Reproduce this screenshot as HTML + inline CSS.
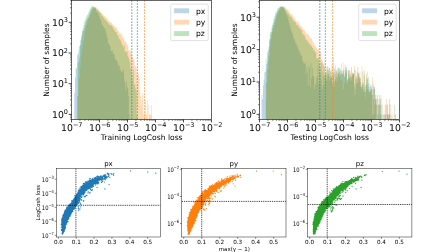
<!DOCTYPE html><html><head><meta charset="utf-8"><title>LogCosh loss</title>
<style>html,body{margin:0;padding:0;background:#fff}svg{display:block}text{font-family:"DejaVu Sans","Liberation Sans",sans-serif;fill:#000;text-rendering:geometricPrecision}</style></head><body>
<svg width="448" height="252" viewBox="0 0 448 252">
<rect width="448" height="252" fill="#fff"/>
<clipPath id="c1"><rect x="71.5" y="0.3" width="140" height="119.2"/></clipPath>
<g clip-path="url(#c1)">
<path d="M74.3 119.5V92.94H75V77.43H75.7V68.19H76.4V67.78H77.1V54.7H77.8V53.68H78.5V50.24H79.2V46.16H79.9V44.94H80.6V40.78H81.3V37.41H82V34.35H82.7V30.89H83.4V30.32H84.1V28.23H84.8V25.6H85.5V23.37H86.2V20.71H86.9V19.34H87.6V17.98H88.3V16.75H89V15.09H89.7V12.95H90.4V11.15H91.1V9.01H91.8V8.68H92.5V7.09H93.2V7.72H93.9V7.74H94.6V8.13H95.3V8.88H96V10.98H96.7V11.89H97.4V13.01H98.1V14.15H98.8V16H99.5V18.31H100.2V19.49H100.9V21.57H101.6V24H102.3V25.19H103V26.17H103.7V27.7H104.4V28.35H105.1V30.82H105.8V33.28H106.5V36.57H107.2V38.71H107.9V42.86H108.6V44.03H109.3V45.62H110V46.82H110.7V51.02H111.4V51.02H112.1V50.46H112.8V54.11H113.5V53.54H114.2V54.7H114.9V59.16H115.6V60.26H116.3V60.03H117V61.22H117.7V64.57H118.4V65.55H119.1V65.55H119.8V69.97H120.5V69.97H121.2V72.03H121.9V72.59H122.6V69.05H123.3V70.96H124V79.21H124.7V82.43H125.4V90.51H126.1V81.27H126.8V86.68H127.5V88.46H128.2V95.92H128.9V114.4H129.6V119.5" fill="#1f77b4" fill-opacity="0.3"/>
<path d="M77.8 119.5V95.92H78.5V78.29H79.2V77.43H79.9V66.62H80.6V56.66H81.3V51.61H82V49H82.7V45.09H83.4V41.05H84.1V35.31H84.8V30.89H85.5V27.64H86.2V25.36H86.9V22.31H87.6V20.59H88.3V19.09H89V16.74H89.7V15.72H90.4V14.08H91.1V12.81H91.8V10.68H92.5V8.76H93.2V8.32H93.9V7.21H94.6V6.85H95.3V6.9H96V7.37H96.7V8.47H97.4V8.87H98.1V9.68H98.8V10.39H99.5V11.41H100.2V11.82H100.9V12.68H101.6V13.89H102.3V13.88H103V14.9H103.7V16.01H104.4V16.08H105.1V17.31H105.8V17.71H106.5V18.12H107.2V19.52H107.9V20.23H108.6V21.1H109.3V21.61H110V22.3H110.7V22.54H111.4V23.08H112.1V24.31H112.8V25.77H113.5V24.82H114.2V25.94H114.9V26.79H115.6V27.36H116.3V27.96H117V30.47H117.7V31.3H118.4V31.49H119.1V33.65H119.8V32.77H120.5V33.8H121.2V35.27H121.9V35.56H122.6V37.96H123.3V38.09H124V40.57H124.7V41.5H125.4V41.67H126.1V43.3H126.8V45.24H127.5V45.31H128.2V49.81H128.9V51.14H129.6V49.92H130.3V51.73H131V55.17H131.7V55.01H132.4V57.95H133.1V58.74H133.8V60.26H134.5V65.22H135.2V66.26H135.9V67.78H136.6V74.46H137.3V83.7H138V73.81H138.7V77.43H139.4V90.51H140.1V95.92H140.8V105.16H141.5V99.75H142.2V92.94H142.9V114.4H143.6V119.5M144.3 119.5V114.4H145V99.75H145.7V114.4H146.4V114.4H147.1V99.75H147.8V119.5M148.5 119.5V105.16H149.2V114.4H149.9V114.4H150.6V114.4H151.3V105.16H152V119.5" fill="#ff7f0e" fill-opacity="0.3"/>
<path d="M77.1 119.5V95.92H77.8V62.79H78.5V60.73H79.2V57.2H79.9V45.31H80.6V39.66H81.3V35.52H82V30.97H82.7V28.19H83.4V25.04H84.1V21.59H84.8V20.06H85.5V18.44H86.2V16.55H86.9V15.36H87.6V14.16H88.3V12.03H89V10.58H89.7V8.81H90.4V7.9H91.1V6.95H91.8V6.28H92.5V5.81H93.2V6.61H93.9V6.85H94.6V7.6H95.3V8.09H96V9.03H96.7V9.53H97.4V9.97H98.1V10.93H98.8V11.6H99.5V12.48H100.2V12.96H100.9V14.24H101.6V15.76H102.3V16.28H103V17.25H103.7V17.94H104.4V19.51H105.1V19.99H105.8V20.4H106.5V21.22H107.2V22.62H107.9V22.78H108.6V24.16H109.3V24.67H110V25.34H110.7V25.09H111.4V25.82H112.1V26.62H112.8V28.02H113.5V29.24H114.2V29.75H114.9V31.76H115.6V32H116.3V32.65H117V35.03H117.7V35.31H118.4V37.58H119.1V38.99H119.8V39.61H120.5V40.68H121.2V43.11H121.9V44.8H122.6V44.65H123.3V47.24H124V45.62H124.7V51.85H125.4V51.14H126.1V52.22H126.8V51.25H127.5V56.31H128.2V57.57H128.9V59.59H129.6V62.24H130.3V68.62H131V67.38H131.7V80.2H132.4V74.46H133.1V69.5H133.8V85.1H134.5V83.7H135.2V88.46H135.9V90.51H136.6V114.4H137.3V119.5" fill="#2ca02c" fill-opacity="0.3"/>
<line x1="131.8" x2="131.8" y1="0.3" y2="119.5" stroke="#1f77b4" stroke-width="0.75" stroke-dasharray="1.6 1.4"/>
<line x1="137.35" x2="137.35" y1="0.3" y2="119.5" stroke="#2ca02c" stroke-width="0.75" stroke-dasharray="1.6 1.4"/>
<line x1="144.6" x2="144.6" y1="0.3" y2="119.5" stroke="#ff7f0e" stroke-width="0.75" stroke-dasharray="1.6 1.4"/>
</g>
<rect x="71.5" y="0.3" width="140" height="119.2" fill="none" stroke="#000" stroke-width="0.6"/>
<path d="M71.5 119.5v2.9M99.5 119.5v2.9M127.5 119.5v2.9M155.5 119.5v2.9M183.5 119.5v2.9M211.5 119.5v2.9" stroke="#000" stroke-width="0.7" fill="none"/>
<path d="M79.93 119.5v1.5M84.86 119.5v1.5M88.36 119.5v1.5M91.07 119.5v1.5M93.29 119.5v1.5M95.16 119.5v1.5M96.79 119.5v1.5M98.22 119.5v1.5M107.93 119.5v1.5M112.86 119.5v1.5M116.36 119.5v1.5M119.07 119.5v1.5M121.29 119.5v1.5M123.16 119.5v1.5M124.79 119.5v1.5M126.22 119.5v1.5M135.93 119.5v1.5M140.86 119.5v1.5M144.36 119.5v1.5M147.07 119.5v1.5M149.29 119.5v1.5M151.16 119.5v1.5M152.79 119.5v1.5M154.22 119.5v1.5M163.93 119.5v1.5M168.86 119.5v1.5M172.36 119.5v1.5M175.07 119.5v1.5M177.29 119.5v1.5M179.16 119.5v1.5M180.79 119.5v1.5M182.22 119.5v1.5M191.93 119.5v1.5M196.86 119.5v1.5M200.36 119.5v1.5M203.07 119.5v1.5M205.29 119.5v1.5M207.16 119.5v1.5M208.79 119.5v1.5M210.22 119.5v1.5" stroke="#000" stroke-width="0.45" fill="none"/>
<text x="71.8" y="130.6" font-size="9.3" text-anchor="middle">10<tspan dy="-3.7" font-size="6.5">−7</tspan></text>
<text x="99.8" y="130.6" font-size="9.3" text-anchor="middle">10<tspan dy="-3.7" font-size="6.5">−6</tspan></text>
<text x="127.8" y="130.6" font-size="9.3" text-anchor="middle">10<tspan dy="-3.7" font-size="6.5">−5</tspan></text>
<text x="155.8" y="130.6" font-size="9.3" text-anchor="middle">10<tspan dy="-3.7" font-size="6.5">−4</tspan></text>
<text x="183.8" y="130.6" font-size="9.3" text-anchor="middle">10<tspan dy="-3.7" font-size="6.5">−3</tspan></text>
<text x="211.8" y="130.6" font-size="9.3" text-anchor="middle">10<tspan dy="-3.7" font-size="6.5">−2</tspan></text>
<text x="68" y="117.8" font-size="9.3" text-anchor="end">10<tspan dy="-3.7" font-size="6.5">0</tspan></text>
<text x="68" y="87.1" font-size="9.3" text-anchor="end">10<tspan dy="-3.7" font-size="6.5">1</tspan></text>
<text x="68" y="56.4" font-size="9.3" text-anchor="end">10<tspan dy="-3.7" font-size="6.5">2</tspan></text>
<text x="68" y="25.7" font-size="9.3" text-anchor="end">10<tspan dy="-3.7" font-size="6.5">3</tspan></text>
<path d="M71.5 114.4h-2.9M71.5 83.7h-2.9M71.5 53h-2.9M71.5 22.3h-2.9" stroke="#000" stroke-width="0.7" fill="none"/>
<path d="M71.5 119.16h-1.5M71.5 117.38h-1.5M71.5 115.8h-1.5M71.5 105.16h-1.5M71.5 99.75h-1.5M71.5 95.92h-1.5M71.5 92.94h-1.5M71.5 90.51h-1.5M71.5 88.46h-1.5M71.5 86.68h-1.5M71.5 85.1h-1.5M71.5 74.46h-1.5M71.5 69.05h-1.5M71.5 65.22h-1.5M71.5 62.24h-1.5M71.5 59.81h-1.5M71.5 57.76h-1.5M71.5 55.98h-1.5M71.5 54.4h-1.5M71.5 43.76h-1.5M71.5 38.35h-1.5M71.5 34.52h-1.5M71.5 31.54h-1.5M71.5 29.11h-1.5M71.5 27.06h-1.5M71.5 25.28h-1.5M71.5 23.7h-1.5M71.5 13.06h-1.5M71.5 7.65h-1.5M71.5 3.82h-1.5M71.5 0.84h-1.5" stroke="#000" stroke-width="0.45" fill="none"/>
<text x="141.7" y="140.2" font-size="7.6" text-anchor="middle">Training LogCosh loss</text>
<text transform="translate(48.5 60.1) rotate(-90)" font-size="7.5" text-anchor="middle">Number of samples</text>
<rect x="170.7" y="4.1" width="37.5" height="36.5" rx="1.5" fill="#fff" fill-opacity="0.8" stroke="#ccc" stroke-width="0.6"/>
<rect x="174.1" y="8.3" width="15" height="4.9" fill="#1f77b4" fill-opacity="0.3"/>
<text x="195.9" y="13.5" font-size="7.6">px</text>
<rect x="174.1" y="19.7" width="15" height="4.9" fill="#ff7f0e" fill-opacity="0.3"/>
<text x="195.9" y="24.9" font-size="7.6">py</text>
<rect x="174.1" y="31.1" width="15" height="4.9" fill="#2ca02c" fill-opacity="0.3"/>
<text x="195.9" y="36.3" font-size="7.6">pz</text>
<clipPath id="c2"><rect x="259.5" y="0.3" width="140" height="119.2"/></clipPath>
<g clip-path="url(#c2)">
<path d="M261.6 119.5V94.89H262.3V98.94H263V85.14H263.7V79.43H264.4V72.25H265.1V71.56H265.8V58.8H266.5V63.98H267.2V52.22H267.9V50.47H268.6V46.24H269.3V41.02H270V39.16H270.7V34.62H271.4V31.93H272.1V27.88H272.8V24.89H273.5V23.61H274.2V20.36H274.9V18.16H275.6V16.01H276.3V14.02H277V12.47H277.7V10.67H278.4V9.88H279.1V8.63H279.8V7.54H280.5V6.59H281.2V6.62H281.9V7.33H282.6V6.84H283.3V8.45H284V8.35H284.7V10.48H285.4V12.77H286.1V14.21H286.8V15.03H287.5V17.67H288.2V20.29H288.9V22.94H289.6V25.36H290.3V28.95H291V30.96H291.7V32.5H292.4V34.57H293.1V37.82H293.8V38.89H294.5V40.57H295.2V43.43H295.9V43.16H296.6V45.38H297.3V47.03H298V49.46H298.7V52.22H299.4V50.77H300.1V54.62H300.8V54.42H301.5V55.88H302.2V61.48H302.9V61.15H303.6V64.37H304.3V63.59H305V62.15H305.7V73.73H306.4V66.54H307.1V71.56H307.8V85.14H308.5V65.63H309.2V68.02H309.9V87.02H310.6V63.59H311.3V78.31H312V68.02H312.7V76.29H313.4V76.29H314.1V89.19H314.8V83.48H315.5V85.14H316.2V78.31H316.9V76.29H317.6V65.63H318.3V83.48H319V72.97H319.7V83.48H320.4V73.73H321.1V79.43H321.8V89.19H322.5V85.14H323.2V76.29H323.9V85.14H324.6V78.31H325.3V72.97H326V79.43H326.7V80.66H327.4V65.63H328.1V70.28H328.8V80.66H329.5V76.29H330.2V78.31H330.9V77.27H331.6V72.97H332.3V83.48H333V72.97H333.7V87.02H334.4V68.55H335.1V79.43H335.8V70.28H336.5V82H337.2V72.97H337.9V74.53H338.6V72.25H339.3V76.29H340V69.11H340.7V70.91H341.4V79.43H342.1V74.53H342.8V89.19H343.5V70.28H344.2V77.27H344.9V73.73H345.6V71.56H346.3V70.28H347V83.48H347.7V80.66H348.4V70.28H349.1V70.28H349.8V77.27H350.5V80.66H351.2V67.02H351.9V76.29H352.6V73.73H353.3V73.73H354V83.48H354.7V94.89H355.4V89.19H356.1V83.48H356.8V72.25H357.5V83.48H358.2V73.73H358.9V77.27H359.6V78.31H360.3V82H361V89.19H361.7V87.02H362.4V85.14H363.1V91.75H363.8V75.39H364.5V89.19H365.2V91.75H365.9V85.14H366.6V85.14H367.3V89.19H368V83.48H368.7V89.19H369.4V91.75H370.1V85.14H370.8V87.02H371.5V89.19H372.2V94.89H372.9V83.48H373.6V114.4H374.3V87.02H375V94.89H375.7V104.65H376.4V104.65H377.1V94.89H377.8V114.4H378.5V104.65H379.2V94.89H379.9V98.94H380.6V104.65H381.3V114.4H382V119.5M383.4 119.5V114.4H384.1V114.4H384.8V119.5M386.9 119.5V114.4H387.6V114.4H388.3V119.5M389 119.5V98.94H389.7V114.4H390.4V119.5" fill="#1f77b4" fill-opacity="0.3"/>
<path d="M265.8 119.5V98.94H266.5V83.48H267.2V75.39H267.9V69.11H268.6V59.64H269.3V56.1H270V45.27H270.7V39.85H271.4V35.01H272.1V32.34H272.8V29.88H273.5V27.44H274.2V25.71H274.9V22.36H275.6V20.59H276.3V18.36H277V14.58H277.7V13.73H278.4V11.29H279.1V10.54H279.8V8.87H280.5V7.29H281.2V7.43H281.9V6.98H282.6V6.42H283.3V6.67H284V6.91H284.7V6.82H285.4V7.77H286.1V8.65H286.8V9.33H287.5V10.03H288.2V10.61H288.9V11.96H289.6V12.57H290.3V13.87H291V14.21H291.7V14.45H292.4V15.85H293.1V16.92H293.8V17.7H294.5V18.89H295.2V19.75H295.9V21.61H296.6V21.59H297.3V21.27H298V22.14H298.7V24.79H299.4V23.41H300.1V25.84H300.8V26.05H301.5V26.95H302.2V28.37H302.9V29.99H303.6V29.34H304.3V30.23H305V31.81H305.7V33.73H306.4V33.91H307.1V32.72H307.8V35.42H308.5V34.81H309.2V36.26H309.9V38.96H310.6V38.25H311.3V38.57H312V40.87H312.7V43.52H313.4V42.38H314.1V44.47H314.8V46.35H315.5V46.35H316.2V47.88H316.9V49.05H317.6V50.03H318.3V48.91H319V54.62H319.7V52.92H320.4V51.4H321.1V59.35H321.8V59.07H322.5V61.15H323.2V65.2H323.9V67.02H324.6V66.54H325.3V74.53H326V67.02H326.7V75.39H327.4V67.51H328.1V73.73H328.8V68.02H329.5V76.29H330.2V72.25H330.9V69.68H331.6V76.29H332.3V67.51H333V57.26H333.7V67.02H334.4V79.43H335.1V64.78H335.8V72.25H336.5V71.56H337.2V67.51H337.9V73.73H338.6V70.28H339.3V72.97H340V80.66H340.7V70.91H341.4V63.22H342.1V70.91H342.8V68.55H343.5V62.49H344.2V83.48H344.9V64.78H345.6V82H346.3V80.66H347V79.43H347.7V69.68H348.4V70.28H349.1V76.29H349.8V72.97H350.5V70.91H351.2V79.43H351.9V73.73H352.6V72.97H353.3V72.97H354V66.08H354.7V70.28H355.4V75.39H356.1V76.29H356.8V82H357.5V71.56H358.2V76.29H358.9V73.73H359.6V71.56H360.3V78.31H361V85.14H361.7V66.08H362.4V71.56H363.1V89.19H363.8V74.53H364.5V87.02H365.2V98.94H365.9V77.27H366.6V83.48H367.3V71.56H368V91.75H368.7V94.89H369.4V83.48H370.1V89.19H370.8V89.19H371.5V94.89H372.2V77.27H372.9V89.19H373.6V89.19H374.3V104.65H375V98.94H375.7V94.89H376.4V98.94H377.1V114.4H377.8V104.65H378.5V119.5M380.6 119.5V94.89H381.3V119.5M382 119.5V104.65H382.7V119.5M384.8 119.5V104.65H385.5V114.4H386.2V98.94H386.9V104.65H387.6V119.5M388.3 119.5V114.4H389V104.65H389.7V119.5M390.4 119.5V104.65H391.1V114.4H391.8V119.5M392.5 119.5V114.4H393.2V119.5M395.3 119.5V114.4H396V119.5" fill="#ff7f0e" fill-opacity="0.3"/>
<path d="M265.8 119.5V82H266.5V69.11H267.2V61.81H267.9V55.45H268.6V48.39H269.3V38.38H270V32.59H270.7V31.46H271.4V27.68H272.1V25.28H272.8V22.56H273.5V19.26H274.2V16.26H274.9V13.76H275.6V12.13H276.3V11.3H277V9.19H277.7V7.8H278.4V7.94H279.1V6.9H279.8V7.15H280.5V5.79H281.2V6.94H281.9V6.38H282.6V6.17H283.3V7.42H284V8.56H284.7V9.84H285.4V9.82H286.1V10.77H286.8V11.71H287.5V13.81H288.2V13.58H288.9V14.81H289.6V16.21H290.3V16.77H291V17.07H291.7V18.39H292.4V19.4H293.1V20.99H293.8V20.97H294.5V21.71H295.2V22.38H295.9V25.43H296.6V24.36H297.3V24.94H298V26.27H298.7V27.73H299.4V28.04H300.1V28.95H300.8V30.56H301.5V29.78H302.2V34.24H302.9V34H303.6V35.52H304.3V35.42H305V38.25H305.7V39.64H306.4V39.92H307.1V41.1H307.8V42.13H308.5V43.71H309.2V43.8H309.9V44.67H310.6V46.35H311.3V45.69H312V47.63H312.7V48.01H313.4V50.93H314.1V49.88H314.8V52.39H315.5V52.05H316.2V58.27H316.9V58.53H317.6V58.27H318.3V57.51H319V63.59H319.7V61.48H320.4V67.51H321.1V62.85H321.8V63.22H322.5V71.56H323.2V64.37H323.9V74.53H324.6V63.22H325.3V75.39H326V71.56H326.7V73.73H327.4V70.28H328.1V73.73H328.8V68.55H329.5V67.51H330.2V70.91H330.9V77.27H331.6V64.78H332.3V83.48H333V75.39H333.7V72.25H334.4V82H335.1V74.53H335.8V69.68H336.5V76.29H337.2V78.31H337.9V68.02H338.6V67.51H339.3V68.55H340V74.53H340.7V74.53H341.4V72.97H342.1V73.73H342.8V71.56H343.5V73.73H344.2V76.29H344.9V67.51H345.6V69.68H346.3V66.54H347V79.43H347.7V78.31H348.4V73.73H349.1V78.31H349.8V74.53H350.5V77.27H351.2V76.29H351.9V72.25H352.6V74.53H353.3V73.73H354V87.02H354.7V69.68H355.4V79.43H356.1V77.27H356.8V78.31H357.5V67.02H358.2V72.97H358.9V80.66H359.6V77.27H360.3V87.02H361V87.02H361.7V82H362.4V83.48H363.1V83.48H363.8V70.28H364.5V91.75H365.2V85.14H365.9V73.73H366.6V79.43H367.3V78.31H368V77.27H368.7V87.02H369.4V91.75H370.1V91.75H370.8V89.19H371.5V85.14H372.2V114.4H372.9V98.94H373.6V87.02H374.3V89.19H375V98.94H375.7V98.94H376.4V119.5M377.8 119.5V98.94H378.5V104.65H379.2V104.65H379.9V114.4H380.6V98.94H381.3V119.5M382.7 119.5V114.4H383.4V119.5M384.8 119.5V114.4H385.5V104.65H386.2V119.5M386.9 119.5V104.65H387.6V119.5M388.3 119.5V114.4H389V114.4H389.7V119.5M393.9 119.5V104.65H394.6V119.5M395.3 119.5V114.4H396V119.5" fill="#2ca02c" fill-opacity="0.3"/>
<line x1="319.8" x2="319.8" y1="0.3" y2="119.5" stroke="#1f77b4" stroke-width="0.75" stroke-dasharray="1.6 1.4"/>
<line x1="325.35" x2="325.35" y1="0.3" y2="119.5" stroke="#2ca02c" stroke-width="0.75" stroke-dasharray="1.6 1.4"/>
<line x1="332.65" x2="332.65" y1="0.3" y2="119.5" stroke="#ff7f0e" stroke-width="0.75" stroke-dasharray="1.6 1.4"/>
</g>
<rect x="259.5" y="0.3" width="140" height="119.2" fill="none" stroke="#000" stroke-width="0.6"/>
<path d="M259.5 119.5v2.9M287.5 119.5v2.9M315.5 119.5v2.9M343.5 119.5v2.9M371.5 119.5v2.9M399.5 119.5v2.9" stroke="#000" stroke-width="0.7" fill="none"/>
<path d="M267.93 119.5v1.5M272.86 119.5v1.5M276.36 119.5v1.5M279.07 119.5v1.5M281.29 119.5v1.5M283.16 119.5v1.5M284.79 119.5v1.5M286.22 119.5v1.5M295.93 119.5v1.5M300.86 119.5v1.5M304.36 119.5v1.5M307.07 119.5v1.5M309.29 119.5v1.5M311.16 119.5v1.5M312.79 119.5v1.5M314.22 119.5v1.5M323.93 119.5v1.5M328.86 119.5v1.5M332.36 119.5v1.5M335.07 119.5v1.5M337.29 119.5v1.5M339.16 119.5v1.5M340.79 119.5v1.5M342.22 119.5v1.5M351.93 119.5v1.5M356.86 119.5v1.5M360.36 119.5v1.5M363.07 119.5v1.5M365.29 119.5v1.5M367.16 119.5v1.5M368.79 119.5v1.5M370.22 119.5v1.5M379.93 119.5v1.5M384.86 119.5v1.5M388.36 119.5v1.5M391.07 119.5v1.5M393.29 119.5v1.5M395.16 119.5v1.5M396.79 119.5v1.5M398.22 119.5v1.5" stroke="#000" stroke-width="0.45" fill="none"/>
<text x="259.8" y="130.6" font-size="9.3" text-anchor="middle">10<tspan dy="-3.7" font-size="6.5">−7</tspan></text>
<text x="287.8" y="130.6" font-size="9.3" text-anchor="middle">10<tspan dy="-3.7" font-size="6.5">−6</tspan></text>
<text x="315.8" y="130.6" font-size="9.3" text-anchor="middle">10<tspan dy="-3.7" font-size="6.5">−5</tspan></text>
<text x="343.8" y="130.6" font-size="9.3" text-anchor="middle">10<tspan dy="-3.7" font-size="6.5">−4</tspan></text>
<text x="371.8" y="130.6" font-size="9.3" text-anchor="middle">10<tspan dy="-3.7" font-size="6.5">−3</tspan></text>
<text x="399.8" y="130.6" font-size="9.3" text-anchor="middle">10<tspan dy="-3.7" font-size="6.5">−2</tspan></text>
<text x="256" y="117.8" font-size="9.3" text-anchor="end">10<tspan dy="-3.7" font-size="6.5">0</tspan></text>
<text x="256" y="85.4" font-size="9.3" text-anchor="end">10<tspan dy="-3.7" font-size="6.5">1</tspan></text>
<text x="256" y="53" font-size="9.3" text-anchor="end">10<tspan dy="-3.7" font-size="6.5">2</tspan></text>
<text x="256" y="20.6" font-size="9.3" text-anchor="end">10<tspan dy="-3.7" font-size="6.5">3</tspan></text>
<path d="M259.5 114.4h-2.9M259.5 82h-2.9M259.5 49.6h-2.9M259.5 17.2h-2.9" stroke="#000" stroke-width="0.7" fill="none"/>
<path d="M259.5 119.42h-1.5M259.5 117.54h-1.5M259.5 115.88h-1.5M259.5 104.65h-1.5M259.5 98.94h-1.5M259.5 94.89h-1.5M259.5 91.75h-1.5M259.5 89.19h-1.5M259.5 87.02h-1.5M259.5 85.14h-1.5M259.5 83.48h-1.5M259.5 72.25h-1.5M259.5 66.54h-1.5M259.5 62.49h-1.5M259.5 59.35h-1.5M259.5 56.79h-1.5M259.5 54.62h-1.5M259.5 52.74h-1.5M259.5 51.08h-1.5M259.5 39.85h-1.5M259.5 34.14h-1.5M259.5 30.09h-1.5M259.5 26.95h-1.5M259.5 24.39h-1.5M259.5 22.22h-1.5M259.5 20.34h-1.5M259.5 18.68h-1.5M259.5 7.45h-1.5M259.5 1.74h-1.5" stroke="#000" stroke-width="0.45" fill="none"/>
<text x="329.7" y="140.2" font-size="7.6" text-anchor="middle">Testing LogCosh loss</text>
<text transform="translate(236.5 60.1) rotate(-90)" font-size="7.5" text-anchor="middle">Number of samples</text>
<rect x="358.7" y="4.1" width="37.5" height="36.5" rx="1.5" fill="#fff" fill-opacity="0.8" stroke="#ccc" stroke-width="0.6"/>
<rect x="362.1" y="8.3" width="15" height="4.9" fill="#1f77b4" fill-opacity="0.3"/>
<text x="383.9" y="13.5" font-size="7.6">px</text>
<rect x="362.1" y="19.7" width="15" height="4.9" fill="#ff7f0e" fill-opacity="0.3"/>
<text x="383.9" y="24.9" font-size="7.6">py</text>
<rect x="362.1" y="31.1" width="15" height="4.9" fill="#2ca02c" fill-opacity="0.3"/>
<text x="383.9" y="36.3" font-size="7.6">pz</text>
<clipPath id="s1"><rect x="56.4" y="168.4" width="104.1" height="68.6"/></clipPath>
<g clip-path="url(#s1)">
<path d="M63.7 220.3h0M76.0 202.4h0M79.1 196.4h0M62.8 228.8h0M64.9 219.3h0M94.8 180.5h0M63.6 224.8h0M63.0 220.0h0M98.1 182.5h0M79.4 195.0h0M70.1 207.5h0M75.0 200.9h0M79.7 191.8h0M67.3 212.1h0M62.3 219.3h0M86.7 187.2h0M80.3 191.6h0M76.3 201.6h0M88.0 185.9h0M78.8 200.2h0M102.5 177.3h0M66.1 216.0h0M76.4 198.6h0M75.2 203.0h0M69.7 208.2h0M78.0 196.6h0M67.3 214.6h0M86.2 185.1h0M90.8 184.0h0M64.9 220.6h0M75.8 204.6h0M67.5 212.0h0M62.4 223.6h0M91.1 180.1h0M71.7 204.2h0M64.9 219.3h0M80.2 191.3h0M68.7 217.3h0M92.5 181.5h0M66.2 215.2h0M64.0 228.5h0M65.5 216.0h0M67.4 207.1h0M73.4 202.9h0M92.3 180.3h0M81.0 189.5h0M68.6 208.5h0M63.4 230.4h0M65.4 218.6h0M108.9 173.9h0M74.8 204.4h0M82.0 191.1h0M64.0 226.3h0M62.6 228.2h0M91.6 187.3h0M78.0 196.9h0M68.6 210.6h0M67.1 208.9h0M65.2 223.5h0M63.8 217.3h0M63.0 229.3h0M89.4 185.3h0M75.1 204.2h0M63.8 220.4h0M85.0 189.7h0M66.3 216.7h0M64.8 225.7h0M78.5 196.3h0M91.8 181.3h0M62.7 229.0h0M87.7 186.7h0M67.6 217.6h0M66.0 223.5h0M63.3 230.2h0M66.3 210.0h0M82.7 188.5h0M74.2 201.7h0M90.0 184.5h0M64.8 214.7h0M67.9 209.6h0M68.8 213.8h0M101.6 177.1h0M96.4 180.5h0M68.5 208.2h0M72.6 204.5h0M69.1 210.6h0M84.0 188.0h0M64.2 227.7h0M63.7 225.1h0M71.8 206.2h0M65.4 213.1h0M88.0 182.7h0M83.0 187.5h0M78.0 200.0h0M79.4 191.7h0M81.2 190.3h0M85.9 186.9h0M94.8 180.6h0M62.7 218.6h0M77.8 193.6h0M64.3 219.4h0M72.1 203.5h0M84.2 184.2h0M91.6 181.1h0M84.5 187.3h0M64.9 228.3h0M72.3 209.8h0M62.9 217.8h0M112.1 174.2h0M62.9 219.0h0M67.4 214.1h0M70.0 208.2h0M63.8 225.7h0M90.1 182.3h0M81.1 194.8h0M63.0 218.0h0M76.1 202.5h0M65.0 224.3h0M76.7 194.3h0M70.0 215.9h0M62.7 227.7h0M66.7 222.0h0M77.7 199.2h0M80.0 194.1h0M70.6 211.0h0M80.0 193.6h0M69.2 208.0h0M65.7 220.7h0M68.1 209.8h0M70.5 205.8h0M95.7 185.1h0M62.1 220.8h0M65.4 223.8h0M76.4 198.0h0M99.3 179.6h0M93.5 182.3h0M81.5 189.8h0M63.4 225.1h0M87.5 186.3h0M82.3 191.9h0M63.4 219.2h0M73.0 202.9h0M62.3 226.6h0M88.3 187.9h0M83.3 189.9h0M87.6 186.6h0M85.6 188.5h0M66.6 212.3h0M85.7 185.7h0M66.3 213.3h0M64.9 220.0h0M72.8 208.1h0M75.7 202.3h0M69.1 212.5h0M76.9 194.9h0M78.8 196.1h0M66.5 213.9h0M79.7 195.1h0M70.8 208.8h0M88.0 192.9h0M68.6 211.9h0M86.4 185.7h0M73.0 206.4h0M77.9 199.4h0M80.4 191.4h0M78.2 202.3h0M65.9 212.6h0M102.0 177.3h0M63.1 222.6h0M71.3 211.4h0M78.1 199.8h0M63.1 228.9h0M67.0 219.3h0M86.2 185.4h0M85.1 185.6h0M78.1 192.9h0M93.3 183.0h0M84.8 188.1h0M67.3 210.3h0M79.9 193.3h0M68.3 208.2h0M88.2 191.8h0M70.1 206.3h0M64.2 218.8h0M89.6 180.5h0M81.9 191.1h0M84.2 188.4h0M76.6 198.3h0M85.7 186.5h0M72.7 203.8h0M76.1 197.6h0M63.3 225.5h0M77.3 199.0h0M89.5 188.0h0M84.2 191.8h0M86.6 185.6h0M73.8 201.3h0M92.3 184.6h0M64.4 221.9h0M90.0 181.4h0M68.8 206.2h0M65.1 223.4h0M80.6 195.9h0M73.5 203.9h0M74.1 206.3h0M89.6 184.1h0M66.3 220.3h0M79.9 195.7h0M73.6 207.0h0M74.6 199.5h0M73.7 201.0h0M65.3 220.3h0M74.7 200.7h0M90.4 184.0h0M67.4 218.5h0M64.2 231.2h0M65.3 225.3h0M74.9 204.5h0M100.4 176.4h0M63.0 227.2h0M106.4 177.0h0M76.7 200.1h0M65.4 221.3h0M73.8 206.8h0M67.8 216.6h0M83.7 190.6h0M79.2 200.9h0M67.8 211.4h0M65.8 212.7h0M91.4 185.1h0M85.5 187.9h0M74.3 205.9h0M72.8 207.0h0M81.5 186.5h0M100.4 178.7h0M65.3 224.2h0M65.8 218.8h0M69.0 207.1h0M76.0 201.8h0M64.6 224.8h0M64.5 226.4h0M64.5 214.4h0M72.1 207.9h0M82.9 187.6h0M77.8 195.0h0M63.5 228.9h0M62.0 226.9h0M74.1 204.6h0M91.0 183.2h0M92.6 179.3h0M69.0 206.9h0M91.6 182.5h0M96.4 183.1h0M72.1 206.3h0M84.5 188.6h0M70.6 208.1h0M65.4 219.0h0M77.7 197.7h0M63.3 223.4h0M79.3 191.5h0M88.6 187.4h0M94.0 181.6h0M72.6 203.7h0M65.1 221.4h0M92.3 181.0h0M90.3 182.7h0M100.0 179.4h0M77.9 196.4h0M82.2 192.5h0M69.0 206.3h0M65.5 217.2h0M69.6 212.5h0M82.4 188.8h0M68.0 209.0h0M81.7 190.8h0M74.7 201.4h0M74.9 205.4h0M100.2 179.7h0M67.3 218.7h0M76.5 203.5h0M63.7 218.2h0M96.9 182.4h0M75.8 203.0h0M69.8 209.8h0M67.9 218.8h0M77.7 196.2h0M71.6 206.5h0M67.1 221.2h0M63.8 228.5h0M71.7 207.1h0M74.8 195.7h0M75.7 200.8h0M92.0 181.0h0M95.0 184.1h0M96.2 181.2h0M88.6 188.4h0M75.8 203.8h0M77.6 201.5h0M71.5 206.5h0M73.2 207.7h0M61.3 227.2h0M84.6 183.4h0M67.4 213.9h0M62.3 228.7h0M74.3 203.6h0M82.2 188.9h0M72.2 204.2h0M72.0 209.2h0M81.6 193.3h0M66.3 218.6h0M62.6 231.1h0M77.9 196.5h0M75.7 200.0h0M88.8 180.8h0M70.5 204.3h0M85.6 186.0h0M63.1 230.2h0M62.9 229.0h0M78.4 196.3h0M69.1 215.9h0M64.5 225.2h0M65.7 220.9h0M71.4 208.0h0M70.4 209.9h0M75.9 197.7h0M92.6 184.1h0M71.8 209.0h0M64.9 216.8h0M76.6 196.9h0M62.9 233.3h0M73.1 208.7h0M71.0 211.7h0M72.3 207.9h0M65.2 226.8h0M75.4 198.1h0M79.8 195.0h0M84.7 188.4h0M97.5 177.4h0M69.2 207.8h0M80.2 192.6h0M72.6 204.1h0M66.6 215.6h0M92.2 183.1h0M82.5 186.7h0M95.7 178.4h0M87.8 185.1h0M93.2 179.9h0M63.7 220.4h0M63.2 230.5h0M65.6 216.2h0M70.6 204.6h0M80.9 190.5h0M73.4 205.0h0M80.9 204.4h0M85.0 187.7h0M63.2 224.7h0M81.1 191.4h0M62.3 226.6h0M65.0 212.8h0M82.6 188.9h0M80.9 190.9h0M72.7 206.9h0M66.9 210.3h0M87.3 183.7h0M67.9 212.4h0M64.4 228.7h0M70.3 215.1h0M62.3 229.7h0M87.3 185.6h0M64.1 220.8h0M100.7 177.5h0M68.8 216.6h0M69.2 211.2h0M78.3 197.2h0M70.0 211.6h0M72.0 208.2h0M62.3 221.7h0M72.1 207.6h0M62.3 229.2h0M67.4 215.3h0M93.5 182.0h0M67.8 212.0h0M66.2 211.9h0M83.5 193.0h0M91.8 183.4h0M67.7 210.8h0M72.1 208.5h0M83.2 190.0h0M87.8 188.2h0M79.9 195.9h0M64.6 217.1h0M64.4 216.9h0M86.9 190.1h0M82.1 189.8h0M92.4 182.3h0M85.8 186.9h0M72.5 205.6h0M62.0 219.6h0M93.3 184.8h0M80.9 189.6h0M77.0 197.3h0M81.5 191.4h0M73.2 208.8h0M71.8 210.6h0M80.7 199.2h0M74.5 202.6h0M81.6 189.1h0M95.1 179.3h0M90.1 185.2h0M71.1 206.9h0M71.5 208.3h0M94.7 180.6h0M72.4 207.4h0M87.8 187.4h0M64.1 223.1h0M74.5 204.9h0M76.0 201.2h0M88.3 187.1h0M90.3 181.7h0M63.8 218.7h0M79.6 195.4h0M79.8 194.6h0M67.2 219.6h0M89.1 185.5h0M76.5 198.7h0M98.7 178.7h0M63.8 216.2h0M75.0 199.9h0M71.2 211.5h0M80.6 194.0h0M77.3 194.9h0M74.9 200.8h0M68.4 209.3h0M76.5 202.4h0M69.7 206.9h0M91.7 182.0h0M73.9 203.8h0M75.3 203.7h0M65.7 212.5h0M70.2 214.6h0M98.2 180.7h0M68.3 210.0h0M90.8 183.8h0M80.0 197.3h0M102.4 177.3h0M64.9 218.2h0M95.6 178.5h0M86.5 188.6h0M77.1 197.9h0M82.1 189.5h0M83.9 190.0h0M78.2 208.1h0M80.7 194.7h0M67.9 215.3h0M62.0 229.6h0M80.8 191.4h0M75.8 204.0h0M92.4 180.6h0M70.1 214.0h0M89.4 187.5h0M103.7 175.4h0M93.3 183.5h0M99.1 178.4h0M63.9 218.3h0M63.7 217.9h0M67.5 215.1h0M71.6 209.1h0M65.3 221.6h0M64.1 218.9h0M63.4 230.2h0M95.4 180.4h0M70.4 208.3h0M79.4 194.6h0M74.1 204.4h0M82.9 187.3h0M88.4 187.4h0M70.8 206.9h0M76.9 200.2h0M64.0 222.7h0M67.3 211.3h0M68.7 216.0h0M67.2 209.6h0M67.9 208.9h0M78.4 198.1h0M69.9 209.9h0M70.2 210.5h0M87.3 183.4h0M62.4 231.0h0M62.9 232.3h0M63.6 226.0h0M91.0 184.6h0M82.9 196.1h0M84.6 190.2h0M98.1 178.8h0M66.1 215.2h0M94.9 182.4h0M65.7 213.4h0M76.4 201.2h0M80.5 190.8h0M85.7 185.0h0M68.9 214.5h0M73.8 202.6h0M63.0 227.0h0M70.3 213.2h0M102.7 177.8h0M93.3 182.4h0M78.9 197.8h0M86.1 186.6h0M92.8 182.0h0M71.9 211.4h0M102.9 178.8h0M72.8 203.8h0M66.4 218.9h0M75.9 200.1h0M78.4 196.6h0M81.8 190.7h0M83.3 193.4h0M64.2 227.6h0M77.9 192.6h0M94.9 182.0h0M81.3 192.2h0M102.4 181.4h0M77.5 202.4h0M86.4 184.5h0M64.3 219.6h0M92.4 182.4h0M72.7 204.6h0M91.7 184.3h0M69.0 210.0h0M79.4 194.7h0M88.0 182.6h0M85.0 192.1h0M77.7 194.0h0M100.1 178.1h0M62.3 223.1h0M63.4 222.2h0M75.8 198.5h0M96.7 176.3h0M81.9 191.3h0M70.0 211.6h0M63.7 221.8h0M74.0 204.7h0M73.2 202.0h0M75.4 204.2h0M78.0 194.3h0M69.6 213.3h0M90.9 182.3h0M66.1 210.3h0M64.6 222.1h0M69.3 208.3h0M96.6 182.0h0M62.6 218.0h0M68.0 212.3h0M94.3 180.0h0M70.5 209.3h0M89.3 184.6h0M62.8 227.0h0M91.3 181.8h0M65.1 213.5h0M63.1 216.4h0M84.2 188.6h0M106.1 178.0h0M98.3 178.9h0M85.3 188.8h0M97.1 187.4h0M103.9 175.2h0M77.4 199.2h0M67.2 220.1h0M90.5 185.5h0M72.7 207.6h0M67.7 209.7h0M75.3 201.8h0M62.8 228.1h0M63.3 230.1h0M66.1 212.3h0M79.1 196.8h0M83.1 186.9h0M98.3 179.6h0M87.5 185.0h0M96.1 179.8h0M78.6 193.2h0M84.3 189.4h0M76.4 196.1h0M64.4 224.0h0M62.9 225.5h0M85.1 188.0h0M68.1 217.0h0M85.6 185.6h0M75.3 204.5h0M63.2 232.0h0M78.6 199.2h0M72.9 204.3h0M62.6 224.4h0M69.1 213.7h0M69.5 211.4h0M69.8 208.9h0M81.9 189.6h0M63.1 217.5h0M73.2 204.5h0M78.9 195.8h0M97.0 180.4h0M65.1 221.6h0M62.4 223.9h0M67.5 217.4h0M67.5 215.6h0M67.6 219.0h0M64.9 224.5h0M68.3 216.6h0M68.2 215.7h0M74.7 203.0h0M80.9 193.8h0M69.5 207.4h0M64.2 217.7h0M65.6 223.3h0M69.4 213.7h0M64.1 217.5h0M73.7 202.3h0M92.0 185.6h0M80.9 187.7h0M65.8 216.0h0M63.2 228.1h0M63.2 225.0h0M74.5 206.1h0M71.3 208.7h0M82.4 192.1h0M65.2 223.9h0M66.8 213.2h0M80.6 190.4h0M78.4 198.6h0M73.6 199.7h0M92.4 181.5h0M65.5 221.8h0M67.2 217.1h0M77.4 198.3h0M77.8 198.5h0M102.2 177.4h0M101.4 177.2h0M78.2 197.0h0M84.4 187.4h0M81.3 189.8h0M63.6 220.0h0M79.7 196.6h0M69.7 211.6h0M71.3 209.1h0M63.3 218.3h0M63.2 231.7h0M89.0 183.1h0M82.5 189.2h0M85.4 189.0h0M67.5 211.3h0M71.4 204.9h0M64.7 217.3h0M77.0 195.2h0M87.3 182.5h0M86.4 187.8h0M96.7 182.6h0M66.0 212.4h0M79.9 188.2h0M61.6 219.9h0M76.4 199.9h0M63.5 221.6h0M75.8 199.3h0M76.5 199.5h0M70.1 209.0h0M68.1 207.4h0M81.7 188.9h0M75.0 203.1h0M71.4 205.6h0M63.9 221.5h0M68.2 212.1h0M89.1 183.9h0M100.7 178.8h0M71.9 208.5h0M91.5 184.8h0M90.4 182.5h0M66.9 215.5h0M65.2 211.1h0M82.1 190.8h0M68.1 210.4h0M97.7 178.8h0M70.9 208.4h0M82.8 188.3h0M83.4 190.9h0M68.3 216.4h0M90.3 183.5h0M68.0 208.7h0M62.9 221.4h0M64.1 226.7h0M72.9 203.6h0M79.8 194.3h0M64.6 211.1h0M90.4 186.3h0M65.1 211.6h0M90.1 185.2h0M62.6 228.3h0M66.1 212.4h0M64.9 218.5h0M72.8 203.8h0M71.9 210.1h0M70.2 205.6h0M91.1 186.2h0M76.4 196.7h0M77.9 195.4h0M73.3 208.5h0M86.9 185.3h0M74.2 201.1h0M84.8 188.8h0M93.6 181.1h0M78.9 195.5h0M71.9 204.0h0M67.5 212.9h0M94.1 182.4h0M83.9 186.1h0M86.1 185.3h0M64.9 214.4h0M74.1 205.7h0M90.0 180.2h0M66.3 213.5h0M86.9 184.7h0M76.8 200.0h0M65.7 215.0h0M72.6 209.0h0M65.3 224.5h0M80.3 191.3h0M83.6 189.4h0M62.9 228.8h0M70.1 212.2h0M85.3 187.4h0M68.0 217.1h0M75.4 199.3h0M86.7 185.4h0M77.8 198.1h0M66.1 221.4h0M93.2 181.5h0M84.1 188.1h0M79.3 199.2h0M70.1 210.0h0M76.3 196.5h0M71.0 206.5h0M64.7 221.2h0M62.1 220.4h0M63.2 227.1h0M64.6 217.7h0M69.6 214.9h0M80.7 194.6h0M79.3 198.1h0M77.4 196.4h0M85.3 181.8h0M63.9 222.8h0M71.9 207.4h0M62.5 223.9h0M71.8 205.2h0M61.7 223.9h0M63.2 225.1h0M65.1 222.4h0M71.4 206.9h0M85.5 188.1h0M69.5 212.9h0M82.8 187.4h0M67.6 214.8h0M71.2 213.8h0M76.1 204.4h0M63.3 224.4h0M74.3 204.9h0M76.2 196.3h0M89.7 187.2h0M64.3 226.2h0M86.1 185.2h0M77.1 197.8h0M77.7 197.5h0M63.7 226.6h0M91.9 184.1h0M68.9 212.8h0M77.6 199.8h0M77.2 200.1h0M93.1 181.0h0M78.9 196.3h0M105.9 175.1h0M66.9 214.6h0M80.5 192.3h0M83.7 200.6h0M76.4 201.6h0M80.4 195.1h0M79.8 200.6h0M69.9 209.6h0M78.0 192.5h0M65.6 224.0h0M75.9 203.7h0M74.0 204.4h0M65.3 215.1h0M76.8 197.8h0M80.5 191.7h0M65.9 221.1h0M68.0 211.0h0M64.0 225.6h0M77.8 196.0h0M64.1 223.9h0M65.6 214.2h0M73.1 204.1h0M74.6 204.9h0M62.7 228.3h0M98.4 183.6h0M68.2 215.3h0M79.0 195.6h0M66.1 214.9h0M77.5 196.0h0M69.8 208.4h0M70.1 211.0h0M74.4 203.2h0M78.3 197.1h0M77.3 195.7h0M81.0 190.5h0M69.1 213.3h0M62.8 222.9h0M68.2 213.8h0M70.5 210.8h0M78.3 195.5h0M72.1 205.7h0M69.8 211.3h0M62.9 222.3h0M79.7 197.1h0M62.4 221.3h0M75.2 200.6h0M81.4 190.8h0M80.8 195.7h0M65.5 218.7h0M68.4 207.1h0M95.8 179.3h0M64.7 223.3h0M83.0 192.7h0M74.7 206.3h0M78.4 195.0h0M71.7 206.9h0M64.3 220.8h0M77.3 198.4h0M62.7 232.1h0M90.3 183.7h0M87.2 186.8h0M69.9 207.0h0M77.9 200.6h0M76.6 200.7h0M102.3 177.8h0M63.6 227.3h0M69.9 212.3h0M72.4 206.5h0M85.2 185.4h0M83.7 189.2h0M78.7 210.5h0M63.8 231.2h0M80.1 193.2h0M73.2 207.2h0M63.2 221.0h0M78.4 193.6h0M72.9 204.1h0M66.5 209.2h0M67.4 212.5h0M78.6 202.3h0M66.7 213.5h0M70.5 205.9h0M96.0 179.4h0M73.0 202.1h0M65.5 212.7h0M76.7 201.2h0M94.8 182.8h0M90.6 183.9h0M82.2 192.2h0M93.2 183.2h0M85.4 188.6h0M82.7 192.4h0M74.0 206.3h0M63.9 218.9h0M83.0 188.4h0M81.1 194.9h0M99.9 178.9h0M69.7 210.5h0M91.9 184.5h0M66.1 215.1h0M97.0 180.5h0M108.9 175.3h0M63.6 226.9h0M69.6 210.2h0M111.0 173.5h0M99.5 177.6h0M82.6 192.9h0M66.1 220.5h0M62.8 232.0h0M65.8 213.1h0M95.9 178.4h0M86.7 185.4h0M71.7 204.3h0M84.3 187.0h0M93.1 182.5h0M67.4 210.3h0M91.4 184.1h0M68.6 213.0h0M67.8 208.6h0M63.9 227.2h0M66.9 219.0h0M75.7 198.5h0M62.2 229.3h0M76.5 199.3h0M66.3 218.2h0M82.9 186.8h0M63.1 220.2h0M64.1 215.0h0M66.5 212.1h0M76.9 196.7h0M88.0 186.8h0M83.4 186.8h0M84.5 188.9h0M80.1 190.4h0M74.3 198.4h0M72.8 211.4h0M63.8 216.8h0M89.6 182.5h0M74.4 208.0h0M81.0 193.6h0M63.0 224.9h0M69.1 207.3h0M63.8 222.4h0M70.0 208.4h0M82.1 187.4h0M68.8 208.4h0M80.7 190.8h0M65.9 221.2h0M72.9 208.5h0M73.8 207.4h0M74.8 201.0h0M67.0 214.9h0M81.0 189.5h0M90.5 181.3h0M87.3 185.4h0M62.4 228.5h0M76.0 203.2h0M70.0 209.1h0M78.8 198.4h0M63.6 223.7h0M82.4 188.1h0M74.1 207.2h0M96.1 178.9h0M64.2 230.2h0M71.4 204.9h0M76.6 203.6h0M88.0 184.3h0M84.3 187.4h0M66.9 217.8h0M67.5 209.9h0M85.2 190.1h0M74.5 207.3h0M67.6 213.0h0M95.3 180.8h0M89.4 184.8h0M70.9 209.0h0M77.4 199.4h0M95.8 182.0h0M65.0 214.8h0M93.9 182.6h0M91.1 182.0h0M84.4 190.2h0M82.4 191.8h0M81.8 191.4h0M76.6 199.4h0M78.0 197.3h0M67.6 217.1h0M77.1 198.4h0M82.3 192.6h0M75.2 202.9h0M81.8 191.8h0M72.5 202.9h0M87.1 186.1h0M82.7 189.1h0M65.8 223.7h0M85.0 187.0h0M68.7 212.3h0M66.3 224.3h0M62.2 220.5h0M67.9 209.0h0M75.5 200.3h0M68.5 209.0h0M63.4 215.0h0M86.2 188.5h0M70.9 207.7h0M90.2 182.0h0M65.9 213.4h0M81.8 191.0h0M68.7 207.2h0M89.1 183.6h0M79.6 193.0h0M81.7 191.8h0M64.2 223.1h0M85.9 189.4h0M68.9 207.6h0M84.4 189.0h0M89.4 184.6h0M62.2 220.4h0M62.6 230.5h0M85.0 188.0h0M99.3 176.9h0M93.0 182.7h0M72.2 204.3h0M88.2 184.3h0M61.3 229.3h0M62.2 225.7h0M78.4 197.6h0M77.8 201.3h0M87.7 184.6h0M67.0 214.6h0M75.9 205.0h0M106.0 177.7h0M71.0 212.8h0M70.7 205.3h0M79.4 196.1h0M107.8 174.0h0M63.3 216.3h0M81.0 190.3h0M74.5 207.8h0M71.9 206.6h0M65.9 212.6h0M75.5 204.5h0M76.8 197.3h0M69.7 205.4h0M73.1 200.2h0M79.6 193.9h0M89.4 183.8h0M78.9 199.3h0M72.9 208.7h0M99.0 179.7h0M65.0 217.7h0M63.6 227.1h0M93.1 181.5h0M69.3 213.5h0M62.3 218.4h0M69.3 205.5h0M69.4 208.8h0M68.4 207.2h0M89.0 183.3h0M69.7 212.6h0M64.8 220.3h0M64.6 214.7h0M97.7 181.1h0M72.8 205.2h0M69.9 207.9h0M85.6 187.0h0M94.9 179.0h0M77.9 202.8h0M88.5 186.7h0M66.3 212.3h0M71.3 209.6h0M78.6 198.1h0M65.0 213.5h0M66.8 211.8h0M65.7 217.0h0M67.9 213.1h0M88.6 184.2h0M86.0 185.7h0M64.1 221.5h0M70.8 209.4h0M82.8 189.0h0M89.7 183.3h0M75.8 197.9h0M84.2 190.0h0M69.5 215.4h0M86.2 187.2h0M87.2 184.4h0M73.4 207.3h0M67.9 214.8h0M64.4 228.5h0M78.6 193.9h0M80.2 194.6h0M62.7 233.7h0M74.8 200.2h0M97.5 183.2h0M63.7 228.9h0M62.3 219.3h0M62.5 225.8h0M73.3 205.0h0M70.8 206.9h0M90.8 183.6h0M64.6 225.3h0M64.9 215.8h0M95.8 180.0h0M64.3 230.2h0M69.5 214.0h0M73.6 208.5h0M62.5 233.9h0M70.3 213.2h0M79.0 196.2h0M78.6 195.0h0M78.9 195.7h0M80.4 193.2h0M79.4 195.6h0M64.1 228.3h0M81.6 193.6h0M77.3 196.9h0M67.9 215.9h0M72.5 205.7h0M65.6 213.7h0M92.3 186.5h0M67.0 211.7h0M67.4 218.9h0M87.3 187.1h0M85.2 188.0h0M89.6 184.0h0M79.7 190.6h0M72.6 205.9h0M74.6 203.2h0M78.2 199.4h0M78.1 196.3h0M97.1 180.9h0M66.7 212.4h0M84.6 186.6h0M63.1 230.3h0M64.3 216.2h0M95.5 177.3h0M70.2 214.8h0M76.8 202.0h0M94.2 181.8h0M83.2 194.6h0M76.0 203.2h0M82.5 190.5h0M102.1 178.2h0M97.1 181.9h0M65.3 217.2h0M66.5 220.2h0M67.0 210.9h0M62.4 218.9h0M84.8 187.3h0M89.8 186.3h0M66.0 220.0h0M61.2 224.3h0M68.5 209.4h0M82.3 191.7h0M85.2 187.1h0M71.9 202.4h0M84.5 196.7h0M93.2 179.8h0M92.5 185.0h0M67.1 221.9h0M83.7 190.7h0M86.0 187.5h0M92.7 180.9h0M71.8 205.2h0M66.6 219.2h0M75.0 203.6h0M70.8 207.9h0M70.5 205.9h0M87.1 186.3h0M79.6 192.6h0M81.6 191.6h0M79.6 192.6h0M65.8 219.9h0M64.0 225.9h0M70.5 205.8h0M88.8 183.3h0M80.8 193.6h0M86.5 186.6h0M80.1 195.3h0M83.4 183.4h0M108.8 174.5h0M82.2 189.3h0M91.3 185.5h0M101.1 179.4h0M84.0 188.6h0M87.6 185.7h0M65.7 224.4h0M62.9 228.0h0M95.1 182.0h0M66.4 214.0h0M69.5 211.5h0M63.1 219.7h0M80.2 194.4h0M62.4 228.7h0M86.1 185.3h0M67.2 210.3h0M84.4 188.7h0M93.3 181.3h0M80.5 189.8h0M71.2 204.2h0M81.0 195.7h0M89.0 182.8h0M83.5 190.7h0M66.9 213.4h0M63.5 231.9h0M91.5 183.4h0M78.7 194.4h0M61.9 225.2h0M78.9 200.1h0M77.7 196.6h0M69.8 212.6h0M92.7 184.5h0M67.4 214.3h0M66.8 220.0h0M69.5 211.2h0M70.3 209.7h0M92.3 184.2h0M79.1 191.9h0M64.1 220.9h0M70.4 205.8h0M61.8 221.7h0M82.6 190.3h0M90.0 184.4h0M62.9 222.7h0M73.6 200.9h0M66.8 213.8h0M69.9 213.0h0M83.0 187.1h0M101.5 177.6h0M70.0 213.3h0M76.4 199.5h0M69.4 211.1h0M62.3 225.4h0M78.1 195.8h0M66.2 219.1h0M83.0 192.2h0M84.3 188.3h0M65.1 219.7h0M76.5 195.5h0M67.8 216.5h0M82.9 185.2h0M68.2 211.9h0M82.6 191.7h0M79.0 192.6h0M77.4 197.6h0M66.2 215.2h0M88.6 184.7h0M72.6 210.3h0M86.8 189.1h0M74.1 203.0h0M75.1 205.7h0M83.1 190.2h0M68.9 208.6h0M87.0 189.9h0M78.8 209.0h0M84.2 188.8h0M81.5 190.0h0M96.4 179.3h0M72.8 206.7h0M69.5 208.5h0M107.2 173.2h0M76.7 201.6h0M74.8 207.7h0M81.3 189.6h0M66.3 213.2h0M97.9 178.3h0M82.9 186.3h0M79.8 192.9h0M66.8 210.4h0M88.5 187.3h0M93.8 180.6h0M87.0 187.2h0M93.8 181.8h0M66.2 223.5h0M86.2 190.6h0M91.1 184.8h0M74.9 203.3h0M62.4 223.8h0M76.7 199.6h0M68.6 214.7h0M64.2 228.6h0M95.4 179.8h0M86.8 182.7h0M78.5 193.4h0M84.7 188.5h0M80.4 191.6h0M73.5 203.3h0M62.5 220.5h0M66.7 210.7h0M77.4 202.7h0M79.3 198.0h0M69.0 211.4h0M62.8 220.2h0M70.2 209.4h0M65.1 216.8h0M97.1 184.0h0M67.7 215.7h0M71.0 206.3h0M76.6 199.6h0M64.6 212.4h0M74.4 201.7h0M77.2 199.1h0M64.0 226.8h0M97.4 181.1h0M76.8 200.0h0M64.8 219.4h0M102.8 176.8h0M66.4 218.4h0M84.2 189.9h0M74.7 202.8h0M66.8 213.0h0M70.3 206.8h0M75.7 203.5h0M69.4 206.8h0M66.0 213.3h0M71.2 204.8h0M72.6 204.5h0M79.9 189.6h0M64.8 215.9h0M64.4 227.2h0M88.8 185.1h0M64.7 225.0h0M81.2 195.3h0M77.6 199.6h0M101.7 179.7h0M63.9 216.1h0M91.2 181.6h0M62.1 219.8h0M65.3 217.9h0M80.3 192.9h0M65.4 218.3h0M76.6 196.3h0M81.5 191.9h0M66.2 221.1h0M86.1 186.2h0M70.8 203.9h0M98.7 176.3h0M63.1 231.1h0M65.1 224.3h0M78.5 194.6h0M68.3 213.6h0M74.4 208.5h0M92.7 180.7h0M71.7 210.4h0M62.4 226.4h0M66.6 220.0h0M76.7 198.7h0M84.8 186.2h0M85.7 188.8h0M73.5 202.8h0M68.1 214.6h0M61.9 219.9h0M65.9 214.8h0M66.6 216.5h0M93.9 182.9h0M73.8 207.7h0M64.2 221.3h0M80.3 194.2h0M72.6 203.1h0M62.6 228.8h0M102.4 178.1h0M96.1 178.0h0M69.5 213.8h0M89.7 186.3h0M75.4 205.2h0M79.6 190.9h0M81.7 193.8h0M82.6 188.0h0M71.9 203.6h0M64.7 219.3h0M86.6 185.3h0M71.7 203.4h0M74.9 206.0h0M86.1 189.2h0M83.1 192.4h0M105.3 176.6h0M73.2 208.6h0M79.6 194.0h0M61.9 223.4h0M63.9 221.5h0M66.8 213.2h0M67.6 211.9h0M72.9 204.1h0M66.0 214.4h0M96.4 181.6h0M74.0 206.3h0M68.8 205.4h0M93.5 183.2h0M86.8 186.6h0M85.1 187.0h0M94.5 182.8h0M83.6 188.6h0M69.0 211.1h0M97.6 176.1h0M62.5 229.0h0M93.4 183.9h0M74.1 207.0h0M70.5 210.0h0M75.4 203.8h0M72.7 207.3h0M89.9 183.4h0M86.6 185.2h0M84.1 188.1h0M66.5 214.4h0M72.4 204.0h0M62.7 224.3h0M82.7 187.2h0M63.9 227.5h0M71.2 206.3h0M65.8 219.3h0M89.0 183.3h0M94.3 181.5h0M70.5 213.3h0M91.6 184.6h0M64.2 217.0h0M83.0 190.2h0M64.9 212.6h0M72.2 203.5h0M79.6 195.9h0M68.5 207.5h0M68.0 217.2h0M76.6 196.2h0M87.0 187.0h0M108.1 173.5h0M68.1 209.3h0M68.1 213.5h0M61.9 224.1h0M66.4 216.1h0M63.4 229.2h0M67.9 213.9h0M84.1 189.9h0M64.7 221.5h0M85.3 196.5h0M66.8 210.2h0M68.0 215.3h0M73.7 202.1h0M74.7 206.2h0M75.5 206.1h0M65.5 221.5h0M77.9 198.6h0M92.4 181.3h0M63.0 231.5h0M65.1 224.1h0M78.7 197.4h0M69.0 210.2h0M65.3 212.7h0M105.4 177.9h0M70.6 212.1h0M93.9 180.4h0M78.4 194.8h0M62.2 228.6h0M68.4 213.1h0M63.5 224.3h0M78.6 200.9h0M93.7 182.5h0M63.7 226.4h0M63.7 229.0h0M63.4 228.8h0M66.7 211.9h0M63.2 217.6h0M99.4 177.4h0M83.7 184.7h0M95.4 179.0h0M77.2 197.1h0M88.2 185.6h0M81.7 189.2h0M66.6 210.3h0M79.9 192.7h0M66.7 210.6h0M73.7 203.4h0M85.8 182.4h0M64.0 214.1h0M66.8 218.1h0M89.6 184.1h0M75.0 204.3h0M67.7 218.5h0M71.1 211.8h0M67.3 211.7h0M92.4 182.3h0M74.2 203.2h0M94.7 182.0h0M74.6 203.5h0M95.9 180.0h0M92.8 179.4h0M76.8 197.8h0M86.7 187.3h0M66.8 210.8h0M64.6 221.5h0M77.7 195.4h0M62.2 226.0h0M73.7 203.2h0M78.6 194.6h0M86.1 188.5h0M92.5 182.4h0M66.0 216.0h0M90.1 183.0h0M76.6 203.0h0M78.5 194.3h0M72.1 202.5h0M89.7 184.7h0M68.1 210.8h0M63.5 231.8h0M90.2 187.4h0M81.5 193.0h0M82.5 189.2h0M65.5 221.1h0M64.7 215.3h0M79.0 194.4h0M86.1 189.9h0M81.5 193.1h0M77.8 196.2h0M81.6 193.6h0M63.3 218.9h0M73.6 204.3h0M67.7 208.5h0M83.8 188.7h0M74.6 200.2h0M84.9 191.2h0M82.4 191.2h0M93.0 181.8h0M89.3 183.1h0M63.6 226.5h0M79.5 191.3h0M70.7 207.6h0M64.7 222.6h0M73.4 202.3h0M88.7 183.8h0M87.3 187.1h0M62.7 221.7h0M68.3 217.1h0M82.3 191.0h0M99.7 178.2h0M65.6 224.5h0M64.5 223.4h0M82.4 191.0h0M78.2 194.7h0M86.9 185.0h0M64.1 215.6h0M75.9 202.7h0M87.0 186.2h0M73.7 209.4h0M71.7 206.5h0M64.9 228.6h0M87.0 186.5h0M73.2 204.3h0M73.2 209.2h0M81.2 193.3h0M88.1 181.8h0M90.6 183.9h0M69.5 208.9h0M77.4 194.9h0M69.8 205.8h0M88.5 184.2h0M86.4 186.3h0M79.6 191.9h0M87.7 184.7h0M76.6 202.0h0M78.3 198.3h0M62.9 217.8h0M83.0 190.5h0M69.1 212.3h0M78.3 199.0h0M62.1 233.2h0M71.0 206.1h0M78.8 195.1h0M79.7 194.4h0M78.5 198.9h0M68.3 214.0h0M82.6 194.3h0M80.7 192.5h0M76.7 196.1h0M70.8 207.4h0M62.1 218.3h0M76.6 198.6h0M62.8 226.4h0M93.4 180.4h0M68.6 207.5h0M67.0 211.3h0M74.7 205.1h0M61.7 221.6h0M91.4 182.6h0M102.2 177.6h0M85.9 182.5h0M75.5 196.7h0M96.3 180.5h0M68.7 209.1h0M74.2 203.7h0M67.8 218.6h0M71.3 204.3h0M95.7 182.1h0M79.1 191.4h0M76.4 199.2h0M76.9 200.2h0M79.1 193.7h0M77.4 194.8h0M78.6 207.9h0M76.4 201.8h0M61.9 221.9h0M73.0 204.3h0M81.1 191.7h0M68.4 215.8h0M66.3 211.4h0M88.1 187.2h0M64.9 220.1h0M64.6 216.0h0M89.9 188.1h0M62.9 220.7h0M67.8 210.6h0M94.3 183.1h0M72.2 205.9h0M86.4 183.7h0M86.3 189.0h0M64.2 230.1h0M66.5 215.2h0M92.6 179.8h0M71.6 211.9h0M70.3 205.0h0M96.5 182.0h0M66.4 222.3h0M101.1 180.1h0M80.4 193.5h0M79.5 194.5h0M62.4 233.8h0M78.4 193.6h0M88.0 185.2h0M69.5 205.1h0M63.4 224.5h0M61.6 219.6h0M63.2 224.1h0M72.2 205.7h0M86.4 183.7h0M65.4 226.1h0M70.8 205.3h0M72.0 206.6h0M71.2 206.1h0M74.0 199.3h0M78.0 200.8h0M67.6 216.7h0M85.9 185.6h0M75.7 200.9h0M70.1 208.7h0M98.7 177.5h0M81.5 189.3h0M67.5 218.9h0M100.2 178.9h0M77.5 197.4h0M71.5 210.5h0M65.7 213.8h0M64.5 225.1h0M69.0 214.7h0M67.5 211.2h0M70.8 209.7h0M104.8 176.4h0M77.9 196.5h0M62.8 215.5h0M69.5 206.9h0M71.4 203.8h0M65.2 224.0h0M73.9 203.3h0M74.7 201.0h0M93.4 181.7h0M75.3 206.9h0M81.2 190.6h0M83.7 193.1h0M63.2 216.9h0M76.7 197.8h0M71.6 202.8h0M66.1 218.6h0M62.9 229.4h0M109.8 177.5h0M61.9 222.8h0M91.2 181.9h0M69.2 206.9h0M65.8 224.2h0M99.2 178.6h0M81.4 193.1h0M73.0 207.2h0M87.9 183.4h0M81.6 189.2h0M74.9 207.9h0M83.0 189.7h0M85.2 189.9h0M65.5 217.9h0M81.5 188.4h0M92.4 178.7h0M81.3 190.7h0M86.4 185.6h0M105.2 175.2h0M86.2 185.7h0M74.9 203.8h0M76.6 198.1h0M86.7 189.3h0M81.0 195.1h0M61.9 224.5h0M63.2 225.7h0M68.8 212.9h0M86.4 183.6h0M64.4 214.2h0M70.9 211.5h0M88.0 185.2h0M63.0 220.1h0M68.9 212.7h0M68.0 213.5h0M62.9 226.8h0M82.1 186.6h0M69.0 210.0h0M72.7 206.7h0M68.0 208.4h0M64.9 225.4h0M90.6 186.1h0M64.3 220.0h0M69.8 212.9h0M83.9 190.2h0M69.3 208.4h0M78.3 203.3h0M68.9 209.3h0M75.8 197.9h0M67.8 209.4h0M74.8 204.8h0M63.9 231.6h0M62.8 230.5h0M74.4 200.9h0M90.5 189.0h0M111.7 174.1h0M86.7 185.7h0M77.6 201.5h0M80.6 193.9h0M80.2 191.4h0M81.0 186.7h0M106.9 177.0h0M70.3 209.4h0M72.7 203.9h0M86.0 187.3h0M64.0 214.4h0M62.2 222.4h0M91.6 180.5h0M62.7 230.4h0M92.4 182.7h0M94.1 182.0h0M64.9 218.1h0M84.7 188.0h0M66.3 210.4h0M66.0 211.7h0M103.1 176.6h0M92.8 184.6h0M86.8 189.5h0M74.6 206.2h0M105.3 179.7h0M79.1 198.8h0M103.0 179.3h0M83.7 190.0h0M62.9 226.9h0M87.2 186.8h0M88.8 184.6h0M92.9 185.6h0M78.1 194.1h0M64.7 228.1h0M89.9 182.5h0M71.3 204.5h0M64.4 215.8h0M65.6 215.6h0M64.4 215.5h0M88.1 186.1h0M62.1 224.4h0M95.0 182.8h0M61.5 230.2h0M83.2 189.4h0M67.3 214.9h0M76.3 201.5h0M68.9 218.8h0M92.5 181.9h0M63.8 218.5h0M73.6 203.2h0M78.0 195.2h0M72.6 203.3h0M66.1 215.3h0M66.8 210.6h0M94.5 178.6h0M64.3 220.7h0M62.7 230.2h0M93.5 182.0h0M91.8 182.8h0M81.4 191.1h0M73.0 202.5h0M98.1 181.1h0M73.8 207.2h0M63.4 230.9h0M73.7 205.5h0M75.2 199.8h0M76.8 199.2h0M92.7 184.2h0M65.4 225.2h0M89.3 183.4h0M77.3 201.5h0M81.6 187.0h0M70.8 204.7h0M68.5 211.4h0M67.7 208.0h0M67.9 212.4h0M73.0 203.6h0M77.6 195.9h0M88.3 184.7h0M65.6 217.8h0M72.5 203.4h0M75.7 199.8h0M88.7 186.5h0M83.6 190.9h0M81.1 195.9h0M81.4 191.9h0M74.9 205.5h0M86.7 185.3h0M88.1 183.7h0M76.9 198.0h0M65.6 221.6h0M71.0 204.0h0M69.9 213.9h0M64.4 216.1h0M70.3 212.7h0M87.8 185.4h0M69.8 208.8h0M70.8 203.5h0M70.4 206.7h0M64.9 216.8h0M78.5 198.4h0M72.6 205.9h0M96.7 182.0h0M79.3 195.2h0M101.0 175.8h0M89.4 182.9h0M75.5 202.7h0M61.9 230.3h0M63.9 214.6h0M64.4 221.1h0M83.0 187.8h0M63.5 219.6h0M79.6 193.2h0M68.9 209.8h0M75.2 203.2h0M85.1 188.3h0M68.3 211.1h0M63.9 217.4h0M69.5 212.6h0M97.1 181.3h0M75.5 198.3h0M69.4 212.6h0M66.1 219.7h0M62.3 224.8h0M68.7 208.9h0M78.0 194.8h0M74.6 204.6h0M87.2 185.3h0M108.5 176.6h0M78.7 198.6h0M71.2 210.0h0M85.3 184.7h0M64.5 223.4h0M86.2 189.2h0M90.8 182.0h0M84.8 186.0h0M66.4 223.2h0M77.6 197.2h0M88.1 187.5h0M71.0 205.0h0M90.9 186.6h0M66.2 218.4h0M74.3 199.3h0M78.2 199.2h0M86.3 186.7h0M74.5 207.9h0M69.2 214.0h0M82.6 189.7h0M63.4 221.3h0M70.1 207.5h0M74.8 203.8h0M85.8 186.1h0M72.6 205.3h0M76.3 198.0h0M80.7 191.2h0M79.3 190.5h0M99.3 179.5h0M74.1 203.8h0M77.7 198.0h0M62.4 229.9h0M64.2 216.1h0M68.0 214.0h0M64.8 215.1h0M77.0 201.6h0M64.3 215.6h0M81.8 200.1h0M87.5 184.3h0M61.9 224.4h0M69.0 214.8h0M77.1 203.2h0M62.1 226.9h0M65.7 219.8h0M77.5 197.6h0M71.7 206.5h0M93.4 182.7h0M76.7 197.5h0M85.0 188.1h0M68.9 208.2h0M72.3 208.6h0M89.1 183.2h0M79.8 195.7h0M94.7 183.1h0M66.7 213.2h0M63.9 221.4h0M81.5 191.8h0M65.1 220.9h0M64.8 224.5h0M71.8 207.2h0M81.6 191.1h0M71.4 209.1h0M82.7 186.1h0M73.9 204.1h0M67.6 211.6h0M75.9 199.8h0M77.6 195.3h0M66.4 219.5h0M77.8 196.5h0M67.5 218.7h0M100.2 179.5h0M74.4 199.2h0M64.9 215.5h0M63.6 227.4h0M68.3 216.3h0M67.9 209.4h0M76.7 197.3h0M81.1 192.6h0M82.8 190.0h0M72.1 203.7h0M79.2 194.1h0M76.5 198.7h0M69.5 212.1h0M67.1 215.5h0M72.3 207.0h0M81.6 190.9h0M65.7 220.4h0M80.8 194.7h0M63.0 229.8h0M66.8 217.7h0M80.9 192.0h0M87.8 186.5h0M84.8 186.9h0M82.5 192.0h0M67.2 213.4h0M105.0 177.0h0M77.9 195.8h0M93.1 181.2h0M96.5 181.7h0M66.0 213.8h0M101.6 182.4h0M65.2 224.1h0M79.1 193.5h0M66.3 212.8h0M62.4 222.6h0M76.8 197.7h0M67.2 216.0h0M85.6 186.0h0M75.2 204.6h0M67.7 212.6h0M63.1 231.1h0M82.4 191.4h0M78.5 193.2h0M86.4 185.0h0M69.5 205.9h0M94.5 182.7h0M63.4 229.5h0M94.8 182.5h0M85.5 188.1h0M62.6 221.9h0M104.1 175.7h0M61.7 222.8h0M85.8 189.4h0M69.8 215.1h0M81.5 190.6h0M89.0 185.0h0M65.5 221.5h0M69.0 209.8h0M90.2 178.6h0M75.1 203.3h0M66.7 219.4h0M64.1 223.5h0M64.3 220.8h0M66.1 222.5h0M68.8 207.4h0M84.9 186.1h0M75.4 205.5h0M66.0 223.1h0M70.6 209.0h0M76.4 203.7h0M74.1 204.8h0M79.7 193.5h0M81.1 191.3h0M82.3 186.3h0M74.6 199.0h0M64.0 228.8h0M85.9 188.0h0M86.6 187.6h0M84.2 189.7h0M72.8 204.6h0M89.5 178.8h0M64.0 222.8h0M83.0 187.6h0M78.6 196.5h0M83.9 192.0h0M65.4 225.3h0M100.3 179.7h0M63.2 228.7h0M64.6 217.3h0M75.7 200.9h0M78.8 198.4h0M63.8 216.9h0M66.7 210.8h0M94.5 182.5h0M68.6 209.7h0M75.4 206.1h0M62.2 221.2h0M76.8 197.7h0M81.6 189.9h0M85.1 189.6h0M67.4 214.8h0M69.3 206.8h0M79.9 192.6h0M101.0 178.9h0M87.1 189.5h0M66.1 215.1h0M63.4 225.2h0M70.0 210.3h0M76.1 200.3h0M68.7 212.9h0M85.6 185.6h0M66.3 212.8h0M64.2 220.8h0M78.3 195.9h0M83.3 186.0h0M63.4 214.9h0M69.6 209.6h0M68.9 213.7h0M62.8 228.8h0M82.1 191.7h0M63.2 226.5h0M79.8 196.0h0M80.4 195.1h0M79.8 202.2h0M62.6 227.3h0M63.1 227.9h0M77.2 202.0h0M77.7 204.1h0M62.5 230.5h0M62.7 231.2h0M85.6 187.3h0M67.7 208.8h0M82.9 189.6h0M65.1 216.0h0M69.4 213.6h0M91.3 180.0h0M68.8 217.6h0M72.3 206.4h0M74.0 201.2h0M81.5 188.8h0M66.5 208.1h0M80.9 193.6h0M67.5 215.5h0M82.2 192.0h0M64.4 229.9h0M64.8 216.7h0M61.9 225.4h0M65.8 222.8h0M85.1 188.9h0M73.6 203.3h0M85.1 185.6h0M101.9 180.1h0M67.9 218.0h0M85.3 187.4h0M100.5 178.2h0M66.6 209.1h0M64.8 224.4h0M73.3 203.3h0M75.8 199.2h0M80.7 190.2h0M77.6 198.0h0M70.3 212.4h0M62.4 217.7h0M68.6 208.3h0M73.4 202.9h0M64.8 216.7h0M70.1 212.4h0M91.6 182.9h0M74.8 207.3h0M62.6 220.3h0M86.0 195.5h0M70.1 208.5h0M76.0 201.2h0M73.0 208.1h0M64.5 221.5h0M81.5 186.5h0M78.2 198.4h0M104.8 175.3h0M63.3 232.5h0M78.3 197.9h0M72.1 204.9h0M72.5 204.5h0M83.3 189.4h0M66.8 213.9h0M70.9 205.7h0M63.3 219.9h0M83.5 201.2h0M73.0 204.8h0M65.5 227.6h0M67.8 215.1h0M70.0 205.4h0M75.6 199.8h0M62.8 222.8h0M78.8 194.8h0M86.8 184.2h0M68.6 208.9h0M65.4 225.3h0M62.8 218.8h0M84.2 186.7h0M76.6 200.3h0M66.2 220.4h0M64.1 217.7h0M87.0 182.8h0M80.9 191.2h0M82.6 191.2h0M64.0 219.6h0M105.3 174.8h0M67.0 213.3h0M72.1 210.0h0M67.4 214.7h0M95.4 177.9h0M77.8 193.2h0M75.1 198.0h0M73.8 207.2h0M83.9 190.6h0M73.2 202.8h0M73.7 203.6h0M65.7 219.2h0M88.8 186.1h0M61.9 225.0h0M93.9 182.9h0M93.6 180.8h0M77.2 201.3h0M63.3 217.9h0M63.5 214.1h0M64.8 219.8h0M82.2 190.4h0M72.6 209.7h0M103.3 178.3h0M68.9 208.6h0M71.2 211.0h0M81.1 191.6h0M90.8 182.4h0M76.2 200.5h0M63.0 220.6h0M68.7 218.9h0M83.2 190.0h0M85.0 187.3h0M105.9 177.0h0M76.7 197.3h0M86.2 187.2h0M81.1 191.7h0M76.2 198.8h0M87.7 186.4h0M66.5 216.3h0M64.8 218.9h0M68.7 210.6h0M69.4 205.6h0M97.1 179.5h0M87.8 184.7h0M84.1 188.3h0M93.1 184.3h0M73.1 208.8h0M104.6 179.1h0M92.8 181.0h0M63.4 216.2h0M71.9 208.2h0M69.7 211.4h0M67.6 217.4h0M95.2 179.2h0M69.9 205.7h0M91.5 185.0h0M78.5 196.5h0M65.2 225.9h0M72.2 204.4h0M84.1 184.7h0M66.9 208.6h0M69.5 212.4h0M63.4 222.8h0M71.9 201.7h0M95.4 177.9h0M64.1 230.2h0M91.9 183.0h0M79.4 196.6h0M68.6 212.5h0M92.2 181.6h0M94.4 179.9h0M102.0 181.6h0M74.7 204.2h0M71.0 204.8h0M78.8 191.1h0M90.6 180.4h0M68.3 207.5h0M69.0 209.3h0M72.3 206.3h0M63.7 229.9h0M88.4 183.9h0M73.8 204.0h0M73.8 203.3h0M79.2 193.9h0M87.1 185.6h0M82.3 190.1h0M67.8 208.3h0M69.3 212.1h0M68.7 208.9h0M75.4 199.7h0M87.4 185.8h0M62.8 231.7h0M77.2 195.1h0M88.7 183.9h0M76.4 198.1h0M69.9 206.4h0M74.3 203.1h0M75.3 200.8h0M77.6 193.4h0M62.4 224.2h0M85.6 185.3h0M77.6 199.4h0M65.2 210.8h0M94.4 182.3h0M71.1 206.0h0M85.7 187.3h0M70.3 212.6h0M76.8 199.3h0M64.3 216.2h0M70.6 213.8h0M71.2 211.1h0M67.1 220.1h0M83.5 186.1h0M74.0 204.5h0M70.1 209.0h0M77.7 197.0h0M65.0 213.9h0M73.1 204.8h0M75.4 197.1h0M78.7 195.0h0M75.0 207.5h0M83.1 187.5h0M90.4 183.3h0M99.3 179.6h0M77.9 198.9h0M99.0 177.8h0M95.5 179.5h0M80.8 193.1h0M63.6 219.9h0M80.2 193.9h0M77.4 200.8h0M83.7 191.7h0M67.4 212.4h0M107.5 176.9h0M70.4 209.2h0M113.7 173.7h0M68.6 212.7h0M75.2 203.4h0M81.9 191.7h0M66.9 212.9h0M73.0 207.0h0M79.3 191.7h0M83.7 187.1h0M94.0 181.3h0M78.2 199.7h0M98.7 178.3h0M65.6 210.6h0M76.9 194.6h0M83.9 186.9h0M65.5 224.0h0M85.8 186.2h0M87.3 184.6h0M78.4 199.0h0M95.9 183.3h0M83.3 191.5h0M70.2 207.7h0M87.5 186.3h0M76.6 201.3h0M80.8 190.8h0M104.3 175.0h0M80.9 189.6h0M84.7 185.8h0M87.9 185.7h0M67.9 217.1h0M63.4 227.9h0M65.5 224.6h0M75.2 204.4h0M99.6 179.2h0M74.6 205.4h0M94.1 180.2h0M69.0 212.0h0M62.3 219.0h0M71.2 205.6h0M89.2 184.4h0M99.4 177.9h0M78.0 200.6h0M72.7 208.7h0M85.9 186.3h0M73.0 205.6h0M69.4 211.7h0M84.4 187.6h0M65.9 224.1h0M85.3 186.6h0M98.8 182.2h0M61.7 221.7h0M86.1 187.0h0M63.8 229.6h0M68.1 221.6h0M68.2 211.4h0M113.6 175.2h0M62.7 226.3h0M75.1 204.9h0M71.9 203.4h0M66.0 217.8h0M101.6 177.2h0M65.6 213.8h0M93.1 182.7h0M75.8 199.2h0M84.4 191.4h0M83.3 187.6h0M81.8 192.2h0M87.8 186.4h0M91.8 183.6h0M64.8 219.7h0M66.0 223.7h0M74.8 205.0h0M64.2 222.0h0M77.3 196.3h0M96.2 179.9h0M77.4 202.1h0M68.2 218.9h0M62.4 220.8h0M75.7 199.9h0M84.5 188.8h0M87.0 185.7h0M84.6 187.9h0M78.2 206.3h0M90.9 183.1h0M77.7 200.2h0M81.9 191.6h0M62.4 233.1h0M76.1 203.1h0M65.4 223.8h0M65.3 215.2h0M68.4 211.0h0M77.0 197.5h0M65.7 224.5h0M82.8 190.0h0M73.1 208.0h0M64.1 214.3h0M97.3 177.5h0M80.7 192.6h0M68.9 208.9h0M64.1 220.8h0M74.9 202.4h0M85.4 187.2h0M75.6 201.2h0M67.0 209.3h0M64.7 221.7h0M67.1 215.2h0M86.0 186.1h0M64.2 218.4h0M104.3 182.1h0M84.2 189.7h0M72.6 207.0h0M64.8 216.5h0M72.5 202.6h0M97.6 179.6h0M62.9 220.8h0M66.1 213.6h0M62.5 224.1h0M82.8 188.9h0M97.9 181.1h0M77.6 199.0h0M69.2 211.8h0M99.4 179.6h0M77.6 196.7h0M98.7 179.4h0M70.7 207.6h0M64.5 219.3h0M64.1 224.9h0M66.7 212.3h0M72.9 205.0h0M85.9 188.6h0M76.6 204.9h0M68.7 213.1h0M93.0 182.6h0M75.9 196.7h0M77.6 195.5h0M88.9 186.6h0M81.7 192.4h0M64.7 213.1h0M97.0 177.9h0M63.6 218.1h0M67.3 219.1h0M79.8 193.0h0M79.7 198.1h0M68.7 215.5h0M82.1 190.2h0M62.6 222.2h0M72.7 202.1h0M96.8 179.7h0M92.6 182.7h0M78.1 195.7h0M87.1 187.1h0M81.6 192.9h0M67.2 214.7h0M89.4 183.0h0M81.0 196.7h0M78.2 196.4h0M97.3 178.6h0M76.4 198.2h0M71.9 211.9h0M72.7 205.6h0M76.3 198.4h0M89.4 180.9h0M88.4 183.6h0M70.6 205.7h0M74.2 202.0h0M64.3 226.7h0M80.5 194.2h0M86.6 185.6h0M67.1 216.9h0M79.8 194.1h0M64.7 219.7h0M89.2 185.0h0M84.7 190.1h0M95.5 180.4h0M68.6 212.2h0M67.1 218.5h0M78.3 198.3h0M64.1 226.0h0M91.9 190.4h0M66.7 216.3h0M62.1 219.6h0M65.7 219.5h0M82.9 190.8h0M63.6 226.7h0M71.9 205.0h0M66.2 217.6h0M85.5 186.5h0M62.3 226.1h0M67.9 217.3h0M85.9 187.8h0M76.4 201.4h0M63.4 221.2h0M106.4 178.1h0M70.6 207.7h0M71.8 205.1h0M84.1 188.6h0M75.6 202.6h0M87.7 184.1h0M75.2 199.4h0M64.6 212.8h0M74.7 199.1h0M88.2 183.8h0M69.1 212.7h0M79.2 193.7h0M76.7 196.9h0M82.2 191.1h0M70.1 208.1h0M67.1 215.0h0M80.2 192.0h0M87.1 181.2h0M76.0 204.3h0M67.3 220.6h0M89.0 188.5h0M75.7 200.1h0M80.3 190.5h0M63.8 222.3h0M85.5 186.1h0M69.7 206.9h0M92.7 183.9h0M67.6 213.9h0M62.4 232.1h0M67.6 209.1h0M82.1 188.2h0M83.3 189.7h0M90.5 185.8h0M64.3 214.9h0M79.1 196.9h0M61.7 224.3h0M65.1 214.3h0M61.7 226.8h0M78.1 193.6h0M92.8 183.1h0M77.9 195.8h0M79.1 196.3h0M91.9 180.1h0M68.9 209.4h0M76.9 198.7h0M86.4 184.6h0M66.4 216.8h0M84.5 192.4h0M63.5 224.2h0M70.4 207.6h0M67.3 217.8h0M73.0 205.1h0M67.0 216.4h0M63.1 225.5h0M72.0 203.4h0M72.0 207.4h0M83.9 189.0h0M62.7 230.7h0M79.7 194.0h0M64.4 227.3h0M74.2 202.2h0M63.1 229.9h0M93.4 181.4h0M75.4 202.9h0M80.7 206.8h0M65.1 224.9h0M85.5 185.8h0M66.8 212.4h0M73.5 202.9h0M82.6 188.8h0M85.5 185.3h0M70.0 206.1h0M63.8 225.7h0M104.3 177.3h0M66.9 213.2h0M63.6 227.5h0M80.7 195.9h0M91.0 183.5h0M63.3 223.3h0M62.5 226.9h0M82.6 192.5h0M78.8 198.4h0M68.3 213.5h0M69.4 213.6h0M85.8 188.2h0M64.4 230.0h0M68.3 214.7h0M71.9 209.3h0M85.8 187.5h0M68.8 210.3h0M62.6 226.1h0M85.4 189.6h0M81.5 190.9h0M63.8 220.4h0M83.3 189.0h0M78.2 194.1h0M68.2 206.1h0M77.6 197.4h0M75.8 202.0h0M86.7 186.7h0M98.0 181.1h0M70.8 210.0h0M65.8 223.6h0M70.9 208.4h0M78.6 196.3h0M67.8 213.5h0M63.9 218.6h0M66.4 215.7h0M88.2 182.6h0M82.8 189.8h0M64.9 220.8h0M67.3 210.3h0M65.1 211.3h0M66.3 222.1h0M88.9 184.6h0M68.4 211.8h0M76.6 197.9h0M70.4 206.7h0M63.6 224.8h0M63.0 228.0h0M83.0 191.7h0M79.6 194.5h0M75.0 202.3h0M64.9 217.3h0M68.6 208.3h0M77.3 202.6h0M69.2 216.6h0M80.8 199.2h0M88.3 183.7h0M68.1 218.4h0M93.8 178.0h0M76.4 202.0h0M101.0 176.0h0M99.9 178.8h0M63.3 225.3h0M80.1 190.4h0M67.6 214.2h0M79.8 195.2h0M92.2 183.0h0M73.8 203.9h0M81.5 193.7h0M81.0 192.2h0M65.2 216.7h0M72.9 205.5h0M69.9 212.7h0M74.1 202.4h0M89.6 192.9h0M66.7 219.9h0M77.8 199.4h0M74.6 201.2h0M71.9 207.7h0M90.4 186.2h0M72.2 210.3h0M87.5 187.0h0M62.6 224.6h0M75.0 206.3h0M63.5 221.7h0M88.5 183.2h0M80.7 192.3h0M66.8 215.8h0M72.6 209.1h0M65.0 220.7h0M90.9 181.5h0M91.6 181.5h0M92.3 182.8h0M76.3 194.6h0M68.3 213.2h0M72.2 202.9h0M80.8 192.3h0M71.8 204.6h0M62.4 225.8h0M75.8 200.4h0M63.5 223.4h0M66.9 214.4h0M87.7 185.4h0M78.5 195.0h0M87.0 186.7h0M81.1 191.4h0M83.8 194.7h0M70.3 215.1h0M83.1 190.6h0M65.6 220.9h0M62.0 230.0h0M70.1 209.6h0M63.0 218.2h0M80.2 189.0h0M69.1 212.5h0M63.0 228.2h0M84.3 185.5h0M96.4 181.9h0M81.8 189.1h0M97.2 177.4h0M85.7 186.5h0M95.5 181.5h0M82.6 192.8h0M85.7 186.3h0M86.2 185.9h0M65.7 221.6h0M70.7 211.4h0M78.9 195.1h0M67.6 208.9h0M90.8 183.3h0M63.6 226.2h0M64.4 220.5h0M70.0 210.3h0M71.1 210.0h0M87.1 183.0h0M63.6 230.7h0M88.5 185.4h0M101.1 179.5h0M64.6 226.8h0M97.2 178.7h0M80.5 192.5h0M64.3 220.2h0M92.2 189.7h0M65.4 221.4h0M72.4 208.2h0M65.2 213.5h0M70.0 206.2h0M67.1 220.0h0M71.5 207.9h0M77.0 197.8h0M74.8 204.1h0M80.3 203.3h0M93.0 183.8h0M89.8 184.3h0M66.8 222.2h0M83.3 188.4h0M87.0 186.7h0M94.2 183.2h0M71.2 206.6h0M94.5 181.1h0M78.3 199.4h0M72.5 202.4h0M75.6 201.5h0M71.5 205.4h0M81.6 190.8h0M75.0 199.5h0M90.9 182.6h0M73.3 202.8h0M65.0 226.6h0M65.9 219.0h0M71.2 205.1h0M72.8 202.4h0M90.9 189.9h0M78.3 196.8h0M63.8 217.5h0M69.0 211.4h0M75.9 199.7h0M87.6 187.9h0M85.0 192.3h0M80.2 193.9h0M67.3 213.3h0M77.0 197.7h0M68.9 214.6h0M63.8 225.3h0M85.0 188.0h0M81.0 193.6h0M105.1 176.7h0M84.2 188.2h0M66.3 213.1h0M63.4 229.0h0M71.7 204.2h0M68.7 208.5h0M73.8 199.9h0M68.8 206.1h0M63.2 226.8h0M62.4 224.8h0M71.0 208.9h0M77.1 196.4h0M62.9 216.8h0M65.8 217.5h0M68.8 215.4h0M83.2 187.7h0M85.4 188.0h0M74.6 202.4h0M63.5 226.2h0M96.0 179.8h0M90.8 183.8h0M69.0 211.4h0M63.8 231.7h0M75.3 202.5h0M66.2 218.3h0M72.2 208.3h0M70.9 205.8h0M71.6 212.6h0M93.6 181.4h0M71.4 207.0h0M64.4 221.7h0M78.1 197.9h0M91.8 182.6h0M65.3 214.0h0M77.6 202.8h0M70.9 207.4h0M78.6 190.1h0M69.7 211.1h0M65.5 212.6h0M98.9 179.7h0M88.5 185.8h0M82.4 190.4h0M80.0 192.5h0M96.2 181.7h0M62.2 225.8h0M73.7 205.1h0M79.1 194.7h0M66.4 221.0h0M108.8 175.9h0M81.6 191.1h0M84.8 187.7h0M99.2 178.1h0M79.8 198.5h0M92.8 180.1h0M72.4 208.9h0M95.5 183.1h0M75.3 201.4h0M85.4 186.9h0M65.9 211.7h0M75.2 203.5h0M79.7 200.1h0M76.5 201.5h0M94.2 180.4h0M75.4 205.1h0M92.1 185.0h0M62.8 221.3h0M67.9 216.4h0M66.3 217.9h0M63.1 216.2h0M78.5 197.3h0M65.2 222.6h0M81.1 191.8h0M90.7 183.2h0M95.0 181.9h0M63.8 226.2h0M65.1 213.0h0M72.4 203.9h0M63.3 230.7h0M79.6 190.9h0M74.8 204.9h0M71.9 204.6h0M65.2 218.9h0M63.5 224.9h0M91.1 182.1h0M77.1 195.6h0M67.8 207.3h0M90.9 182.2h0M63.4 221.1h0M71.2 206.2h0M64.3 224.6h0M85.3 184.9h0M92.4 184.6h0M69.5 212.8h0M87.2 184.6h0M97.4 179.5h0M70.3 216.1h0M98.7 176.8h0M70.4 210.0h0M83.4 190.9h0M75.8 199.6h0M71.6 210.0h0M77.9 195.8h0M62.3 234.1h0M75.1 201.6h0M76.2 202.5h0M78.9 193.6h0M85.8 188.4h0M91.6 183.5h0M87.4 186.7h0M91.0 183.8h0M70.6 207.4h0M66.8 222.7h0M78.9 192.3h0M63.8 227.2h0M98.1 180.2h0M76.2 203.7h0M67.6 213.4h0M64.0 228.7h0M89.7 185.2h0M87.8 183.8h0M67.2 220.8h0M84.9 186.6h0M65.9 223.8h0M82.9 191.5h0M77.6 200.8h0M79.1 193.2h0M63.8 219.7h0M86.8 186.8h0M84.7 184.8h0M88.2 183.4h0M73.8 208.0h0M67.8 213.3h0M77.2 199.3h0M81.9 190.3h0M83.8 186.5h0M72.0 203.1h0M80.0 196.3h0M79.6 193.1h0M80.0 197.6h0M82.7 189.3h0M68.8 210.7h0M66.3 214.2h0M68.0 211.5h0M85.5 185.3h0M99.9 178.4h0M71.1 211.8h0M80.7 193.1h0M78.7 197.8h0M90.5 181.6h0M62.7 230.6h0M78.1 194.1h0M90.6 183.3h0M99.7 179.8h0M73.7 206.9h0M74.3 202.6h0M87.7 183.0h0M94.3 178.1h0M65.6 213.8h0M91.8 182.7h0M63.4 220.8h0M64.0 226.6h0M63.0 228.4h0M63.6 224.4h0M64.1 222.8h0M66.3 214.2h0M67.7 211.4h0M99.9 178.2h0M88.7 188.4h0M64.3 222.3h0M64.2 216.0h0M81.5 190.4h0M79.1 196.4h0M72.0 203.3h0M73.2 205.8h0M84.0 188.1h0M76.3 203.2h0M81.6 188.1h0M62.7 231.1h0M66.4 223.0h0M65.1 216.8h0M79.8 197.4h0M77.9 197.3h0M89.9 182.2h0M91.0 181.4h0M87.6 186.3h0M69.9 209.9h0M64.4 225.9h0M91.3 182.2h0M96.1 182.3h0M62.9 229.3h0M63.1 232.7h0M65.0 217.4h0M70.6 208.4h0M81.9 189.6h0M74.7 204.7h0M81.5 193.0h0M88.8 187.2h0M67.4 218.3h0M68.9 210.8h0M100.6 179.2h0M77.6 200.2h0M75.5 202.6h0M77.7 199.5h0M78.1 200.0h0M85.0 190.9h0M91.0 184.0h0M79.5 194.8h0M79.3 194.1h0M77.7 197.5h0M64.5 213.2h0M84.0 186.4h0M67.1 216.9h0M64.8 212.1h0M70.8 210.1h0M76.4 200.7h0M86.8 184.2h0M71.9 209.7h0M77.4 195.4h0M73.9 205.7h0M74.0 204.9h0M99.3 178.1h0M80.4 193.5h0M63.4 230.3h0M90.1 183.3h0M76.4 202.5h0M99.1 178.9h0M63.0 220.4h0M98.4 178.8h0M81.1 193.3h0M79.9 195.3h0M75.9 202.4h0M99.8 179.0h0M87.9 183.6h0M77.0 201.2h0M70.8 207.5h0M73.6 208.9h0M72.6 201.8h0M63.3 216.6h0M66.9 214.5h0M79.6 191.9h0M86.3 188.5h0M93.5 182.4h0M65.6 218.8h0M68.3 210.4h0M64.5 216.6h0M79.6 194.7h0M70.3 212.3h0M68.1 209.4h0M62.8 225.0h0M85.3 187.0h0M96.2 182.1h0M65.6 220.2h0M72.9 201.1h0M87.1 188.0h0M90.7 183.7h0M70.1 208.7h0M63.7 225.7h0M85.1 187.4h0M83.5 190.8h0M70.7 205.9h0M102.6 176.0h0M82.6 189.4h0M81.6 200.0h0M79.3 197.4h0M64.4 224.1h0M98.3 178.7h0M105.0 174.9h0M64.3 218.0h0M86.0 188.2h0M77.7 197.4h0M70.1 205.5h0M76.7 196.0h0M65.6 221.3h0M69.6 208.4h0M69.7 209.7h0M81.6 191.6h0M73.8 199.1h0M62.8 229.1h0M67.6 211.3h0M70.8 206.9h0M71.7 209.1h0M86.5 187.2h0M87.3 183.7h0M96.9 178.2h0M95.7 179.1h0M76.6 203.5h0M78.5 199.3h0M79.2 196.3h0M76.6 202.2h0M64.3 228.0h0M64.5 221.8h0M86.9 186.6h0M84.2 187.6h0M68.8 210.6h0M64.6 215.9h0M78.3 198.5h0M89.2 184.0h0M63.5 226.2h0M80.2 193.0h0M69.0 215.9h0M66.8 213.1h0M74.1 205.4h0M68.4 219.1h0M84.3 188.5h0M64.7 222.9h0M76.9 203.2h0M79.6 191.3h0M87.4 183.6h0M75.8 198.4h0M62.7 220.0h0M86.7 185.1h0M95.8 179.8h0M64.9 228.9h0M94.3 182.3h0M79.3 194.9h0M76.3 195.3h0M71.4 207.1h0M65.2 218.4h0M79.5 196.6h0M91.8 183.2h0M63.3 229.4h0M76.9 198.8h0M79.9 194.0h0M94.7 182.1h0M62.9 230.6h0M69.0 206.6h0M63.8 220.5h0M68.6 210.4h0M94.3 183.7h0M67.1 218.0h0M71.7 209.3h0M88.3 185.7h0M82.2 186.0h0M94.2 181.7h0M63.5 220.6h0M62.3 224.5h0M66.3 215.0h0M75.0 202.1h0M84.1 193.4h0M65.8 221.6h0M79.7 194.7h0M67.8 215.6h0M99.4 180.3h0M75.7 198.1h0M66.8 220.3h0M86.3 182.0h0M73.8 201.4h0M86.3 188.6h0M76.0 199.3h0M90.8 181.3h0M66.4 211.1h0M99.9 178.0h0M63.7 230.3h0M69.9 206.7h0M65.2 218.7h0M105.3 178.2h0M62.4 229.9h0M68.0 211.6h0M72.5 208.0h0M63.0 224.3h0M94.4 181.8h0M84.5 186.1h0M76.8 200.0h0M73.3 207.3h0M65.3 216.4h0M66.8 218.7h0M72.5 206.7h0M78.6 195.2h0M92.1 187.4h0M64.5 212.9h0M91.3 185.5h0M79.0 191.5h0M67.9 219.3h0M62.7 228.5h0M62.4 229.3h0M99.1 178.6h0M66.7 213.7h0M62.9 225.1h0M78.2 191.2h0M69.5 213.2h0M96.6 180.3h0M81.3 192.7h0M91.8 182.8h0M81.2 193.7h0M83.7 189.0h0M75.4 204.8h0M72.4 205.2h0M86.6 187.8h0M64.4 216.8h0M62.3 225.0h0M93.3 181.3h0M72.9 208.7h0M76.1 198.1h0M72.9 207.9h0M84.2 188.4h0M90.2 192.8h0M64.4 216.7h0M86.1 188.1h0M68.5 209.9h0M75.3 196.9h0M73.5 202.0h0M88.7 183.5h0M72.9 206.1h0M87.6 184.4h0M95.3 178.2h0M77.6 197.7h0M85.8 183.2h0M91.5 182.2h0M65.0 214.0h0M73.0 203.7h0M91.5 179.9h0M84.8 187.5h0M89.1 184.0h0M79.3 196.4h0M71.9 208.1h0M85.7 186.1h0M69.2 208.5h0M77.0 196.8h0M68.0 216.5h0M72.5 207.1h0M72.7 203.7h0M64.6 221.6h0M66.1 222.9h0M91.4 182.3h0M104.7 178.4h0M65.1 218.4h0M71.7 208.9h0M79.5 190.8h0M64.2 219.4h0M62.5 225.0h0M94.1 183.5h0M67.1 211.5h0M97.9 179.0h0M78.0 202.0h0M76.5 196.2h0M77.2 200.0h0M77.0 202.4h0M69.8 213.6h0M77.9 193.6h0M73.4 204.9h0M90.1 185.1h0M65.7 209.9h0M64.0 215.9h0M90.2 183.9h0M77.4 200.4h0M68.0 215.3h0M84.2 185.1h0M67.3 211.2h0M83.7 190.2h0M81.0 193.1h0M67.9 211.2h0M78.8 192.9h0M73.1 201.4h0M62.6 228.7h0M101.7 177.5h0M68.0 213.3h0M70.4 206.6h0M91.8 183.9h0M82.3 191.4h0M65.3 217.9h0M80.6 194.1h0M64.2 229.9h0M84.0 187.8h0M81.6 197.4h0M81.4 192.9h0M77.1 197.9h0M69.7 208.2h0M79.8 192.5h0M73.1 203.3h0M84.9 188.7h0M65.2 228.4h0M68.3 213.1h0M66.1 219.0h0M74.6 200.7h0M78.2 194.3h0M66.3 215.1h0M97.9 182.6h0M70.3 207.5h0M62.6 230.7h0M82.4 188.3h0M64.8 221.8h0M61.9 230.5h0M70.1 213.0h0M74.9 203.9h0M67.0 214.1h0M70.7 210.6h0M62.8 219.9h0M71.1 209.0h0M85.8 185.2h0M70.7 212.0h0M76.6 196.6h0M63.7 214.7h0M64.9 220.9h0M70.2 211.1h0M63.0 228.3h0M75.5 203.9h0M83.2 190.9h0M72.7 205.7h0M68.5 215.7h0M71.7 211.8h0M90.2 188.4h0M67.9 214.5h0M68.6 209.0h0M81.0 190.6h0M64.9 212.7h0M96.5 183.2h0M63.5 217.2h0M62.8 229.3h0M71.8 204.5h0M77.7 200.3h0M77.5 198.0h0M69.9 210.5h0M86.0 187.2h0M89.0 184.1h0M71.9 200.7h0M87.5 184.9h0M86.0 184.6h0M63.4 216.7h0M63.7 219.5h0M64.2 220.2h0M62.6 223.3h0M85.2 186.5h0M70.9 207.2h0M66.8 220.2h0M76.4 199.0h0M70.1 212.6h0M64.0 226.9h0M71.4 205.1h0M88.4 185.4h0M81.4 189.2h0M105.0 179.3h0M73.1 202.3h0M99.0 178.9h0M72.0 208.0h0M76.9 203.6h0M83.8 187.9h0M75.9 205.3h0M62.9 217.5h0M83.1 190.3h0M93.7 180.9h0M71.4 209.3h0M72.7 206.1h0M69.7 211.4h0M81.9 191.2h0M75.2 202.4h0M66.5 214.6h0M93.3 183.5h0M62.4 230.6h0M89.2 185.4h0M88.7 181.0h0M63.4 222.8h0M63.2 230.3h0M80.5 193.6h0M77.5 197.0h0M66.9 218.3h0M75.2 206.9h0M65.6 223.1h0M73.4 206.8h0M75.9 200.5h0M91.6 181.1h0M69.9 206.8h0M64.8 218.5h0M97.4 179.6h0M80.1 194.1h0M62.9 219.7h0M64.0 225.8h0M70.8 207.1h0M65.2 213.3h0M68.6 206.4h0M69.4 213.3h0M93.5 181.4h0M86.2 184.1h0M81.0 192.0h0M61.6 222.8h0M85.6 185.4h0M73.6 208.2h0M90.5 183.3h0M63.9 226.6h0M64.9 219.4h0M66.5 220.9h0M87.0 184.7h0M98.2 180.8h0M82.9 187.0h0M69.2 211.0h0M62.4 226.3h0M99.2 179.1h0M65.6 218.0h0M86.7 184.8h0M74.1 203.2h0M66.9 207.2h0M72.7 206.5h0M62.9 224.1h0M63.5 221.1h0M89.4 181.7h0M80.0 209.0h0M81.2 192.0h0M71.8 211.3h0M73.3 201.9h0M87.6 187.6h0M81.4 194.2h0M70.1 205.2h0M75.6 204.9h0M104.2 176.5h0M64.1 228.6h0M70.0 204.9h0M62.4 219.9h0M65.6 222.5h0M64.2 226.4h0M85.3 187.7h0M72.8 203.3h0M77.1 199.3h0M69.1 211.5h0M73.3 208.2h0M72.2 203.1h0M87.6 184.1h0M62.5 222.9h0M63.2 216.6h0M65.5 218.0h0M75.6 204.5h0M75.8 203.8h0M80.7 191.0h0M104.7 175.9h0M94.2 181.8h0M66.1 213.8h0M72.9 206.9h0M74.2 199.1h0M85.8 185.7h0M76.2 201.6h0M65.1 218.6h0M63.2 226.6h0M68.9 208.6h0M79.0 195.9h0M66.1 217.6h0M73.3 203.7h0M70.7 206.8h0M98.7 179.4h0M83.1 191.3h0M100.5 176.0h0M75.3 200.6h0M74.9 202.3h0M101.4 177.2h0M69.7 204.2h0M78.1 199.5h0M62.7 229.4h0M63.7 217.6h0M66.7 210.8h0M64.5 212.8h0M72.4 204.6h0M91.5 181.9h0M67.8 216.4h0M63.7 226.9h0M78.9 199.3h0M70.7 208.3h0M63.1 226.9h0M84.2 187.0h0M96.0 180.5h0M84.1 188.2h0M86.4 185.6h0M85.6 188.6h0M101.7 177.0h0M63.5 219.5h0M91.9 184.6h0M83.0 191.1h0M97.2 179.8h0M89.4 184.3h0M74.7 197.9h0M82.0 193.6h0M68.6 214.5h0M70.8 210.4h0M63.2 218.8h0M71.4 206.0h0M87.5 184.2h0M71.0 210.0h0M91.2 182.6h0M64.6 216.0h0M79.3 192.8h0M68.3 215.1h0M80.1 194.1h0M85.4 185.7h0M91.7 184.0h0M84.3 186.9h0M64.8 219.6h0M81.6 191.2h0M68.8 211.8h0M74.5 201.0h0M65.1 219.8h0M73.4 204.7h0M80.9 192.9h0M62.7 221.1h0M78.3 196.9h0M93.6 186.3h0M76.7 200.8h0M67.7 208.7h0M66.0 215.9h0M74.1 203.7h0M72.3 207.4h0M81.2 190.1h0M83.9 188.4h0M82.5 191.0h0M85.1 188.2h0M88.1 188.8h0M82.9 188.8h0M65.6 212.9h0M77.7 197.5h0M71.5 207.0h0M63.9 224.3h0M79.1 194.2h0M66.1 220.0h0M82.6 192.0h0M76.1 199.7h0M63.2 224.7h0M71.9 205.0h0M76.7 199.3h0M64.3 212.5h0M94.9 180.1h0M97.3 179.4h0M63.4 222.0h0M82.4 189.1h0M71.3 204.0h0M87.9 183.9h0M95.7 180.2h0M75.8 202.2h0M79.1 193.8h0M72.1 209.1h0M81.1 192.4h0M106.1 176.4h0M70.0 209.9h0M62.8 228.7h0M100.3 178.2h0M62.2 228.9h0M81.9 191.3h0M79.1 198.1h0M72.1 206.5h0M94.8 180.1h0M63.2 220.8h0M67.8 214.6h0M86.9 183.1h0M63.6 232.0h0M66.2 212.4h0M65.1 217.9h0M70.9 204.2h0M83.2 188.1h0M97.2 178.5h0M64.6 212.9h0M62.6 230.8h0M83.7 188.2h0M92.5 180.1h0M63.1 230.7h0M79.0 195.3h0M78.2 196.5h0M76.3 198.5h0M79.1 194.3h0M65.3 210.7h0M92.6 183.0h0M65.1 214.6h0M97.2 181.1h0M97.2 178.8h0M87.7 183.9h0M68.8 205.0h0M96.9 179.8h0M68.4 216.4h0M76.7 203.4h0M74.0 200.8h0M65.3 219.9h0M103.8 175.7h0M68.5 218.5h0M76.6 204.1h0M63.6 223.5h0M67.8 211.9h0M87.4 183.7h0M82.7 192.4h0M71.2 208.6h0M80.2 193.2h0M63.2 217.3h0M83.8 194.6h0M92.1 182.9h0M64.1 230.8h0M68.7 211.3h0M65.8 212.6h0M65.3 223.6h0M93.8 181.4h0M79.8 189.4h0M80.3 196.0h0M81.1 196.7h0M80.8 191.7h0M67.1 211.2h0M64.3 215.5h0M65.4 224.5h0M66.4 219.2h0M65.1 216.0h0M86.0 185.4h0M68.0 209.2h0M72.8 208.4h0M85.7 190.3h0M100.1 179.2h0M66.7 222.8h0M76.9 196.4h0M72.1 205.5h0M67.0 217.9h0M72.0 210.9h0M85.9 186.7h0M66.5 212.2h0M76.1 198.0h0M73.1 203.6h0M62.4 230.1h0M90.0 183.8h0M90.6 184.5h0M87.8 183.5h0M72.6 204.6h0M71.7 204.3h0M81.2 191.9h0M104.4 177.1h0M73.7 201.0h0M67.6 210.6h0M72.9 202.2h0M76.7 197.4h0M78.6 193.8h0M96.3 180.5h0M77.8 197.5h0M87.1 184.2h0M75.5 204.0h0M75.1 205.2h0M93.8 183.1h0M66.1 210.7h0M69.5 211.7h0M76.4 199.2h0M62.7 221.3h0M67.1 218.7h0M74.4 200.2h0M80.6 194.1h0M103.1 179.8h0M65.8 222.0h0M62.2 227.3h0M80.8 190.3h0M93.1 183.7h0M63.8 223.1h0M67.9 210.8h0M81.8 191.7h0M78.8 193.0h0M90.0 182.4h0M79.6 191.7h0M96.8 179.2h0M68.8 211.8h0M84.0 188.2h0M79.1 197.3h0M72.0 207.2h0M83.2 189.6h0M89.8 185.0h0M79.2 198.1h0M83.7 190.4h0M71.3 205.3h0M89.4 182.6h0M70.4 206.5h0M81.0 195.8h0M78.3 196.4h0M76.3 201.6h0M94.1 181.3h0M82.6 190.6h0M77.9 196.7h0M81.5 188.6h0M82.1 189.6h0M68.2 208.7h0M70.8 211.7h0M79.6 196.0h0M66.7 220.3h0M86.9 185.1h0M85.3 187.4h0M79.3 193.3h0M71.1 210.8h0M102.4 178.9h0M83.6 188.0h0M89.6 182.9h0M82.4 188.9h0M77.1 198.6h0M65.7 210.5h0M68.0 218.3h0M86.1 183.4h0M78.2 194.3h0M67.0 214.4h0M68.7 216.8h0M72.3 201.0h0M79.1 193.7h0M85.9 188.7h0M72.9 201.8h0M68.7 214.2h0M82.0 192.1h0M66.8 221.0h0M67.5 218.5h0M69.7 207.0h0M77.2 198.4h0M62.7 230.0h0M66.1 220.4h0M82.3 189.9h0M73.2 206.9h0M72.3 203.5h0M73.7 202.9h0M62.9 216.8h0M98.7 177.2h0M93.8 179.7h0M79.2 193.8h0M63.5 223.0h0M86.9 195.3h0M86.9 185.3h0M70.4 210.1h0M66.6 219.5h0M82.5 188.3h0M79.6 194.0h0M72.2 207.4h0M70.3 212.8h0M94.8 180.4h0M64.1 223.5h0M130.5 170.8h0M147.8 172.0h0M155.8 173.2h0M104.9 188.9h0M109.1 184.6h0" stroke="#1f77b4" stroke-width="1.25" stroke-linecap="round" fill="none"/>
<line x1="75.9" x2="75.9" y1="168.4" y2="237" stroke="#000" stroke-width="0.7" stroke-dasharray="1.3 0.9"/>
<line x1="56.4" x2="160.5" y1="205.3" y2="205.3" stroke="#000" stroke-width="0.7" stroke-dasharray="1.3 0.9"/>
</g>
<rect x="56.4" y="168.4" width="104.1" height="68.6" fill="none" stroke="#000" stroke-width="0.45"/>
<text x="58.4" y="243.8" font-size="5.7" text-anchor="middle">0.0</text>
<text x="76.25" y="243.8" font-size="5.7" text-anchor="middle">0.1</text>
<text x="94.1" y="243.8" font-size="5.7" text-anchor="middle">0.2</text>
<text x="111.95" y="243.8" font-size="5.7" text-anchor="middle">0.3</text>
<text x="129.8" y="243.8" font-size="5.7" text-anchor="middle">0.4</text>
<text x="147.65" y="243.8" font-size="5.7" text-anchor="middle">0.5</text>
<text transform="translate(53.8 237.5) scale(0.84 1)" font-size="6.2" text-anchor="end">10<tspan dy="-2.4" font-size="4.3">−7</tspan></text>
<text transform="translate(53.8 223.5) scale(0.84 1)" font-size="6.2" text-anchor="end">10<tspan dy="-2.4" font-size="4.3">−6</tspan></text>
<text transform="translate(53.8 209.5) scale(0.84 1)" font-size="6.2" text-anchor="end">10<tspan dy="-2.4" font-size="4.3">−5</tspan></text>
<text transform="translate(53.8 195.5) scale(0.84 1)" font-size="6.2" text-anchor="end">10<tspan dy="-2.4" font-size="4.3">−4</tspan></text>
<text transform="translate(53.8 181.5) scale(0.84 1)" font-size="6.2" text-anchor="end">10<tspan dy="-2.4" font-size="4.3">−3</tspan></text>
<path d="M58.4 237v1.8M76.25 237v1.8M94.1 237v1.8M111.95 237v1.8M129.8 237v1.8M147.65 237v1.8M56.4 235.3h-1.8M56.4 221.3h-1.8M56.4 207.3h-1.8M56.4 193.3h-1.8M56.4 179.3h-1.8" stroke="#000" stroke-width="0.45" fill="none"/>
<text x="108.45" y="166" font-size="7" text-anchor="middle">px</text>
<text transform="translate(40.2 202.7) rotate(-90)" font-size="5.5" text-anchor="middle">LogCosh loss</text>
<clipPath id="s2"><rect x="181.7" y="168.4" width="104.3" height="68.6"/></clipPath>
<g clip-path="url(#s2)">
<path d="M195.3 215.7h0M220.8 183.4h0M190.0 217.3h0M190.6 218.0h0M197.2 211.1h0M192.8 215.8h0M202.8 195.0h0M191.1 222.2h0M215.1 186.0h0M213.0 188.9h0M188.6 233.0h0M203.5 204.3h0M190.2 222.5h0M194.0 214.8h0M198.3 208.0h0M196.5 204.8h0M199.1 205.7h0M218.7 185.2h0M189.7 212.9h0M195.0 218.9h0M204.4 196.9h0M221.4 184.6h0M218.2 185.7h0M215.7 189.8h0M188.9 225.3h0M220.0 185.1h0M203.9 197.7h0M213.3 187.4h0M195.4 206.9h0M191.4 216.0h0M209.1 191.3h0M205.2 198.4h0M209.0 192.5h0M195.7 218.4h0M193.8 221.8h0M208.2 193.0h0M189.5 229.7h0M220.5 183.2h0M193.8 221.8h0M200.2 198.6h0M194.5 205.8h0M192.6 210.5h0M194.5 219.8h0M208.2 191.6h0M217.0 185.5h0M206.7 194.5h0M204.8 201.1h0M204.6 193.5h0M200.4 202.4h0M202.1 202.2h0M215.0 184.1h0M193.5 213.1h0M190.7 215.5h0M221.1 183.9h0M221.4 185.9h0M198.2 204.6h0M208.8 190.2h0M206.7 193.1h0M221.5 183.8h0M190.7 224.4h0M215.6 186.5h0M199.8 204.3h0M197.2 205.6h0M204.7 195.8h0M203.0 199.1h0M194.7 204.9h0M193.0 212.5h0M216.6 183.7h0M212.2 192.1h0M194.0 223.6h0M195.4 207.1h0M207.1 191.9h0M214.8 188.6h0M223.9 183.3h0M192.2 215.0h0M214.8 186.4h0M205.9 196.5h0M190.4 225.3h0M192.5 216.8h0M190.0 217.3h0M192.8 225.2h0M205.3 196.4h0M194.3 212.0h0M205.0 195.7h0M191.9 224.6h0M213.8 188.3h0M205.3 195.7h0M210.1 193.3h0M202.8 199.7h0M196.4 204.5h0M192.2 217.7h0M218.8 181.0h0M192.5 220.7h0M196.5 200.6h0M191.4 221.8h0M190.8 222.5h0M206.5 196.9h0M215.5 188.1h0M199.4 206.3h0M211.0 193.1h0M212.4 187.8h0M199.3 201.7h0M208.2 192.0h0M192.6 212.2h0M189.4 219.4h0M193.2 218.3h0M189.5 231.9h0M189.1 224.8h0M207.1 192.9h0M215.7 185.8h0M188.3 225.8h0M205.1 193.3h0M208.0 191.5h0M205.4 197.1h0M200.8 205.0h0M199.5 204.9h0M207.6 198.4h0M193.9 215.5h0M207.0 192.6h0M191.0 217.4h0M187.8 227.7h0M218.5 183.0h0M190.8 223.7h0M190.2 216.9h0M188.1 225.8h0M188.6 231.1h0M190.8 221.5h0M217.6 184.9h0M207.7 198.4h0M194.7 206.7h0M189.2 232.0h0M212.2 191.1h0M196.9 203.1h0M213.3 189.9h0M200.2 204.3h0M192.6 225.0h0M188.0 224.3h0M209.1 191.6h0M192.0 216.0h0M189.5 219.4h0M198.7 208.6h0M192.3 213.8h0M194.2 213.8h0M210.8 193.0h0M199.4 205.8h0M235.0 177.6h0M192.6 223.6h0M195.8 213.4h0M215.5 189.4h0M198.7 207.2h0M207.4 191.7h0M196.0 205.8h0M195.0 206.8h0M215.4 188.4h0M194.6 211.9h0M199.6 201.3h0M200.8 201.0h0M188.3 227.0h0M192.7 223.6h0M194.7 216.3h0M188.6 233.0h0M204.8 196.2h0M201.2 200.4h0M194.5 210.2h0M194.9 206.0h0M189.2 227.4h0M197.3 208.3h0M211.9 189.5h0M191.1 228.2h0M203.5 197.2h0M205.2 195.9h0M190.7 215.7h0M193.1 212.3h0M193.8 219.0h0M201.9 201.6h0M197.8 210.4h0M190.0 220.9h0M195.7 213.7h0M193.4 215.3h0M229.8 179.3h0M204.0 200.1h0M199.7 205.5h0M199.8 204.9h0M201.4 200.7h0M228.6 182.0h0M193.9 207.4h0M189.5 226.0h0M193.8 218.7h0M188.4 231.7h0M193.5 217.6h0M205.8 201.6h0M195.7 215.5h0M212.1 190.2h0M221.4 182.7h0M193.9 222.5h0M210.9 192.0h0M204.5 197.6h0M232.6 177.6h0M190.6 217.5h0M209.2 193.9h0M195.5 211.3h0M191.8 217.3h0M191.8 213.7h0M219.5 183.6h0M199.4 205.3h0M195.2 205.3h0M213.1 187.1h0M211.1 186.2h0M215.2 186.1h0M189.5 229.4h0M234.7 177.4h0M209.5 201.2h0M216.5 187.1h0M209.1 190.4h0M215.8 186.8h0M214.4 186.9h0M200.5 195.4h0M192.0 221.7h0M204.6 196.3h0M188.2 227.7h0M195.5 210.2h0M193.1 213.0h0M194.7 212.9h0M209.4 190.4h0M213.5 186.0h0M215.0 185.1h0M204.4 199.7h0M209.7 193.8h0M190.4 221.3h0M198.4 211.9h0M210.3 193.1h0M195.8 204.4h0M200.6 205.1h0M209.5 192.4h0M193.8 216.6h0M212.4 186.8h0M206.6 193.3h0M191.3 224.9h0M194.5 205.5h0M217.2 185.3h0M191.5 213.0h0M188.3 230.6h0M189.2 218.1h0M199.2 201.2h0M188.1 222.4h0M190.4 226.5h0M193.9 221.6h0M210.1 189.3h0M224.9 182.6h0M193.9 221.8h0M202.7 202.6h0M205.4 197.1h0M188.8 224.8h0M213.4 186.3h0M208.4 194.6h0M204.6 196.1h0M199.5 205.3h0M208.2 190.7h0M211.8 191.0h0M193.4 212.9h0M193.3 215.7h0M227.9 178.5h0M200.7 205.8h0M200.2 209.2h0M220.0 185.8h0M206.9 195.3h0M206.6 192.8h0M209.8 190.9h0M211.3 189.6h0M204.8 196.3h0M233.6 176.0h0M208.6 191.0h0M212.7 191.7h0M210.0 188.6h0M190.5 227.2h0M231.0 178.7h0M208.0 192.7h0M189.4 223.8h0M207.6 196.0h0M205.5 194.8h0M198.1 203.1h0M195.1 212.7h0M198.7 201.1h0M188.5 218.4h0M197.7 208.9h0M202.6 198.5h0M206.3 195.2h0M200.8 202.3h0M214.3 186.1h0M214.8 186.3h0M216.3 185.4h0M203.4 200.8h0M192.2 214.5h0M188.6 226.8h0M201.6 200.5h0M199.4 202.9h0M189.3 233.5h0M191.8 220.7h0M224.5 182.0h0M207.0 192.7h0M217.1 187.7h0M194.4 211.2h0M199.5 207.8h0M200.0 199.4h0M197.2 208.2h0M189.7 228.5h0M194.1 202.1h0M203.8 196.5h0M193.4 208.7h0M218.4 185.7h0M218.6 183.7h0M189.9 228.8h0M195.7 206.6h0M201.6 199.1h0M198.3 208.5h0M225.9 178.4h0M192.1 211.5h0M215.9 187.0h0M195.6 210.6h0M214.4 186.7h0M188.9 222.6h0M212.9 189.6h0M211.4 188.9h0M199.9 200.4h0M194.4 212.3h0M195.6 208.0h0M189.6 220.9h0M193.0 213.1h0M198.0 202.0h0M201.1 203.8h0M196.5 203.7h0M212.8 186.6h0M190.9 216.1h0M208.0 191.0h0M212.4 187.5h0M194.1 209.2h0M189.1 225.9h0M209.5 189.1h0M207.0 194.6h0M197.6 203.7h0M217.7 183.7h0M194.8 215.0h0M206.5 194.4h0M201.1 195.7h0M192.7 206.6h0M209.4 192.9h0M190.2 222.5h0M193.3 211.6h0M199.3 204.3h0M223.7 181.8h0M208.9 193.8h0M189.5 226.1h0M203.2 198.7h0M188.7 220.0h0M196.9 208.7h0M223.9 182.5h0M192.0 213.0h0M190.9 222.9h0M218.2 184.3h0M191.3 216.3h0M200.7 199.5h0M192.3 213.8h0M221.1 184.6h0M212.6 198.9h0M210.8 192.4h0M193.0 223.5h0M193.8 208.7h0M212.9 189.1h0M192.9 212.3h0M193.8 223.3h0M212.0 187.8h0M192.7 213.6h0M197.7 197.7h0M190.7 217.4h0M192.1 222.1h0M196.7 202.5h0M202.5 197.4h0M207.4 191.7h0M218.7 184.1h0M201.0 203.9h0M204.5 195.6h0M195.4 212.3h0M214.9 186.5h0M194.3 210.0h0M190.4 228.1h0M195.4 217.8h0M192.7 220.8h0M202.3 197.3h0M188.4 218.6h0M197.2 205.1h0M193.2 210.4h0M210.4 192.5h0M193.9 212.9h0M189.9 214.2h0M196.7 214.2h0M189.1 216.9h0M201.7 195.4h0M198.2 201.8h0M206.0 196.5h0M190.9 222.0h0M211.7 193.1h0M200.5 202.1h0M226.5 182.3h0M230.8 179.9h0M190.1 230.6h0M199.3 198.0h0M190.6 213.5h0M203.7 194.1h0M193.7 221.6h0M200.2 200.5h0M207.9 192.9h0M199.2 199.7h0M195.4 212.8h0M207.6 194.0h0M220.3 186.4h0M193.3 213.4h0M192.0 222.7h0M193.8 206.8h0M195.3 206.8h0M197.7 209.0h0M221.5 184.1h0M191.3 214.6h0M190.7 226.4h0M189.5 230.5h0M198.4 204.3h0M195.3 214.7h0M198.7 204.2h0M204.5 195.0h0M194.2 211.2h0M192.3 221.6h0M218.0 187.5h0M191.1 217.9h0M194.3 211.9h0M189.7 229.5h0M202.3 199.0h0M191.7 214.9h0M207.2 193.4h0M197.1 206.6h0M211.6 190.6h0M196.6 211.6h0M209.9 193.2h0M192.3 225.5h0M198.6 211.7h0M196.0 212.0h0M196.2 207.3h0M194.0 217.0h0M196.3 213.7h0M225.2 180.5h0M189.5 224.1h0M195.9 201.8h0M215.4 184.9h0M198.1 205.3h0M195.4 204.7h0M199.8 202.9h0M193.7 221.8h0M195.3 218.3h0M205.4 195.4h0M202.1 199.7h0M195.0 216.8h0M198.6 204.6h0M229.0 178.3h0M195.2 218.1h0M210.3 191.9h0M219.4 183.6h0M200.5 202.2h0M189.2 218.7h0M201.1 206.8h0M208.8 191.8h0M204.8 198.0h0M210.7 188.1h0M199.4 203.8h0M188.8 231.9h0M189.0 228.3h0M209.0 190.8h0M200.4 202.4h0M216.7 186.0h0M214.2 191.6h0M203.0 197.5h0M202.8 200.4h0M208.9 192.7h0M187.9 217.7h0M193.5 208.0h0M203.7 198.0h0M197.7 201.4h0M195.9 220.5h0M191.7 210.0h0M191.3 220.9h0M211.4 189.6h0M189.5 217.5h0M203.7 197.7h0M190.9 218.8h0M190.6 221.3h0M188.6 227.3h0M195.3 209.6h0M211.9 190.0h0M217.3 187.1h0M199.9 202.0h0M214.9 191.2h0M203.3 197.0h0M223.4 184.3h0M190.0 216.1h0M190.3 213.3h0M196.7 215.2h0M210.4 190.2h0M219.4 184.1h0M208.2 192.0h0M222.9 181.9h0M188.3 231.8h0M195.0 220.5h0M190.3 219.6h0M197.2 212.1h0M193.1 208.0h0M196.8 208.0h0M193.3 220.2h0M197.8 201.3h0M202.5 195.9h0M211.4 191.7h0M194.1 220.8h0M229.4 180.1h0M193.0 214.3h0M194.3 205.7h0M216.5 187.3h0M191.1 220.0h0M196.9 206.9h0M194.1 209.4h0M191.8 224.1h0M189.2 227.1h0M194.0 217.5h0M198.8 202.7h0M189.3 226.9h0M193.6 217.8h0M220.5 184.0h0M198.2 204.0h0M194.5 214.0h0M227.2 179.7h0M206.8 195.7h0M195.0 210.2h0M212.7 190.0h0M189.4 227.8h0M193.9 211.4h0M221.1 182.1h0M199.9 202.7h0M190.2 223.2h0M192.2 224.3h0M221.3 186.3h0M198.3 210.0h0M214.0 185.9h0M193.8 214.9h0M201.3 200.1h0M190.5 214.5h0M212.3 189.1h0M210.1 192.3h0M225.8 181.6h0M198.1 203.6h0M207.8 192.6h0M193.2 224.2h0M200.6 198.0h0M205.5 191.8h0M207.6 193.9h0M196.1 214.5h0M188.9 230.1h0M203.3 199.3h0M206.7 191.8h0M198.6 201.1h0M191.5 218.3h0M194.6 206.7h0M189.9 215.0h0M214.1 187.7h0M204.6 196.2h0M199.6 197.6h0M209.8 198.6h0M228.6 180.0h0M224.0 183.9h0M188.1 230.5h0M190.5 227.3h0M233.9 176.5h0M195.7 209.1h0M207.2 194.5h0M195.9 208.8h0M209.5 191.4h0M207.1 192.9h0M192.4 212.0h0M206.0 193.9h0M190.3 229.4h0M189.7 227.1h0M197.4 201.8h0M220.7 191.2h0M235.6 180.2h0M189.5 226.9h0M192.3 210.1h0M188.8 220.3h0M215.1 188.0h0M194.9 207.3h0M194.4 211.6h0M196.8 206.0h0M198.6 209.9h0M199.7 202.6h0M190.1 224.2h0M192.5 223.8h0M195.0 214.7h0M188.6 221.0h0M226.0 185.3h0M190.8 219.6h0M214.9 186.7h0M195.5 212.9h0M232.4 177.5h0M190.3 219.8h0M208.3 204.7h0M203.9 193.5h0M188.6 228.8h0M202.8 203.3h0M196.6 202.1h0M208.5 189.7h0M194.8 208.9h0M195.2 201.5h0M188.4 228.9h0M203.5 193.9h0M223.4 180.5h0M207.9 191.2h0M210.3 192.0h0M208.4 194.0h0M191.0 215.0h0M220.9 185.6h0M191.2 224.4h0M199.0 205.2h0M210.1 189.7h0M207.4 195.0h0M190.9 214.3h0M195.8 213.5h0M201.0 202.6h0M197.5 209.6h0M193.9 221.2h0M191.9 212.9h0M207.3 193.9h0M199.9 206.7h0M199.9 203.7h0M192.5 222.3h0M187.8 228.9h0M216.7 186.2h0M212.8 190.1h0M201.8 206.1h0M201.0 195.1h0M204.2 196.4h0M194.7 204.2h0M191.9 223.3h0M189.3 229.4h0M207.7 194.1h0M210.8 190.5h0M190.3 225.5h0M209.4 189.8h0M190.3 230.0h0M213.3 186.1h0M200.8 204.7h0M197.3 202.7h0M234.7 177.1h0M205.4 191.9h0M201.5 203.6h0M211.4 188.0h0M198.4 206.3h0M192.0 212.4h0M208.4 189.6h0M211.3 191.0h0M202.8 199.1h0M196.1 214.7h0M229.4 181.2h0M210.2 190.7h0M189.7 218.4h0M202.7 196.7h0M201.9 200.7h0M188.7 227.0h0M204.2 195.9h0M192.7 224.6h0M204.6 196.6h0M203.6 198.1h0M213.8 186.3h0M195.8 213.7h0M201.7 200.8h0M205.9 193.4h0M190.9 227.2h0M189.7 216.8h0M198.5 197.6h0M213.5 189.5h0M197.4 207.0h0M222.3 182.7h0M234.5 178.4h0M194.9 207.4h0M195.1 209.2h0M202.9 196.5h0M205.2 198.7h0M217.2 186.1h0M191.2 217.0h0M218.4 186.3h0M198.3 204.8h0M191.7 211.5h0M194.2 207.4h0M192.3 216.5h0M195.8 213.5h0M209.3 193.9h0M197.2 210.6h0M214.5 186.4h0M204.0 196.7h0M196.7 207.9h0M199.7 209.7h0M198.4 198.6h0M204.0 200.4h0M192.0 211.1h0M189.0 229.5h0M202.8 202.1h0M197.8 212.7h0M210.4 194.2h0M214.3 186.5h0M194.5 210.0h0M198.0 211.1h0M229.9 180.0h0M208.3 190.8h0M209.9 193.1h0M191.7 214.7h0M219.4 187.6h0M203.3 200.8h0M197.0 204.2h0M191.5 214.5h0M204.2 194.3h0M209.0 191.4h0M197.4 207.7h0M207.8 192.7h0M204.8 195.2h0M194.7 213.9h0M204.4 195.8h0M189.3 221.8h0M198.3 203.1h0M200.0 203.6h0M207.9 194.3h0M207.4 192.6h0M200.2 199.9h0M189.8 230.2h0M189.7 220.8h0M201.3 198.0h0M212.4 186.4h0M189.0 225.5h0M210.6 192.3h0M206.3 208.6h0M203.6 195.6h0M189.9 229.2h0M196.8 207.9h0M219.0 184.9h0M193.9 221.3h0M191.8 216.7h0M196.2 208.2h0M200.4 205.7h0M190.0 227.3h0M191.3 224.8h0M199.4 198.3h0M189.7 232.8h0M192.0 214.9h0M191.4 213.2h0M192.3 214.8h0M218.1 185.0h0M190.6 216.3h0M204.0 197.7h0M193.7 218.4h0M219.1 187.2h0M208.7 195.5h0M193.8 217.4h0M200.5 200.4h0M201.5 202.0h0M188.2 231.8h0M213.2 188.1h0M195.4 215.6h0M203.9 193.9h0M191.2 223.7h0M196.7 204.2h0M194.5 208.4h0M206.2 195.1h0M195.6 214.4h0M191.8 222.9h0M189.4 212.5h0M191.1 226.6h0M232.2 181.5h0M196.0 210.9h0M216.6 189.5h0M201.8 205.4h0M218.6 183.4h0M196.1 202.5h0M193.4 218.9h0M192.0 214.9h0M198.1 208.0h0M188.7 221.5h0M202.1 196.1h0M190.4 225.6h0M200.8 206.5h0M198.0 200.3h0M223.5 183.6h0M195.6 206.2h0M216.7 190.6h0M197.2 202.4h0M201.6 198.3h0M211.5 189.0h0M199.9 201.9h0M221.8 179.7h0M213.7 185.4h0M196.4 208.4h0M206.1 193.0h0M188.4 218.4h0M192.6 215.4h0M213.1 186.4h0M196.1 213.9h0M218.9 184.6h0M191.1 218.9h0M197.1 203.6h0M192.3 218.2h0M207.3 195.2h0M205.1 197.5h0M192.2 211.1h0M191.9 219.2h0M219.0 181.5h0M203.6 195.9h0M202.2 199.5h0M202.9 191.9h0M189.0 231.5h0M188.7 222.4h0M212.9 189.6h0M196.3 210.9h0M206.6 192.6h0M218.9 192.3h0M220.8 184.0h0M230.4 179.3h0M214.5 187.2h0M192.6 212.4h0M208.7 192.1h0M207.4 195.5h0M195.6 206.8h0M209.3 188.0h0M197.5 206.7h0M193.9 219.8h0M202.0 200.4h0M191.3 221.3h0M220.7 184.2h0M191.0 223.4h0M196.0 213.2h0M194.9 208.3h0M193.7 222.9h0M196.8 207.8h0M198.7 206.1h0M189.3 229.5h0M192.0 224.9h0M202.1 205.8h0M191.5 211.4h0M210.5 187.5h0M188.4 227.6h0M219.3 187.0h0M190.0 221.7h0M189.4 226.8h0M201.9 205.1h0M217.0 185.0h0M200.1 198.0h0M194.6 218.7h0M204.8 202.0h0M198.4 202.7h0M190.8 226.9h0M199.3 200.9h0M211.2 192.6h0M209.3 193.0h0M191.7 209.9h0M195.3 213.4h0M197.3 207.6h0M202.7 203.0h0M191.0 224.8h0M194.8 220.5h0M193.6 222.2h0M203.2 197.6h0M204.7 200.7h0M215.1 186.9h0M193.7 214.3h0M194.1 208.8h0M233.4 179.9h0M197.4 212.7h0M200.5 196.7h0M191.7 218.1h0M209.2 192.8h0M194.3 222.7h0M209.7 189.1h0M193.1 209.8h0M204.8 196.9h0M207.2 194.7h0M190.2 214.8h0M194.0 213.9h0M188.9 228.0h0M196.3 206.5h0M198.7 208.4h0M200.2 200.1h0M193.8 222.0h0M194.5 214.8h0M194.4 210.6h0M204.2 197.9h0M195.5 213.3h0M207.6 194.7h0M199.7 203.0h0M207.4 193.4h0M207.4 193.0h0M192.2 214.8h0M209.2 192.1h0M195.8 207.4h0M210.4 190.1h0M199.7 202.5h0M210.1 191.2h0M198.0 200.9h0M191.2 223.6h0M199.8 205.3h0M188.3 225.3h0M208.2 191.6h0M211.3 188.9h0M189.8 224.2h0M206.6 191.4h0M196.8 204.8h0M204.0 197.5h0M202.4 196.4h0M195.9 214.1h0M209.9 189.1h0M189.4 230.5h0M231.8 178.6h0M198.7 207.4h0M219.4 182.9h0M194.3 218.0h0M213.5 188.3h0M195.6 215.6h0M214.4 190.3h0M206.9 193.2h0M215.0 185.6h0M203.8 195.4h0M189.3 222.1h0M190.8 224.3h0M204.5 196.6h0M207.4 191.5h0M212.4 188.4h0M205.2 196.2h0M226.2 182.5h0M195.8 213.3h0M192.5 209.3h0M190.3 226.2h0M212.2 188.9h0M195.2 216.3h0M204.7 193.0h0M203.1 196.7h0M206.8 193.5h0M198.5 202.6h0M189.8 223.6h0M213.0 187.7h0M224.3 184.6h0M191.5 222.9h0M229.7 181.1h0M202.0 197.9h0M209.6 189.4h0M215.0 186.2h0M211.0 191.9h0M198.3 206.1h0M203.8 195.1h0M188.5 226.0h0M193.0 207.0h0M197.9 206.4h0M189.1 231.5h0M209.1 189.6h0M211.0 193.7h0M196.4 205.0h0M195.7 214.3h0M191.0 224.0h0M225.9 182.4h0M192.7 222.9h0M190.3 227.0h0M198.6 212.0h0M222.6 184.1h0M189.5 227.4h0M189.1 225.1h0M192.1 212.1h0M196.7 205.9h0M207.1 192.8h0M195.8 215.7h0M199.5 209.6h0M211.8 191.6h0M195.7 217.1h0M189.6 214.4h0M210.5 188.9h0M204.6 192.1h0M222.1 181.3h0M210.9 189.7h0M203.3 194.9h0M192.0 225.4h0M193.7 223.7h0M193.0 215.1h0M209.0 192.2h0M196.5 211.4h0M192.2 227.0h0M228.0 178.6h0M197.0 209.5h0M189.3 227.0h0M207.6 191.7h0M205.7 193.9h0M192.5 211.3h0M191.7 222.3h0M207.1 193.1h0M189.3 225.7h0M208.6 195.6h0M198.2 202.3h0M218.1 186.4h0M196.0 210.6h0M214.9 188.4h0M204.1 200.3h0M192.7 210.6h0M203.2 195.0h0M195.0 207.9h0M193.6 207.7h0M192.7 216.2h0M201.9 201.7h0M197.6 207.1h0M193.7 207.9h0M190.4 228.4h0M217.1 186.6h0M193.3 213.8h0M227.6 180.1h0M189.3 215.8h0M189.3 231.8h0M226.4 180.5h0M204.0 196.5h0M207.5 191.2h0M197.7 208.1h0M188.9 234.2h0M209.7 192.4h0M218.2 185.1h0M201.5 208.4h0M189.3 223.6h0M196.3 212.3h0M221.3 184.3h0M189.0 231.0h0M197.3 209.6h0M189.3 218.7h0M207.6 193.0h0M209.8 190.7h0M200.6 204.6h0M205.7 193.5h0M227.2 180.3h0M193.5 212.5h0M196.7 200.0h0M211.6 187.1h0M190.2 223.7h0M208.6 192.3h0M192.2 212.1h0M190.6 214.4h0M189.7 219.8h0M201.0 206.8h0M202.1 198.6h0M195.7 213.4h0M200.1 202.7h0M192.6 221.8h0M202.0 198.2h0M197.3 204.8h0M191.4 225.2h0M197.3 200.4h0M202.9 199.0h0M193.6 208.6h0M199.2 202.8h0M199.4 200.7h0M199.2 205.6h0M189.6 222.7h0M189.5 228.4h0M193.7 208.4h0M204.2 196.5h0M211.9 191.2h0M198.2 202.1h0M199.2 203.8h0M204.8 195.5h0M192.0 210.6h0M218.7 185.9h0M200.3 205.4h0M192.8 210.1h0M220.4 190.9h0M192.1 212.7h0M201.7 199.2h0M192.5 209.3h0M219.6 182.0h0M203.4 196.3h0M188.8 226.8h0M206.7 194.4h0M194.1 218.0h0M201.0 201.5h0M202.2 195.4h0M205.1 195.0h0M209.9 192.7h0M199.2 201.0h0M206.4 196.1h0M188.6 229.6h0M202.4 201.3h0M203.5 198.7h0M216.7 186.7h0M197.5 208.1h0M192.1 224.3h0M200.0 200.4h0M197.0 207.5h0M201.5 201.4h0M190.7 226.5h0M189.1 223.9h0M201.8 201.1h0M205.7 192.3h0M201.0 198.0h0M194.6 211.8h0M202.6 198.2h0M212.9 187.0h0M212.8 190.3h0M212.1 189.3h0M197.0 202.7h0M221.7 183.1h0M193.5 208.9h0M231.4 177.3h0M188.8 220.3h0M188.4 226.0h0M190.4 218.2h0M201.9 199.0h0M213.6 187.4h0M194.0 220.5h0M201.7 203.3h0M189.2 228.5h0M198.2 209.0h0M207.3 192.3h0M210.1 192.9h0M210.1 194.0h0M201.3 202.4h0M190.8 228.1h0M203.1 194.0h0M207.8 192.9h0M193.5 207.4h0M228.6 183.1h0M205.2 192.1h0M204.0 203.7h0M188.4 226.4h0M188.7 229.2h0M198.4 202.5h0M199.6 202.3h0M200.5 197.5h0M202.7 196.8h0M211.1 190.1h0M203.0 195.0h0M193.5 216.2h0M194.2 210.1h0M195.1 207.2h0M196.5 212.5h0M219.4 184.3h0M191.1 219.0h0M193.3 217.7h0M200.6 199.3h0M196.0 215.3h0M193.8 210.8h0M200.0 202.3h0M213.1 193.9h0M211.6 188.6h0M200.0 203.1h0M213.9 186.5h0M198.3 210.3h0M191.3 219.0h0M200.2 201.5h0M209.3 191.6h0M188.7 230.2h0M203.6 203.6h0M191.5 220.9h0M203.3 194.4h0M227.9 180.4h0M210.1 191.4h0M206.2 193.2h0M203.9 198.9h0M211.0 186.1h0M205.2 193.8h0M198.5 203.4h0M195.8 210.2h0M191.2 212.0h0M209.1 192.5h0M189.1 223.9h0M198.1 205.1h0M197.0 211.6h0M198.3 203.9h0M203.6 209.5h0M192.9 213.1h0M190.4 218.2h0M218.8 184.8h0M192.1 220.5h0M196.8 211.8h0M189.9 220.9h0M192.8 217.2h0M201.4 202.6h0M192.6 213.3h0M192.3 219.9h0M207.9 188.8h0M196.0 205.1h0M204.5 197.9h0M201.0 201.5h0M193.3 208.8h0M214.2 190.6h0M189.8 227.4h0M198.0 206.1h0M188.2 226.6h0M207.2 191.0h0M199.9 199.1h0M205.8 194.1h0M218.7 185.4h0M223.5 182.5h0M215.1 185.5h0M206.0 192.5h0M215.3 187.2h0M210.5 189.6h0M204.7 191.8h0M196.3 210.9h0M202.7 202.4h0M196.0 205.8h0M206.5 194.3h0M210.5 192.1h0M195.6 214.0h0M195.5 207.9h0M202.8 203.5h0M190.4 227.9h0M206.1 195.6h0M189.6 217.5h0M194.1 215.6h0M201.7 204.2h0M206.2 196.7h0M196.0 212.4h0M199.0 200.6h0M194.4 216.4h0M192.8 222.9h0M196.5 205.1h0M197.4 209.8h0M206.4 195.8h0M191.7 226.5h0M191.4 221.0h0M192.8 221.3h0M200.9 201.5h0M201.3 201.4h0M229.5 179.5h0M194.5 212.8h0M207.1 191.8h0M208.9 191.6h0M207.6 194.0h0M190.5 211.9h0M211.1 191.7h0M208.0 191.7h0M206.4 194.7h0M196.5 203.5h0M204.2 198.0h0M199.1 202.0h0M213.4 187.9h0M237.5 176.3h0M196.7 213.3h0M214.2 187.0h0M193.2 219.5h0M192.1 224.5h0M207.1 193.9h0M194.7 217.0h0M190.8 225.3h0M191.2 214.8h0M236.1 176.2h0M189.0 219.6h0M196.8 207.4h0M230.9 178.7h0M190.0 227.3h0M215.9 186.5h0M190.1 217.5h0M205.8 196.9h0M189.9 229.4h0M189.3 231.0h0M192.2 211.0h0M192.6 216.8h0M194.7 207.2h0M200.2 204.7h0M192.5 226.4h0M203.2 199.0h0M223.6 182.9h0M206.7 192.4h0M205.8 198.7h0M203.3 201.3h0M192.3 219.8h0M195.5 210.2h0M201.5 197.8h0M196.4 211.8h0M198.5 210.1h0M195.5 209.9h0M208.3 193.6h0M200.9 198.7h0M194.1 220.6h0M208.6 192.4h0M199.4 205.6h0M193.9 218.0h0M197.9 200.8h0M210.4 189.0h0M200.7 200.9h0M194.9 206.8h0M190.9 226.7h0M197.4 205.2h0M218.5 185.9h0M190.4 222.9h0M214.4 187.0h0M191.2 211.6h0M208.0 195.0h0M212.8 189.4h0M212.2 189.0h0M205.4 197.9h0M200.0 198.9h0M198.2 207.7h0M205.7 196.1h0M202.6 198.6h0M202.1 196.2h0M196.2 215.0h0M189.7 227.2h0M190.7 226.9h0M188.5 225.4h0M194.3 209.7h0M200.9 202.1h0M207.7 193.6h0M192.7 210.7h0M215.9 186.9h0M190.5 214.9h0M213.6 187.0h0M205.8 195.5h0M193.2 217.1h0M195.5 215.3h0M195.4 212.4h0M191.3 213.8h0M219.9 185.0h0M190.0 217.9h0M199.7 206.2h0M194.2 215.5h0M202.7 195.3h0M208.9 191.1h0M202.3 196.3h0M197.6 202.1h0M190.0 220.1h0M194.6 204.3h0M191.1 220.5h0M201.7 202.2h0M205.4 200.0h0M202.5 201.1h0M197.7 207.5h0M200.5 198.6h0M189.4 221.6h0M192.2 213.7h0M227.7 181.6h0M194.1 219.7h0M190.2 229.4h0M202.9 198.3h0M202.1 197.3h0M191.1 214.4h0M202.6 202.0h0M229.0 181.3h0M213.5 190.1h0M195.7 214.4h0M209.0 198.5h0M201.8 200.5h0M194.6 208.9h0M205.0 193.9h0M189.3 218.1h0M190.0 214.4h0M195.3 211.0h0M208.6 189.3h0M191.0 210.8h0M192.9 220.2h0M208.7 192.7h0M192.5 220.3h0M190.3 214.2h0M216.6 186.0h0M200.0 200.2h0M189.4 226.2h0M201.7 197.1h0M198.8 206.4h0M196.5 208.7h0M197.5 211.2h0M210.2 192.5h0M189.2 214.6h0M230.5 179.0h0M207.3 195.0h0M192.2 222.9h0M210.5 189.2h0M207.2 193.9h0M193.5 206.6h0M196.6 208.0h0M240.0 175.2h0M201.4 200.9h0M198.8 210.9h0M214.5 185.4h0M203.2 197.1h0M197.7 201.5h0M208.1 192.0h0M192.3 219.9h0M190.4 225.2h0M198.8 201.6h0M213.2 189.8h0M195.8 214.1h0M190.5 217.4h0M191.6 213.1h0M189.7 222.8h0M196.3 213.7h0M214.3 186.1h0M219.9 187.8h0M198.7 201.6h0M192.1 215.9h0M196.8 205.4h0M219.4 185.0h0M214.3 187.7h0M205.6 191.6h0M190.8 209.6h0M204.9 197.1h0M194.5 208.6h0M195.3 204.6h0M197.6 201.3h0M215.9 186.6h0M197.4 209.3h0M201.0 198.7h0M209.5 193.0h0M195.4 218.2h0M198.2 204.9h0M192.6 220.4h0M204.2 194.5h0M189.7 230.9h0M204.1 199.9h0M223.7 188.0h0M187.9 220.8h0M190.0 225.9h0M202.2 199.2h0M195.8 210.5h0M192.3 216.5h0M195.3 210.5h0M208.1 192.2h0M199.7 200.6h0M229.1 178.8h0M200.6 198.5h0M201.3 204.0h0M194.0 215.8h0M203.8 208.8h0M191.8 218.7h0M199.7 199.7h0M194.0 217.2h0M211.9 191.3h0M196.1 217.1h0M189.3 224.8h0M222.5 180.7h0M194.0 207.4h0M198.3 201.5h0M193.6 213.0h0M220.7 182.3h0M205.3 193.8h0M188.3 229.3h0M187.9 224.9h0M199.9 203.9h0M208.0 195.8h0M202.0 203.3h0M205.3 197.1h0M195.7 208.3h0M198.3 205.9h0M192.9 214.5h0M200.7 202.3h0M196.8 206.3h0M188.6 220.2h0M201.4 200.4h0M205.5 194.7h0M191.0 223.2h0M192.7 224.3h0M188.5 228.2h0M206.3 196.4h0M215.2 196.8h0M190.5 222.2h0M221.2 182.8h0M212.1 187.9h0M196.5 211.9h0M204.8 193.8h0M198.1 208.5h0M188.9 230.8h0M197.5 211.5h0M195.0 211.3h0M195.9 214.5h0M200.0 204.1h0M197.8 205.7h0M195.3 204.8h0M198.0 199.5h0M201.7 202.0h0M190.8 225.7h0M212.6 189.0h0M205.5 205.0h0M190.5 223.6h0M189.2 222.7h0M211.5 190.3h0M206.6 191.8h0M195.0 204.2h0M209.7 189.4h0M193.7 220.2h0M235.7 176.8h0M194.4 208.0h0M206.4 196.9h0M201.3 202.2h0M208.5 191.9h0M194.4 208.1h0M193.0 214.2h0M191.6 219.2h0M198.4 204.7h0M196.9 205.1h0M196.8 210.3h0M205.2 193.7h0M220.7 184.2h0M195.0 218.4h0M191.0 222.1h0M204.5 196.0h0M221.3 181.6h0M208.4 192.9h0M190.6 219.8h0M188.7 217.6h0M198.1 202.9h0M190.8 230.2h0M195.3 211.9h0M193.2 208.6h0M206.6 193.0h0M197.5 201.9h0M203.7 197.5h0M195.3 210.3h0M198.2 208.3h0M188.4 222.2h0M212.2 191.1h0M195.3 213.8h0M194.5 214.5h0M217.0 185.1h0M201.4 201.3h0M215.5 186.3h0M189.4 217.6h0M210.2 192.5h0M191.2 226.4h0M210.6 189.3h0M189.6 218.3h0M201.3 202.6h0M206.2 194.8h0M196.9 203.3h0M210.2 190.3h0M201.8 196.6h0M199.8 198.4h0M220.5 183.5h0M200.4 202.1h0M226.6 180.5h0M228.2 180.9h0M200.6 195.7h0M196.2 208.2h0M208.4 189.4h0M206.4 194.2h0M214.1 187.7h0M203.0 198.1h0M217.2 183.8h0M201.2 201.6h0M216.8 185.6h0M198.4 205.0h0M194.3 212.9h0M209.1 190.5h0M190.8 227.2h0M193.9 215.2h0M212.6 193.7h0M219.1 185.1h0M196.5 205.0h0M205.4 194.8h0M198.5 205.7h0M198.5 210.6h0M208.5 189.9h0M191.8 219.6h0M202.8 201.0h0M210.1 192.7h0M195.5 210.6h0M214.1 185.2h0M191.7 211.4h0M199.1 209.8h0M193.6 220.8h0M195.3 211.4h0M212.6 187.3h0M201.0 205.6h0M197.7 204.2h0M203.3 201.0h0M196.6 207.7h0M200.3 198.3h0M205.4 196.1h0M191.7 217.1h0M198.3 204.6h0M195.2 216.8h0M190.0 230.1h0M205.7 196.7h0M223.6 182.5h0M211.2 189.2h0M198.5 204.9h0M191.8 216.3h0M220.6 183.3h0M201.9 202.1h0M214.4 188.0h0M196.5 211.6h0M204.7 197.7h0M210.4 193.6h0M207.0 194.7h0M195.5 210.8h0M223.0 184.2h0M206.5 194.5h0M194.4 216.7h0M192.7 217.8h0M208.1 194.1h0M191.3 216.5h0M197.5 215.8h0M198.1 202.1h0M193.1 215.9h0M192.7 218.7h0M196.9 210.4h0M197.1 212.9h0M194.6 211.3h0M208.2 191.9h0M192.4 225.2h0M203.9 209.5h0M206.9 192.7h0M200.9 202.1h0M188.3 228.7h0M190.0 228.7h0M209.7 191.7h0M209.0 201.6h0M200.7 198.0h0M195.6 211.2h0M196.3 210.9h0M196.3 207.3h0M197.5 211.0h0M207.4 193.9h0M193.2 215.9h0M196.6 206.5h0M204.5 194.5h0M202.9 203.5h0M193.1 213.1h0M191.3 222.4h0M202.1 197.2h0M229.1 180.1h0M205.1 194.5h0M228.3 182.2h0M206.5 196.6h0M209.0 193.7h0M217.0 187.8h0M217.5 186.0h0M206.5 194.1h0M213.8 187.3h0M201.9 202.5h0M190.9 225.5h0M188.5 222.2h0M200.6 205.5h0M189.4 225.8h0M189.3 230.8h0M198.6 207.8h0M194.8 216.2h0M188.5 226.9h0M211.2 187.5h0M198.6 203.4h0M223.8 181.6h0M217.0 185.5h0M199.7 206.4h0M195.0 215.3h0M196.7 211.2h0M221.8 181.3h0M207.8 192.7h0M197.3 204.1h0M208.4 193.2h0M207.9 191.7h0M201.2 205.6h0M188.6 219.5h0M217.1 183.9h0M199.0 202.8h0M207.2 195.8h0M191.2 218.6h0M201.2 205.3h0M196.0 212.5h0M190.6 218.6h0M231.7 178.9h0M193.6 221.7h0M214.9 196.2h0M196.9 209.4h0M224.2 182.7h0M204.8 195.7h0M190.8 218.7h0M194.2 214.0h0M195.5 209.6h0M209.5 188.6h0M196.5 210.0h0M215.4 186.1h0M190.9 216.1h0M209.3 195.2h0M188.9 226.9h0M203.9 196.3h0M198.9 202.5h0M225.6 181.7h0M194.2 218.3h0M196.8 213.2h0M208.1 192.9h0M189.2 227.9h0M191.5 218.6h0M214.1 188.4h0M206.8 192.6h0M199.2 202.8h0M203.7 197.4h0M195.7 211.7h0M192.4 214.7h0M189.9 226.0h0M238.0 176.6h0M197.3 208.3h0M205.1 195.6h0M205.1 192.4h0M208.6 191.4h0M192.1 211.6h0M209.9 191.6h0M196.0 209.1h0M198.1 203.4h0M205.7 196.8h0M227.3 176.7h0M198.1 209.7h0M192.4 211.3h0M208.4 196.4h0M190.0 229.2h0M197.6 205.6h0M229.6 178.8h0M200.7 201.4h0M191.2 218.8h0M195.6 210.6h0M192.1 215.7h0M204.7 193.8h0M213.7 188.1h0M194.1 211.9h0M221.4 182.0h0M199.4 208.1h0M188.9 218.2h0M207.9 196.0h0M190.3 216.6h0M215.7 190.7h0M209.7 193.2h0M204.5 196.5h0M207.8 194.2h0M197.4 205.5h0M214.3 185.9h0M206.8 191.0h0M199.8 205.1h0M192.9 211.9h0M193.7 217.0h0M202.8 196.0h0M213.2 189.6h0M196.6 210.9h0M197.2 208.9h0M195.0 217.8h0M188.9 220.5h0M191.1 211.6h0M205.7 194.1h0M195.6 205.8h0M199.9 209.1h0M208.8 190.8h0M200.9 200.7h0M209.0 192.6h0M219.8 182.9h0M204.1 193.7h0M200.1 203.9h0M191.0 227.2h0M192.3 225.0h0M207.6 190.7h0M191.8 225.0h0M200.4 200.4h0M192.8 219.7h0M211.8 189.0h0M206.9 196.2h0M195.2 214.4h0M209.7 193.7h0M201.4 202.5h0M194.7 210.7h0M199.1 201.2h0M223.6 180.8h0M195.0 219.1h0M211.7 188.0h0M189.3 228.0h0M189.9 221.0h0M189.9 220.5h0M199.8 204.5h0M223.0 183.4h0M188.6 219.7h0M193.1 215.7h0M199.0 201.0h0M194.3 216.8h0M201.7 202.5h0M193.1 213.6h0M189.0 232.3h0M194.5 213.3h0M191.7 224.4h0M211.1 191.0h0M195.2 215.4h0M192.2 213.4h0M189.6 230.5h0M203.1 205.7h0M188.8 228.6h0M200.4 199.7h0M208.8 191.6h0M208.1 198.8h0M212.5 191.3h0M200.7 201.8h0M193.3 216.6h0M211.3 188.0h0M197.4 200.1h0M232.8 175.5h0M212.2 187.6h0M197.1 212.3h0M217.6 185.0h0M211.6 189.6h0M208.8 192.5h0M221.0 183.3h0M213.8 186.6h0M202.7 193.9h0M208.6 196.6h0M196.8 208.9h0M211.2 189.5h0M205.5 194.9h0M195.7 207.9h0M196.2 207.1h0M201.7 196.3h0M199.0 210.4h0M207.4 194.2h0M191.0 214.9h0M191.2 221.5h0M188.5 224.1h0M201.8 203.9h0M196.4 209.4h0M205.3 193.5h0M189.4 219.4h0M213.4 190.5h0M196.2 209.8h0M213.5 189.4h0M218.8 183.6h0M201.8 196.7h0M214.5 188.4h0M201.7 199.2h0M208.3 193.1h0M222.3 183.3h0M187.9 229.5h0M205.6 193.4h0M201.5 196.6h0M204.9 194.1h0M193.8 220.9h0M188.4 227.3h0M191.9 211.6h0M195.5 203.5h0M193.1 207.9h0M194.8 210.5h0M192.1 213.8h0M200.3 200.9h0M190.9 215.8h0M213.6 185.6h0M212.7 188.8h0M214.4 188.3h0M196.5 204.4h0M191.8 212.9h0M205.2 198.9h0M222.0 180.9h0M197.5 205.5h0M206.1 190.9h0M191.1 217.8h0M187.2 221.8h0M197.7 205.6h0M201.3 197.7h0M207.9 195.5h0M193.6 208.3h0M191.5 217.4h0M212.5 188.8h0M206.3 194.8h0M197.8 206.9h0M204.1 196.0h0M198.8 207.5h0M220.3 183.8h0M202.6 199.9h0M206.1 191.9h0M231.8 177.6h0M212.6 187.8h0M203.8 196.1h0M199.2 200.0h0M206.7 196.2h0M192.6 214.5h0M197.4 207.9h0M209.4 200.3h0M193.6 210.8h0M200.2 208.6h0M207.1 193.3h0M204.9 198.5h0M205.2 197.3h0M190.2 222.1h0M201.3 203.0h0M191.1 225.5h0M188.0 223.5h0M207.3 195.8h0M207.3 201.2h0M197.6 208.8h0M195.9 202.6h0M207.1 192.1h0M191.2 225.1h0M198.8 202.4h0M196.6 204.6h0M191.4 216.0h0M205.0 198.8h0M212.2 192.5h0M199.8 206.0h0M208.0 193.9h0M211.3 188.6h0M216.4 187.8h0M221.9 184.1h0M203.2 197.8h0M206.0 195.1h0M203.2 203.9h0M188.9 223.2h0M212.4 190.9h0M229.2 180.4h0M230.5 180.6h0M234.9 175.3h0M229.9 181.8h0M197.3 209.3h0M190.0 227.0h0M189.4 219.5h0M190.3 227.7h0M195.3 214.5h0M193.8 212.8h0M190.5 216.8h0M203.1 197.1h0M205.5 195.0h0M207.2 195.5h0M218.9 182.5h0M207.3 195.1h0M196.6 214.3h0M193.5 208.9h0M197.3 207.5h0M202.5 196.3h0M193.0 215.0h0M216.3 185.7h0M189.8 216.7h0M202.0 195.9h0M202.0 197.3h0M196.9 200.3h0M208.3 194.2h0M201.9 199.6h0M207.3 194.9h0M215.9 186.1h0M195.5 212.4h0M199.0 199.6h0M193.9 208.9h0M192.3 222.7h0M194.7 206.1h0M205.4 195.6h0M197.5 210.1h0M195.8 209.9h0M201.5 200.4h0M189.8 222.2h0M194.0 207.9h0M189.7 219.6h0M189.6 227.8h0M203.7 198.1h0M197.4 203.7h0M190.8 224.7h0M190.7 220.3h0M191.4 211.0h0M200.9 198.0h0M196.1 207.7h0M188.6 229.7h0M212.8 189.2h0M207.7 194.7h0M192.8 214.6h0M237.9 177.3h0M201.2 200.5h0M188.2 223.4h0M199.6 204.8h0M191.7 214.9h0M209.9 188.1h0M208.1 192.3h0M201.2 207.2h0M191.3 215.6h0M222.9 181.7h0M198.5 206.6h0M196.2 217.4h0M215.0 186.9h0M214.8 187.7h0M192.7 216.6h0M197.3 211.0h0M190.4 226.1h0M189.3 227.6h0M207.7 192.1h0M209.6 198.6h0M206.5 194.2h0M191.8 212.9h0M190.2 221.2h0M207.9 191.5h0M189.7 216.8h0M215.2 187.2h0M199.6 197.7h0M198.6 204.4h0M190.5 227.7h0M196.3 205.3h0M194.0 212.4h0M210.5 193.2h0M207.7 192.4h0M205.3 195.3h0M207.2 194.3h0M216.6 191.3h0M221.4 181.7h0M207.8 190.6h0M195.7 217.8h0M195.3 217.9h0M212.0 189.7h0M198.9 206.8h0M195.7 206.6h0M197.4 211.1h0M198.4 205.0h0M196.9 204.9h0M193.7 214.2h0M209.6 190.6h0M195.4 210.1h0M192.6 210.5h0M206.1 196.9h0M189.2 228.3h0M193.4 223.1h0M207.3 192.3h0M201.7 202.3h0M197.7 212.8h0M205.7 195.4h0M194.2 214.7h0M205.6 195.8h0M227.0 181.8h0M197.0 207.1h0M204.7 198.3h0M195.1 211.8h0M189.5 216.6h0M204.3 194.5h0M195.2 205.6h0M202.0 193.8h0M213.7 189.9h0M193.1 209.3h0M195.0 219.3h0M189.0 229.2h0M193.9 219.2h0M189.8 228.1h0M194.2 222.4h0M198.9 200.2h0M197.0 210.3h0M190.1 224.0h0M195.8 215.8h0M188.6 232.2h0M205.2 195.3h0M210.9 188.3h0M198.6 207.2h0M206.0 191.7h0M225.0 181.5h0M189.3 215.5h0M193.6 219.0h0M190.3 215.4h0M197.5 210.7h0M191.7 223.4h0M191.5 226.9h0M222.1 183.8h0M199.9 199.6h0M188.8 221.5h0M209.0 190.4h0M191.0 221.9h0M202.9 199.1h0M215.6 183.7h0M187.8 226.6h0M190.3 227.4h0M192.2 220.5h0M201.3 204.3h0M212.6 190.8h0M197.0 206.7h0M193.8 210.7h0M195.4 211.9h0M190.7 227.5h0M188.6 232.2h0M203.0 202.2h0M199.6 203.9h0M193.1 216.8h0M189.7 217.1h0M194.5 210.2h0M212.3 190.9h0M190.3 217.0h0M205.3 204.5h0M197.7 209.8h0M203.4 196.7h0M191.7 218.0h0M196.8 209.9h0M191.4 225.6h0M208.2 194.0h0M191.6 211.3h0M193.3 214.6h0M206.7 191.7h0M211.2 191.6h0M210.1 192.1h0M198.2 201.5h0M213.6 189.1h0M194.9 220.4h0M190.6 214.0h0M191.7 218.7h0M199.8 207.5h0M198.1 205.5h0M191.9 212.9h0M198.9 206.6h0M192.4 221.1h0M195.1 214.5h0M196.5 208.0h0M195.7 216.8h0M195.6 208.1h0M188.9 231.3h0M198.1 206.7h0M208.6 193.3h0M189.2 224.8h0M213.5 188.8h0M191.8 226.3h0M196.3 206.2h0M195.8 210.0h0M191.2 224.8h0M196.3 210.1h0M189.8 223.0h0M200.6 202.7h0M208.0 195.8h0M193.6 211.5h0M188.8 227.8h0M200.3 205.1h0M198.6 208.6h0M197.9 209.2h0M199.0 210.0h0M211.5 192.3h0M202.8 194.2h0M188.3 230.5h0M194.9 218.2h0M207.5 193.6h0M191.8 222.6h0M200.1 200.1h0M188.8 228.8h0M215.4 187.8h0M211.0 192.5h0M210.5 192.9h0M198.0 208.0h0M217.3 182.7h0M202.2 201.4h0M197.5 207.8h0M227.2 181.5h0M190.4 229.3h0M213.7 185.4h0M195.9 204.9h0M206.2 196.7h0M201.3 198.4h0M190.2 226.7h0M201.9 202.4h0M193.3 217.0h0M194.0 220.0h0M200.6 201.3h0M206.5 195.6h0M191.7 216.3h0M210.6 192.4h0M200.9 202.2h0M214.4 187.8h0M211.9 192.6h0M205.4 196.6h0M223.5 182.4h0M202.9 200.7h0M193.5 221.8h0M205.5 196.5h0M221.8 183.9h0M200.1 201.2h0M190.7 226.3h0M205.4 191.3h0M199.7 202.3h0M204.9 197.1h0M205.7 205.1h0M210.4 188.8h0M193.9 206.7h0M198.6 205.7h0M188.3 219.2h0M211.6 191.1h0M232.2 178.0h0M222.2 184.0h0M215.1 187.6h0M188.7 233.9h0M215.6 186.5h0M190.1 214.5h0M205.4 195.7h0M198.0 212.0h0M216.9 185.9h0M224.7 183.1h0M196.4 208.1h0M210.3 189.6h0M202.5 198.9h0M197.9 207.0h0M192.6 224.3h0M192.1 215.2h0M193.7 210.2h0M190.6 222.1h0M204.1 196.1h0M197.1 210.3h0M211.2 185.7h0M215.4 186.9h0M205.4 193.9h0M196.4 209.8h0M209.9 191.4h0M211.9 193.0h0M205.9 194.5h0M195.0 205.7h0M197.2 208.2h0M190.0 216.9h0M204.0 199.8h0M210.6 190.5h0M212.1 188.2h0M197.3 209.4h0M195.8 207.4h0M192.2 212.1h0M188.1 227.3h0M205.9 190.4h0M231.1 179.7h0M198.2 202.7h0M192.7 213.7h0M203.6 198.3h0M196.1 209.5h0M202.0 201.1h0M198.5 201.7h0M198.9 199.4h0M219.5 185.7h0M197.1 203.2h0M210.2 193.7h0M194.0 205.7h0M194.1 220.3h0M195.8 212.0h0M192.3 211.5h0M196.5 210.0h0M188.9 226.6h0M206.0 193.3h0M190.0 228.7h0M190.4 225.8h0M189.5 226.9h0M194.3 220.6h0M193.9 219.4h0M199.7 202.9h0M194.4 213.0h0M195.8 205.8h0M198.1 202.5h0M201.7 201.5h0M213.2 191.4h0M204.8 198.9h0M210.8 190.0h0M195.1 204.5h0M196.2 202.5h0M195.5 205.8h0M199.1 201.0h0M196.8 202.6h0M188.5 218.4h0M213.6 191.1h0M226.5 183.8h0M198.2 201.7h0M215.8 185.5h0M233.5 176.7h0M196.7 208.8h0M193.6 217.8h0M190.0 227.8h0M198.5 201.9h0M215.5 185.5h0M190.1 216.1h0M201.7 196.6h0M203.7 199.0h0M214.2 187.6h0M202.2 199.9h0M188.3 226.3h0M194.6 217.4h0M215.9 185.1h0M201.2 198.5h0M209.4 195.8h0M189.3 232.6h0M202.8 196.4h0M197.1 210.2h0M218.2 187.5h0M202.2 201.3h0M197.8 202.7h0M189.4 216.5h0M193.4 211.6h0M195.2 216.8h0M188.1 219.7h0M196.2 208.8h0M208.4 192.4h0M206.9 191.8h0M197.3 209.6h0M217.1 185.7h0M191.3 221.4h0M219.1 187.3h0M196.1 205.9h0M199.3 207.0h0M202.0 199.3h0M225.4 180.5h0M194.2 217.1h0M205.0 198.1h0M214.9 186.9h0M205.2 189.6h0M192.8 213.2h0M205.6 195.5h0M203.5 195.1h0M225.3 182.2h0M204.5 198.7h0M208.6 190.2h0M209.6 190.4h0M189.7 222.1h0M203.0 200.4h0M209.5 189.5h0M219.1 185.6h0M192.1 222.5h0M204.4 197.5h0M199.5 199.2h0M194.9 215.0h0M218.2 181.1h0M189.0 220.1h0M213.6 189.6h0M195.9 206.6h0M189.5 219.1h0M190.3 222.0h0M191.4 214.2h0M201.5 199.1h0M192.7 212.7h0M193.1 216.7h0M194.0 207.9h0M189.7 219.0h0M197.8 212.1h0M188.8 231.5h0M196.9 202.5h0M203.8 194.6h0M195.6 215.5h0M190.1 224.0h0M193.5 218.0h0M199.7 200.3h0M204.1 196.5h0M204.8 195.3h0M190.8 219.3h0M189.7 224.3h0M196.9 210.1h0M225.7 183.9h0M221.3 182.4h0M199.9 207.0h0M196.7 210.3h0M218.5 185.6h0M197.0 204.7h0M203.8 196.6h0M205.2 194.2h0M223.9 181.7h0M211.1 192.4h0M190.3 224.4h0M215.3 193.4h0M197.0 212.2h0M230.7 180.1h0M207.7 194.1h0M191.6 218.5h0M190.9 214.2h0M203.3 204.1h0M201.9 200.9h0M196.1 208.6h0M205.1 194.2h0M218.0 185.0h0M209.3 203.5h0M188.5 223.5h0M190.5 217.0h0M198.1 207.1h0M189.6 224.0h0M192.5 218.0h0M216.4 184.5h0M191.1 214.2h0M234.3 178.0h0M222.4 184.6h0M196.0 208.4h0M206.3 191.9h0M193.8 220.7h0M198.7 204.2h0M205.0 198.4h0M192.7 215.0h0M192.1 217.4h0M210.4 192.6h0M190.8 230.4h0M214.0 186.2h0M207.6 196.5h0M201.6 200.0h0M199.8 204.2h0M189.8 229.8h0M193.8 213.9h0M192.8 216.1h0M198.4 203.7h0M195.7 207.0h0M218.9 183.3h0M188.3 227.3h0M200.2 202.7h0M195.7 203.1h0M197.0 204.5h0M187.6 222.7h0M199.7 205.3h0M194.7 206.0h0M203.0 203.9h0M206.5 196.4h0M216.7 186.0h0M198.0 201.5h0M193.1 209.1h0M208.3 191.6h0M188.9 230.2h0M195.3 207.5h0M192.2 219.0h0M198.7 206.8h0M193.8 208.0h0M201.7 195.8h0M202.8 197.1h0M191.0 222.6h0M206.3 193.7h0M200.1 203.6h0M197.3 203.7h0M192.5 216.9h0M188.2 220.8h0M196.9 210.7h0M194.0 210.8h0M205.2 190.5h0M196.7 202.0h0M197.0 209.5h0M190.4 224.3h0M221.5 181.1h0M203.1 198.7h0M204.1 209.8h0M190.1 221.0h0M200.0 202.0h0M214.4 186.4h0M225.5 180.7h0M189.4 229.3h0M210.6 192.9h0M195.3 203.0h0M200.7 201.5h0M225.2 180.8h0M230.9 175.8h0M193.3 222.1h0M196.6 212.4h0M191.7 213.6h0M194.4 208.2h0M197.6 205.6h0M215.6 187.2h0M203.6 201.3h0M195.2 211.7h0M199.7 206.4h0M196.7 205.5h0M197.5 207.7h0M201.3 205.7h0M200.7 197.1h0M189.0 232.6h0M195.3 214.5h0M197.2 213.6h0M200.6 199.5h0M188.6 228.6h0M193.7 217.4h0M205.5 191.9h0M194.1 211.2h0M213.8 185.4h0M199.7 201.7h0M208.3 194.9h0M202.3 201.8h0M189.9 224.3h0M203.6 197.0h0M193.4 207.1h0M201.4 203.8h0M190.3 215.3h0M191.6 225.2h0M194.8 216.4h0M191.8 213.2h0M195.5 213.8h0M188.7 226.8h0M190.3 216.1h0M193.0 219.4h0M203.7 196.1h0M189.8 223.6h0M193.7 221.6h0M213.8 189.7h0M240.5 175.4h0M220.1 186.1h0M216.1 185.3h0M195.7 217.3h0M203.4 199.2h0M195.9 209.7h0M198.8 202.3h0M191.9 214.8h0M195.7 212.9h0M188.8 228.8h0M196.4 217.5h0M193.3 209.5h0M194.2 218.7h0M195.5 213.3h0M196.1 209.4h0M210.1 193.3h0M203.5 203.1h0M192.4 219.2h0M213.3 189.3h0M202.9 200.3h0M198.6 202.9h0M191.6 220.9h0M195.0 217.5h0M212.6 189.0h0M209.1 191.7h0M201.3 198.9h0M220.2 184.6h0M221.3 184.3h0M212.0 187.5h0M194.8 217.8h0M191.6 210.6h0M201.2 200.6h0M217.6 185.3h0M189.3 216.5h0M191.7 216.9h0M203.8 195.9h0M194.4 209.3h0M193.8 220.2h0M198.4 203.7h0M193.8 208.2h0M223.0 184.1h0M217.3 186.0h0M192.6 215.7h0M189.1 223.5h0M210.0 191.4h0M188.4 231.5h0M209.4 188.8h0M187.9 223.8h0M228.1 179.2h0M196.0 209.6h0M203.8 194.6h0M204.5 199.5h0M188.5 232.2h0M193.6 217.4h0M197.1 213.8h0M193.1 212.2h0M199.1 202.6h0M204.2 196.7h0M191.3 214.5h0M190.5 223.7h0M190.3 231.5h0M199.3 199.5h0M206.4 195.4h0M192.4 225.3h0M207.4 192.7h0M192.9 207.2h0M191.0 216.9h0M219.1 184.1h0M194.3 213.7h0M193.2 216.4h0M215.1 187.5h0M217.5 192.0h0M193.1 217.1h0M220.8 183.0h0M212.1 191.9h0M215.1 188.5h0M201.1 198.7h0M200.3 201.0h0M207.3 193.8h0M204.8 198.0h0M201.9 202.8h0M190.4 225.0h0M192.2 213.4h0M188.1 227.2h0M193.2 209.0h0M207.6 192.9h0M202.8 194.4h0M206.0 196.7h0M201.8 197.6h0M225.4 182.0h0M210.8 190.1h0M193.6 213.5h0M207.5 192.0h0M200.9 200.8h0M194.3 216.1h0M208.5 192.7h0M202.1 204.2h0M209.3 198.0h0M204.9 193.1h0M206.6 198.1h0M190.9 219.3h0M200.3 204.7h0M229.6 180.3h0M199.3 203.2h0M193.4 206.6h0M197.2 210.9h0M201.5 205.9h0M199.5 203.8h0M188.3 221.9h0M195.4 215.2h0M196.6 203.9h0M191.6 215.3h0M198.4 201.7h0M218.0 186.3h0M194.6 206.5h0M192.1 217.4h0M206.9 190.9h0M197.6 199.9h0M193.0 214.4h0M192.1 223.4h0M193.9 207.0h0M201.1 203.2h0M199.0 202.3h0M198.9 200.6h0M197.9 202.3h0M214.9 187.9h0M199.0 203.4h0M190.4 217.9h0M209.2 193.4h0M204.4 194.9h0M203.6 197.7h0M195.8 208.0h0M207.6 195.9h0M192.2 211.6h0M195.6 214.8h0M197.6 207.8h0M198.0 202.9h0M210.6 190.6h0M190.2 214.2h0M192.4 223.9h0M192.8 210.1h0M197.8 204.6h0M194.6 216.8h0M205.4 197.2h0M200.4 203.4h0M188.8 228.2h0M203.6 202.1h0M194.3 213.4h0M204.5 195.0h0M194.1 223.5h0M195.7 211.2h0M202.3 192.4h0M213.9 188.3h0M196.4 217.5h0M210.8 188.7h0M215.2 186.4h0M197.7 206.8h0M193.0 223.8h0M192.2 208.8h0M200.0 198.9h0M198.1 200.6h0M200.2 200.5h0M188.1 225.6h0M207.7 193.7h0M191.5 220.3h0M201.9 196.7h0M190.0 230.1h0M205.1 192.1h0M223.9 183.5h0M193.9 222.7h0M194.7 219.3h0M196.2 213.9h0M210.1 189.3h0M200.9 201.5h0M191.6 220.4h0M188.8 229.6h0M219.7 185.2h0M194.5 215.7h0M201.4 203.1h0M198.6 201.6h0M205.6 194.8h0M210.1 186.8h0M193.4 211.6h0M187.3 225.7h0M213.7 187.7h0M189.4 220.6h0M195.0 204.8h0M195.3 204.4h0M199.4 202.3h0M200.2 200.1h0M212.1 186.7h0M203.9 195.1h0M193.2 213.6h0M191.7 216.0h0M189.9 221.2h0M196.0 206.4h0M225.2 183.8h0M225.2 182.9h0M203.8 195.8h0M197.8 213.0h0M205.9 196.9h0M189.2 224.1h0M202.7 198.0h0M214.0 186.8h0M213.4 186.1h0M214.1 189.6h0M192.0 222.9h0M196.5 205.1h0M191.7 218.4h0M218.9 184.3h0M220.1 184.2h0M216.8 183.6h0M203.8 199.0h0M209.6 186.2h0M198.7 211.2h0M199.9 202.1h0M189.2 225.0h0M211.5 189.8h0M196.3 216.8h0M193.0 225.0h0M191.6 219.5h0M199.3 204.4h0M215.6 186.9h0M193.2 208.8h0M189.4 225.8h0M199.4 201.6h0M198.3 202.0h0M211.9 189.4h0M203.0 199.1h0M193.0 218.7h0M195.0 219.5h0M189.8 229.1h0M200.0 198.2h0M226.0 181.9h0M217.7 185.8h0M202.9 201.9h0M205.7 195.1h0M209.2 193.1h0M205.7 193.8h0M200.7 205.1h0M191.7 215.4h0M189.7 228.0h0M191.1 222.1h0M227.3 180.0h0M218.0 183.7h0M194.0 212.6h0M202.3 200.4h0M205.7 196.0h0M198.8 204.3h0M207.8 193.1h0M199.8 206.2h0M204.0 194.3h0M199.2 204.7h0M210.7 189.2h0M191.5 222.2h0M192.0 221.8h0M206.8 191.0h0M210.8 189.3h0M192.2 216.0h0M213.0 190.3h0M209.9 194.3h0M195.3 218.0h0M197.8 201.3h0M224.1 182.2h0M200.4 206.9h0M212.9 190.0h0M206.8 192.5h0M207.5 194.5h0M213.6 187.3h0M212.8 186.9h0M198.1 205.1h0M196.8 209.1h0M209.2 192.6h0M218.8 183.1h0M212.3 190.1h0M201.6 201.1h0M191.8 213.1h0M214.3 189.5h0M219.9 183.0h0M196.0 203.1h0M188.7 220.7h0M197.1 211.3h0M202.5 207.7h0M200.7 202.2h0M191.1 220.0h0M206.9 190.9h0M196.8 214.2h0M201.8 203.2h0M212.3 191.3h0M189.8 226.0h0M225.1 181.2h0M188.4 222.2h0M208.3 191.2h0M192.1 216.0h0M189.2 217.9h0M189.1 232.4h0M208.0 191.0h0M214.3 191.9h0M202.3 196.5h0M197.7 204.8h0M188.8 216.9h0M194.0 208.4h0M213.8 190.8h0M225.4 182.8h0M204.3 199.3h0M195.6 208.1h0M191.4 226.3h0M196.4 208.5h0M188.9 228.7h0M199.8 200.5h0M203.8 198.8h0M201.3 200.2h0M216.4 187.1h0M194.9 219.1h0M195.1 210.8h0M201.3 195.9h0M190.7 217.8h0M189.9 217.0h0M192.4 221.7h0M189.9 219.3h0M189.5 225.4h0M212.8 189.6h0M189.9 226.7h0M193.3 218.3h0M194.2 206.8h0M195.0 220.2h0M201.3 196.4h0M205.1 209.9h0M232.5 178.5h0M203.3 196.8h0M210.2 191.9h0M196.8 203.0h0M227.1 182.0h0M200.2 202.1h0M191.3 228.1h0M218.8 185.8h0M198.5 205.0h0M193.7 222.4h0M207.1 191.5h0M203.8 197.5h0M194.0 218.1h0M205.4 198.7h0M198.3 202.4h0M192.0 221.7h0M198.9 206.8h0M220.0 182.5h0M195.3 209.5h0M195.8 212.8h0M210.7 191.3h0M194.0 209.1h0M199.4 207.7h0M225.0 179.8h0M207.3 192.3h0M196.9 211.8h0M194.8 211.3h0M193.9 208.0h0M202.8 199.7h0M189.3 229.1h0M195.2 213.2h0M198.0 204.6h0M199.6 206.2h0M202.6 202.1h0M196.4 213.8h0M195.9 212.7h0M193.8 220.7h0M193.0 220.5h0M199.9 200.5h0M227.0 178.9h0M206.0 191.7h0M189.2 228.2h0M208.6 190.6h0M222.9 182.9h0M193.4 213.4h0M200.4 205.5h0M213.4 190.2h0M217.4 185.4h0M189.0 220.0h0M229.6 177.2h0M197.5 210.8h0M201.9 201.9h0M208.8 194.7h0M206.3 193.9h0M210.1 192.3h0M192.7 208.7h0M192.0 210.2h0M193.3 222.3h0M188.5 226.7h0M199.0 206.9h0M198.5 205.7h0M196.1 213.2h0M205.1 193.5h0M221.7 178.8h0M209.1 191.3h0M188.1 222.2h0M191.2 218.4h0M212.8 189.0h0M201.4 199.0h0M189.0 221.9h0M218.2 184.0h0M204.6 195.6h0M193.8 206.4h0M210.7 193.4h0M194.6 214.0h0M224.9 181.9h0M209.5 191.1h0M203.2 197.7h0M196.1 213.1h0M204.4 197.5h0M211.9 186.9h0M202.1 193.5h0M196.2 210.5h0M209.9 200.3h0M191.2 225.2h0M196.3 207.5h0M192.9 222.5h0M191.3 222.5h0M201.4 199.8h0M208.1 197.6h0M203.2 199.2h0M202.6 195.6h0M212.9 189.2h0M190.8 214.1h0M190.0 223.6h0M189.9 221.7h0M196.8 207.4h0M196.9 205.0h0M198.1 208.9h0M190.5 223.1h0M216.6 188.3h0M190.8 223.6h0M213.0 188.3h0M210.8 190.2h0M203.9 194.9h0M189.3 220.1h0M209.1 190.9h0M198.3 207.1h0M211.9 189.5h0M226.9 179.5h0M206.0 192.2h0M202.1 200.9h0M223.6 184.8h0M197.8 206.5h0M209.0 197.1h0M189.5 224.9h0M200.3 205.6h0M209.3 194.8h0M204.2 197.2h0M207.0 195.2h0M208.7 191.9h0M215.4 185.4h0M193.9 216.5h0M189.7 229.4h0M195.6 212.8h0M189.4 220.3h0M218.9 184.0h0M195.5 214.6h0M194.9 207.4h0M190.4 224.7h0M216.1 186.2h0M195.9 217.8h0M203.2 196.9h0M215.4 189.3h0M207.9 194.7h0M189.4 230.2h0M196.3 207.9h0M193.0 212.2h0M196.9 204.0h0M208.8 193.4h0M197.8 209.0h0M210.3 190.9h0M197.4 205.9h0M188.1 230.4h0M188.8 227.9h0M219.9 187.0h0M189.3 224.9h0M204.6 196.9h0M219.5 186.6h0M188.6 231.3h0M191.6 218.3h0M197.1 205.5h0M209.4 190.5h0M204.5 195.3h0M202.2 199.3h0M189.4 219.1h0M203.5 195.0h0M207.8 192.0h0M194.4 213.9h0M227.7 178.7h0M189.1 231.8h0M207.5 194.2h0M206.5 194.2h0M192.8 214.5h0M205.2 196.2h0M193.7 221.4h0M199.3 205.5h0M204.5 197.5h0M193.4 220.8h0M196.8 212.9h0M189.8 219.5h0M207.9 194.0h0M194.3 218.4h0M206.6 194.8h0M222.2 185.0h0M189.3 230.6h0M215.1 188.0h0M214.3 189.8h0M191.1 222.7h0M204.8 193.6h0M191.8 229.0h0M197.6 202.3h0M194.6 217.6h0M192.9 216.3h0M197.0 203.1h0M200.7 204.5h0M191.5 221.1h0M188.9 227.1h0M199.9 198.9h0M209.6 190.6h0M212.8 186.5h0M192.2 211.0h0M208.8 191.1h0M193.1 216.0h0M188.8 227.3h0M213.2 189.7h0M192.7 215.1h0M203.9 197.7h0M204.6 200.2h0M195.4 214.3h0M206.3 196.5h0M194.1 217.1h0M196.7 214.6h0M190.0 229.7h0M200.2 203.5h0M190.3 221.2h0M194.8 219.7h0M192.1 218.2h0M203.1 201.5h0M197.4 212.6h0M199.3 204.0h0M194.1 214.4h0M201.3 198.1h0M200.7 200.5h0M192.7 216.2h0M198.8 201.4h0M211.3 189.8h0M203.3 197.3h0M203.7 198.2h0M201.7 200.2h0M207.7 195.2h0M208.9 192.3h0M192.4 225.8h0M215.2 187.2h0M196.2 205.2h0M195.3 213.8h0M199.8 206.2h0M201.2 204.6h0M200.2 206.5h0M204.6 197.4h0M200.6 203.4h0M198.2 207.3h0M195.5 206.1h0M233.3 183.8h0M193.4 217.6h0M192.8 220.6h0M207.2 192.9h0M208.9 194.5h0M205.1 195.4h0M208.8 194.0h0M205.2 193.0h0M196.6 212.5h0M218.0 185.9h0M187.8 224.6h0M198.8 206.1h0M193.8 215.5h0M201.4 197.5h0M192.3 221.4h0M216.0 186.5h0M207.3 194.5h0M194.7 214.5h0M209.8 189.0h0M206.4 194.9h0M199.1 203.5h0M192.7 211.7h0M226.3 182.5h0M206.6 192.0h0M194.3 216.8h0M196.6 210.8h0M226.4 182.0h0M190.7 217.3h0M192.3 219.1h0M189.4 229.3h0M189.3 230.2h0M201.1 202.8h0M200.8 203.0h0M188.9 225.0h0M203.0 202.7h0M200.6 203.8h0M190.1 225.2h0M203.5 197.9h0M208.0 189.8h0M198.8 206.6h0M226.6 179.7h0M206.2 193.7h0M195.4 206.2h0M233.5 178.4h0M206.7 193.8h0M194.4 208.4h0M200.4 201.7h0M190.3 216.3h0M190.2 215.0h0M202.0 197.0h0M207.3 194.5h0M192.7 212.1h0M212.2 189.2h0M194.6 212.2h0M209.4 192.0h0M198.0 201.6h0M204.1 198.1h0M207.6 191.1h0M238.5 176.4h0M198.0 209.8h0M195.5 208.7h0M191.9 215.4h0M189.5 216.8h0M214.8 187.4h0M195.3 217.4h0M195.5 206.8h0M192.2 218.1h0M188.7 217.8h0M206.7 195.3h0M200.9 199.5h0M205.2 192.8h0M201.0 199.8h0M197.4 212.9h0M207.4 194.7h0M195.9 215.4h0M208.3 194.1h0M199.1 206.1h0M225.3 181.1h0M205.4 194.0h0M203.2 202.8h0M190.9 221.0h0M195.6 217.2h0M198.7 202.7h0M219.2 185.0h0M198.0 211.2h0M205.8 203.5h0M203.3 195.1h0M215.9 186.0h0M209.9 191.4h0M198.8 202.4h0M190.2 215.1h0M201.0 199.9h0M191.1 214.4h0M203.2 196.2h0M209.7 190.9h0M209.4 191.1h0M188.4 228.0h0M195.5 212.1h0M193.9 213.2h0M202.8 199.0h0M210.5 191.3h0M191.2 214.2h0M204.4 197.4h0M205.7 198.9h0M200.9 200.9h0M188.7 228.4h0M190.7 213.8h0M202.5 204.5h0M191.3 211.9h0M188.8 226.4h0M193.8 215.2h0M195.1 209.9h0M189.1 224.0h0M188.5 224.3h0M200.8 205.0h0M188.4 221.9h0M201.4 203.4h0M217.5 183.1h0M192.4 211.4h0M205.2 193.4h0M196.7 214.7h0M192.2 223.5h0M200.0 197.3h0M207.3 193.9h0M188.4 226.7h0M189.8 223.9h0M213.6 187.8h0M196.3 205.7h0M207.4 193.4h0M193.4 217.8h0M191.1 227.2h0M194.7 212.5h0M192.5 212.6h0M204.0 197.4h0M206.2 192.9h0M199.9 203.2h0M194.8 213.4h0M199.0 205.1h0M191.2 217.3h0M190.4 227.0h0M210.8 192.1h0M204.0 197.3h0M208.7 191.2h0M197.7 205.3h0M196.8 203.8h0M193.6 223.0h0M201.5 203.5h0M188.8 233.5h0M208.3 194.3h0M211.7 190.8h0M201.8 202.0h0M189.0 230.1h0M196.9 207.5h0M205.6 194.7h0M197.9 202.0h0M189.1 219.2h0M195.3 219.1h0M197.6 205.8h0M196.7 205.5h0M217.7 183.8h0M188.3 218.7h0M200.1 201.7h0M193.6 209.6h0M216.7 185.8h0M192.0 221.1h0M202.1 199.8h0M207.6 192.6h0M213.7 188.3h0M193.1 220.7h0M205.1 195.1h0M205.0 197.2h0M193.3 220.2h0M192.6 222.2h0M215.0 188.6h0M214.9 186.5h0M192.4 221.3h0M193.4 207.4h0M200.2 200.1h0M189.0 221.2h0M197.7 202.8h0M209.5 191.3h0M202.3 198.0h0M189.9 216.2h0M205.5 195.5h0M212.8 187.7h0M202.1 203.0h0M208.8 195.6h0M219.2 184.0h0M193.6 208.3h0M194.5 210.4h0M209.3 187.1h0M193.8 220.8h0M190.1 216.7h0M208.2 188.4h0M201.0 200.2h0M188.4 234.2h0M188.6 226.4h0M229.2 180.9h0M191.5 223.5h0M192.0 215.5h0M188.2 224.4h0M208.4 195.3h0M215.5 187.0h0M197.2 203.8h0M193.8 207.9h0M194.3 219.6h0M195.9 210.6h0M219.6 185.1h0M210.5 191.4h0M193.8 207.8h0M190.8 212.8h0M206.6 195.8h0M197.5 211.8h0M193.9 206.9h0M194.5 212.2h0M190.7 223.9h0M206.6 194.8h0M191.4 225.5h0M195.1 217.6h0M195.3 206.0h0M203.8 194.3h0M193.9 214.4h0M202.6 201.3h0M218.3 183.4h0M204.1 194.7h0M200.9 203.0h0M190.2 221.0h0M189.1 228.4h0M216.5 187.6h0M209.6 190.7h0M210.6 186.9h0M204.8 200.7h0M201.8 203.4h0M227.0 179.2h0M191.6 217.8h0M229.2 178.8h0M201.9 201.3h0M188.0 234.2h0M209.6 191.3h0M193.2 222.1h0M191.9 218.1h0M224.6 179.2h0M188.4 231.9h0M203.0 195.1h0M192.5 217.3h0M195.6 208.3h0M200.2 204.2h0M208.7 193.2h0M190.1 228.5h0M202.1 196.6h0M198.0 204.2h0M202.4 198.4h0M198.6 203.0h0M193.6 221.5h0M224.8 181.4h0M213.4 186.8h0M188.3 228.0h0M203.5 199.8h0M204.3 209.9h0M203.5 202.6h0M196.9 210.5h0M188.6 226.1h0M216.9 185.4h0M209.3 193.1h0M198.9 209.1h0M201.9 200.0h0M188.1 221.2h0M202.7 200.3h0M191.6 213.2h0M193.4 220.4h0M220.3 186.2h0M204.6 196.8h0M192.5 215.2h0M194.1 221.6h0M201.4 201.0h0M189.7 219.9h0M202.6 198.2h0M193.7 219.0h0M220.8 184.7h0M227.1 178.3h0M204.9 195.4h0M207.7 200.6h0M193.0 214.0h0M208.8 189.2h0M190.2 228.9h0M192.6 216.7h0M211.9 190.7h0M211.1 194.6h0M214.2 187.1h0M202.9 202.0h0M219.7 185.9h0M197.9 210.4h0M197.8 208.9h0M215.3 188.3h0M209.2 192.5h0M189.9 229.5h0M197.1 208.3h0M223.3 179.8h0M193.0 218.5h0M215.7 186.4h0M198.0 207.0h0M200.0 202.9h0M192.6 209.7h0M202.4 198.0h0M214.3 188.7h0M220.6 184.2h0M207.0 193.7h0M195.6 214.3h0M211.0 195.9h0M191.6 209.7h0M189.1 230.9h0M191.6 212.9h0M211.8 189.9h0M193.7 215.8h0M215.1 189.1h0M206.3 195.2h0M207.3 191.7h0M193.7 213.7h0M187.9 227.0h0M194.0 217.2h0M195.1 214.1h0M211.0 198.0h0M199.7 206.9h0M195.5 213.0h0M192.4 209.0h0M192.5 223.8h0M192.9 216.5h0M211.3 193.6h0M211.8 187.7h0M191.0 224.9h0M206.4 193.3h0M229.5 181.6h0M209.4 193.0h0M203.3 202.2h0M190.5 214.9h0M207.8 194.1h0M196.5 208.5h0M196.0 209.5h0M203.7 196.9h0M204.5 198.7h0M205.9 194.2h0M236.2 176.9h0M205.7 196.2h0M199.2 196.0h0M202.5 197.2h0M198.5 202.7h0M202.5 203.7h0M205.5 195.0h0M203.8 191.2h0M206.9 192.7h0M211.3 191.2h0M190.4 215.5h0M189.3 217.3h0M192.4 219.0h0M195.4 211.7h0M193.9 207.8h0M214.3 187.2h0M200.8 207.0h0M199.1 208.5h0M191.0 226.3h0M197.0 209.3h0M209.9 193.2h0M200.5 200.0h0M201.5 204.9h0M192.0 224.9h0M198.5 202.7h0M193.8 222.2h0M189.9 222.8h0M202.0 201.3h0M189.6 216.6h0M191.8 214.6h0M196.9 213.5h0M211.1 190.4h0M190.3 221.2h0M201.8 199.5h0M191.7 221.5h0M193.8 206.6h0M195.0 217.9h0M194.3 217.0h0M210.6 188.5h0M200.2 203.5h0M196.9 203.4h0M199.9 198.6h0M232.2 176.7h0M195.2 208.1h0M189.9 216.3h0M224.0 184.9h0M189.4 231.3h0M193.6 214.1h0M198.6 205.2h0M197.2 211.7h0M204.5 197.0h0M209.0 191.2h0M203.9 194.4h0M209.2 191.5h0M205.3 196.3h0M192.0 226.3h0M196.4 205.7h0M203.3 198.1h0M198.2 205.4h0M203.5 197.5h0M191.5 212.3h0M189.3 216.3h0M201.1 199.2h0M199.2 199.4h0M201.1 197.7h0M199.6 204.2h0M199.8 199.6h0M196.7 210.1h0M196.5 210.2h0M194.8 206.6h0M206.8 194.1h0M202.0 197.3h0M199.9 206.4h0M206.9 194.1h0M206.4 193.6h0M196.6 206.5h0M226.5 181.0h0M199.8 205.9h0M212.4 189.4h0M196.9 206.1h0M199.5 201.4h0M198.1 208.7h0M206.4 194.5h0M204.0 193.9h0M190.9 215.1h0M208.3 193.0h0M201.1 199.4h0M198.4 202.4h0M190.6 218.0h0M188.6 219.7h0M209.0 188.4h0M208.1 195.0h0M201.9 198.4h0M196.2 214.1h0M189.4 223.5h0M210.7 190.3h0M187.9 222.9h0M214.7 186.4h0M192.6 212.1h0M189.4 228.8h0M190.7 219.2h0M199.2 204.7h0M197.9 212.1h0M208.3 192.9h0M204.8 196.0h0M213.2 191.1h0M204.2 195.9h0M195.2 210.0h0M201.8 197.3h0M195.6 204.4h0M202.9 196.7h0M206.6 197.8h0M206.8 192.3h0M187.7 224.7h0M202.1 207.0h0M216.5 188.3h0M207.7 193.9h0M197.9 212.3h0M199.5 205.2h0M195.0 219.8h0M194.7 206.2h0M229.4 181.2h0M204.1 197.8h0M195.1 207.3h0M206.9 195.3h0M197.8 210.8h0M195.1 206.4h0M201.1 197.5h0M203.6 201.9h0M193.4 208.3h0M206.4 191.3h0M237.7 175.6h0M198.8 206.2h0M192.6 214.9h0M189.4 227.5h0M220.1 182.4h0M202.9 198.9h0M198.5 203.7h0M217.0 183.9h0M204.3 196.7h0M202.9 201.5h0M211.6 188.9h0M189.4 230.0h0M190.1 224.6h0M188.2 234.2h0M213.6 188.4h0M205.8 194.7h0M219.0 184.6h0M192.0 211.0h0M188.6 224.7h0M194.8 217.5h0M204.9 194.9h0M196.0 205.2h0M208.3 193.2h0M219.0 184.8h0M188.6 230.9h0M205.7 194.1h0M201.2 197.2h0M195.1 211.3h0M214.2 187.1h0M205.1 195.3h0M211.5 185.6h0M192.5 209.6h0M197.3 203.0h0M192.1 216.5h0M192.7 209.2h0M195.1 213.2h0M205.1 194.3h0M196.7 206.2h0M194.9 212.5h0M195.3 209.9h0M206.7 190.7h0M213.8 185.5h0M212.4 187.0h0M219.8 185.6h0M190.9 224.6h0M191.5 220.1h0M193.9 208.3h0M190.9 214.7h0M196.0 206.4h0M226.5 180.9h0M224.2 182.5h0M197.5 210.9h0M192.4 214.4h0M190.0 229.5h0M199.3 205.3h0M204.0 198.2h0M190.1 228.8h0M191.8 217.1h0M219.2 185.4h0M190.9 215.4h0M194.8 214.8h0M199.8 196.9h0M223.7 183.9h0M195.6 209.2h0M197.5 210.9h0M193.8 222.8h0M230.7 177.7h0M203.0 201.1h0M203.8 197.0h0M197.5 212.2h0M192.1 218.2h0M189.9 230.1h0M196.5 214.9h0M195.0 209.3h0M204.9 197.8h0M192.7 220.6h0M213.6 188.4h0M198.0 206.9h0M194.8 211.5h0M194.2 215.9h0M195.4 216.2h0M208.1 190.9h0M188.6 232.8h0M191.6 219.0h0M214.6 188.7h0M201.6 199.6h0M192.3 216.0h0M190.4 218.9h0M207.2 194.0h0M193.1 224.6h0M199.7 204.3h0M205.8 195.4h0M199.7 201.2h0M190.7 218.0h0M201.8 205.1h0M189.4 219.6h0M214.2 189.8h0M191.9 213.4h0M192.6 217.9h0M194.7 207.5h0M217.2 184.8h0M202.2 198.6h0M198.0 201.8h0M206.5 196.5h0M191.8 226.3h0M196.1 204.6h0M195.3 209.7h0M192.6 215.3h0M188.6 229.3h0M192.2 225.5h0M194.6 216.0h0M188.1 225.5h0M198.9 204.4h0M190.3 230.0h0M220.3 183.0h0M212.5 187.1h0M196.5 212.2h0M240.8 177.3h0M200.4 200.9h0M200.5 207.2h0M224.4 186.6h0M217.5 186.0h0M196.8 213.6h0M193.1 209.5h0M209.5 202.8h0M190.6 215.8h0M189.9 228.0h0M191.3 218.8h0M193.2 215.0h0M233.4 176.6h0M188.7 230.9h0M228.3 180.2h0M197.7 210.5h0M200.1 205.0h0M191.0 214.6h0M217.0 187.6h0M206.5 197.8h0M188.6 231.4h0M191.4 212.0h0M190.2 218.3h0M213.4 189.9h0M194.1 219.6h0M190.8 223.2h0M189.8 221.3h0M205.7 197.1h0M205.0 195.3h0M203.3 196.7h0M226.4 181.0h0M202.2 194.3h0M209.6 192.7h0M189.0 231.2h0M232.6 179.6h0M198.1 208.0h0M198.5 201.8h0M194.5 207.4h0M201.4 203.1h0M188.5 233.4h0M189.5 221.7h0M212.2 187.4h0M214.5 187.8h0M202.9 197.7h0M198.4 201.7h0M192.9 216.7h0M194.6 209.7h0M210.7 190.1h0M192.7 215.3h0M207.0 192.1h0M191.6 216.5h0M199.2 201.7h0M200.6 203.7h0M196.2 213.9h0M202.2 199.7h0M194.2 216.5h0M206.1 195.2h0M206.3 193.4h0M189.5 215.6h0M188.2 229.7h0M232.0 178.2h0M190.8 225.7h0M202.0 194.6h0M224.4 182.5h0M211.9 190.7h0M215.8 186.5h0M192.0 225.5h0M200.8 207.8h0M208.3 193.5h0M188.0 227.5h0M216.0 186.3h0M216.5 182.6h0M195.8 210.6h0M212.3 187.3h0M188.3 233.2h0M192.8 213.0h0M196.9 209.5h0M204.3 198.7h0M197.3 205.6h0M199.9 201.2h0M193.4 221.8h0M188.6 227.2h0M188.6 228.3h0M196.6 212.1h0M203.1 199.4h0M209.6 192.6h0M201.4 201.1h0M210.4 189.0h0M217.7 184.8h0M218.3 185.4h0M214.5 189.2h0M222.0 181.2h0M203.6 195.6h0M193.4 222.7h0M189.8 226.1h0M191.8 214.1h0M219.7 188.6h0M192.9 210.1h0M189.4 223.5h0M212.8 188.0h0M190.8 223.8h0M193.0 215.9h0M188.5 230.3h0M207.6 190.3h0M218.3 185.3h0M206.5 193.3h0M211.0 190.4h0M189.3 216.4h0M203.0 199.2h0M193.1 213.6h0M209.7 188.8h0M195.1 212.3h0M197.3 213.7h0M237.6 176.1h0M194.1 210.7h0M216.8 186.9h0M190.9 214.0h0M193.4 209.5h0M217.0 189.1h0M195.4 209.1h0M206.6 195.7h0M219.8 184.7h0M217.3 184.1h0M211.6 189.8h0M189.1 230.3h0M190.3 216.0h0M202.9 194.9h0M204.6 191.3h0M191.5 212.6h0M205.7 195.2h0M198.2 200.1h0M202.7 198.5h0M208.9 191.4h0M198.9 204.7h0M195.2 215.5h0M199.0 210.2h0M199.3 200.3h0M206.3 194.5h0M213.4 186.9h0M193.4 208.8h0M217.5 183.8h0M189.6 221.9h0M202.3 193.1h0M190.7 226.2h0M193.3 210.9h0M198.3 202.3h0M196.4 211.7h0M211.0 190.2h0M197.8 210.1h0M208.8 193.4h0M201.8 195.7h0M207.6 193.5h0M208.6 193.4h0M210.7 187.9h0M202.4 195.2h0M197.4 211.7h0M211.8 190.9h0M204.3 196.5h0M198.5 209.3h0M210.9 192.7h0M200.2 207.0h0M187.9 229.6h0M203.7 198.9h0M207.3 192.3h0M201.7 203.2h0M196.3 205.8h0M190.7 222.4h0M196.1 205.2h0M200.0 198.0h0M193.0 217.6h0M194.2 210.4h0M222.3 184.3h0M225.3 180.2h0M189.1 228.4h0M216.8 186.3h0M202.5 205.3h0M191.2 219.1h0M221.5 190.8h0M213.4 187.5h0M203.3 198.5h0M188.7 230.6h0M229.0 180.1h0M199.9 206.3h0M189.0 227.8h0M211.3 193.4h0M190.4 229.7h0M197.2 213.0h0M196.5 202.5h0M210.4 189.4h0M196.9 204.9h0M213.3 187.5h0M188.3 221.8h0M196.1 204.7h0M199.1 204.3h0M197.0 208.6h0M194.1 209.3h0M199.0 207.3h0M198.5 208.7h0M189.6 227.7h0M188.2 219.7h0M207.2 194.1h0M211.8 190.7h0M215.1 186.1h0M216.1 183.2h0M188.6 223.6h0M198.8 203.3h0M204.6 196.4h0M191.0 225.4h0M192.4 221.9h0M205.8 193.4h0M217.1 186.8h0M203.4 195.3h0M212.7 189.5h0M208.0 196.2h0M193.8 208.7h0M230.4 178.2h0M191.5 215.5h0M189.3 229.7h0M208.2 195.0h0M214.4 187.7h0M197.7 204.5h0M195.9 210.9h0M203.7 196.0h0M202.8 197.5h0M207.2 192.4h0M199.7 204.1h0M195.0 207.1h0M199.8 204.2h0M198.4 202.7h0M211.6 191.8h0M191.3 224.7h0M192.0 219.1h0M195.0 208.7h0M206.4 191.8h0M197.8 203.8h0M196.8 211.7h0M220.2 184.8h0M199.1 205.1h0M195.4 215.8h0M217.3 186.7h0M214.7 186.5h0M199.5 206.6h0M201.8 204.0h0M214.2 187.4h0M189.1 221.3h0M188.3 223.7h0M237.7 175.8h0M201.1 205.0h0M190.4 229.2h0M217.4 185.4h0M192.0 214.1h0M189.9 218.7h0M200.5 205.4h0M214.4 187.0h0M199.3 198.5h0M213.8 190.2h0M203.4 200.9h0M215.6 185.0h0M194.3 207.7h0M196.8 210.7h0M198.2 210.7h0M191.4 226.4h0M193.3 221.7h0M193.2 209.1h0M194.2 214.3h0M193.3 212.3h0M190.6 219.4h0M191.0 225.7h0M206.9 200.8h0M194.6 212.1h0M194.7 213.4h0M222.5 181.1h0M198.8 200.8h0M190.1 215.3h0M202.8 203.4h0M217.6 184.6h0M190.2 223.0h0M188.6 226.7h0M210.3 191.1h0M189.0 229.9h0M207.1 196.2h0M199.6 204.0h0M199.3 200.7h0M199.7 207.4h0M199.2 199.3h0M211.7 189.3h0M197.5 206.0h0M213.3 193.6h0M195.8 205.2h0M189.7 220.3h0M206.7 193.4h0M202.9 198.9h0M214.8 186.8h0M200.5 208.4h0M201.9 201.6h0M193.9 214.4h0M197.2 208.2h0M202.5 200.1h0M201.7 199.6h0M208.9 192.0h0M198.7 204.3h0M240.3 175.6h0M201.5 198.7h0M200.9 201.0h0M191.2 212.0h0M192.8 218.5h0M199.0 208.3h0M192.4 218.2h0M197.4 211.0h0M219.2 182.4h0M203.0 196.5h0M189.7 217.8h0M205.4 195.6h0M206.6 194.7h0M188.7 233.2h0M188.7 232.7h0M197.7 206.9h0M194.0 211.7h0M209.9 188.5h0M189.7 226.9h0M189.3 228.9h0M212.9 187.4h0M194.6 218.7h0M205.3 194.9h0M198.5 209.2h0M198.8 199.9h0M210.1 190.7h0M198.5 202.1h0M219.3 187.8h0M194.0 208.8h0M189.7 218.5h0M209.5 193.5h0M188.6 226.5h0M230.8 178.4h0M189.7 224.9h0M216.5 188.3h0M206.7 191.4h0M204.6 195.1h0M235.3 177.8h0M206.7 195.1h0M188.8 228.0h0M210.8 189.9h0M193.5 213.9h0M204.0 192.9h0M211.1 189.3h0M209.2 191.8h0M209.9 191.1h0M209.6 191.8h0M221.4 182.4h0M212.5 184.8h0M205.3 192.4h0M213.6 186.2h0M199.3 205.6h0M213.6 189.9h0M215.2 187.1h0M208.9 191.9h0M200.3 207.5h0M197.1 200.6h0M227.0 181.7h0M196.5 207.5h0M207.1 194.6h0M201.5 206.0h0M211.4 191.6h0M203.3 198.4h0M189.0 229.8h0M191.5 211.6h0M189.1 226.7h0M208.9 192.5h0M210.3 192.0h0M211.5 189.2h0M195.5 213.7h0M192.6 208.2h0M199.7 206.0h0M210.8 187.5h0M208.3 190.1h0M204.7 190.7h0M204.5 196.7h0M207.0 196.7h0M199.3 205.7h0M199.0 201.8h0M191.2 224.4h0M201.2 202.4h0M192.8 212.3h0M210.0 188.3h0M221.2 180.8h0M209.4 193.6h0M202.0 201.7h0M195.8 217.0h0M202.7 194.5h0M202.7 203.3h0M223.3 182.2h0M212.9 187.4h0M188.4 221.8h0M209.2 194.5h0M202.7 202.1h0M223.7 180.6h0M189.8 224.4h0M201.0 204.7h0M194.4 218.8h0M193.0 211.0h0M195.9 207.1h0M212.7 186.1h0M190.3 221.5h0M227.5 180.6h0M190.8 216.7h0M194.2 209.7h0M209.1 202.6h0M193.4 211.2h0M196.9 215.8h0M234.6 178.6h0M193.1 222.0h0M190.7 225.9h0M197.0 203.0h0M189.4 216.8h0M199.2 206.1h0M199.4 208.7h0M188.0 227.1h0M200.2 204.7h0M194.2 206.5h0M208.3 191.4h0M188.3 227.4h0M199.8 205.6h0M203.1 195.5h0M204.6 196.1h0M213.3 186.4h0M194.4 211.0h0M195.8 209.0h0M205.3 194.0h0M199.7 205.8h0M197.7 203.2h0M198.7 201.6h0M206.3 192.3h0M194.8 213.2h0M215.1 185.7h0M198.5 200.3h0M198.2 203.0h0M223.1 180.5h0M209.6 191.4h0M203.9 197.8h0M195.3 208.9h0M232.0 178.4h0M203.6 197.3h0M195.6 213.9h0M206.9 192.8h0M193.3 216.4h0M191.9 217.0h0M188.1 225.8h0M194.3 221.3h0M198.9 202.3h0M196.1 209.6h0M189.4 232.2h0M203.4 194.6h0M207.9 192.5h0M197.3 207.4h0M209.4 193.2h0M189.1 231.9h0M205.4 192.5h0M219.5 184.4h0M217.3 188.9h0M214.8 186.5h0M207.9 193.5h0M193.5 217.2h0M216.3 187.3h0M228.9 181.5h0M195.0 219.2h0M218.8 184.2h0M196.5 207.0h0M194.9 211.4h0M198.9 203.8h0M197.9 209.4h0M224.5 181.6h0M192.4 215.1h0M194.5 217.4h0M212.3 189.7h0M198.3 207.2h0M215.9 187.4h0M204.2 195.4h0M193.3 210.5h0M221.6 182.8h0M212.5 189.4h0M200.0 204.2h0M196.8 208.2h0M206.9 195.2h0M188.2 232.1h0M191.2 222.7h0M192.7 217.3h0M223.0 182.5h0M216.1 183.4h0M193.6 217.1h0M196.0 215.1h0M189.7 224.7h0M189.2 218.3h0M205.4 196.4h0M194.9 206.7h0M228.4 178.9h0M211.0 189.4h0M195.0 220.4h0M193.5 208.7h0M198.8 206.3h0M205.9 192.9h0M195.7 214.5h0M204.2 201.0h0M202.1 203.4h0M237.2 174.2h0M196.7 211.7h0M194.2 209.5h0M197.0 206.9h0M203.4 198.7h0M195.1 208.6h0M222.4 182.8h0M194.9 206.7h0M191.3 225.6h0M196.5 206.1h0M190.4 220.0h0M187.9 228.7h0M195.8 206.2h0M189.3 223.0h0M187.8 230.2h0M220.3 185.9h0M203.6 198.3h0M209.5 189.6h0M188.9 222.9h0M203.1 195.3h0M197.1 201.7h0M216.0 187.8h0M205.8 191.9h0M190.3 220.6h0M193.2 222.1h0M211.5 187.4h0M216.9 184.5h0M193.8 207.1h0M208.9 195.3h0M216.3 185.9h0M215.3 189.5h0M209.8 203.0h0M195.7 206.0h0M218.5 188.2h0M189.3 223.2h0M206.4 196.2h0M193.8 212.4h0M189.0 222.5h0M215.7 187.3h0M197.1 205.4h0M188.4 232.7h0M203.4 198.3h0M215.6 187.7h0M224.3 181.4h0M190.6 226.1h0M205.6 194.6h0M200.0 202.4h0M194.6 211.5h0M191.2 218.4h0M204.7 195.8h0M216.5 186.5h0M193.8 218.9h0M191.2 214.3h0M208.6 191.0h0M196.9 210.1h0M195.7 212.0h0M193.1 212.9h0M197.0 210.5h0M216.5 185.5h0M221.2 182.4h0M199.2 202.9h0M213.7 187.8h0M190.4 222.2h0M192.3 215.6h0M190.3 229.6h0M198.6 204.6h0M198.5 209.6h0M189.3 226.4h0M194.0 211.0h0M212.5 189.4h0M191.1 219.4h0M192.7 212.4h0M200.1 206.5h0M199.1 206.5h0M190.1 228.0h0M211.4 187.6h0M213.0 188.4h0M207.5 191.4h0M227.4 179.7h0M195.7 206.7h0M210.3 191.5h0M227.1 182.2h0M222.7 184.5h0M211.4 191.5h0M256.5 171.2h0M273.2 171.0h0M281.5 174.7h0M235.1 186.0h0" stroke="#ff7f0e" stroke-width="1.25" stroke-linecap="round" fill="none"/>
<line x1="201.7" x2="201.7" y1="168.4" y2="237" stroke="#000" stroke-width="0.7" stroke-dasharray="1.3 0.9"/>
<line x1="181.7" x2="286" y1="201.4" y2="201.4" stroke="#000" stroke-width="0.7" stroke-dasharray="1.3 0.9"/>
</g>
<rect x="181.7" y="168.4" width="104.3" height="68.6" fill="none" stroke="#000" stroke-width="0.45"/>
<text x="183.7" y="243.8" font-size="5.7" text-anchor="middle">0.0</text>
<text x="201.7" y="243.8" font-size="5.7" text-anchor="middle">0.1</text>
<text x="219.7" y="243.8" font-size="5.7" text-anchor="middle">0.2</text>
<text x="237.7" y="243.8" font-size="5.7" text-anchor="middle">0.3</text>
<text x="255.7" y="243.8" font-size="5.7" text-anchor="middle">0.4</text>
<text x="273.7" y="243.8" font-size="5.7" text-anchor="middle">0.5</text>
<text transform="translate(179.1 225.8) scale(0.84 1)" font-size="6.2" text-anchor="end">10<tspan dy="-2.4" font-size="4.3">−6</tspan></text>
<text transform="translate(179.1 198.7) scale(0.84 1)" font-size="6.2" text-anchor="end">10<tspan dy="-2.4" font-size="4.3">−4</tspan></text>
<text transform="translate(179.1 171.5) scale(0.84 1)" font-size="6.2" text-anchor="end">10<tspan dy="-2.4" font-size="4.3">−2</tspan></text>
<path d="M183.7 237v1.8M201.7 237v1.8M219.7 237v1.8M237.7 237v1.8M255.7 237v1.8M273.7 237v1.8M181.7 223.6h-1.8M181.7 196.5h-1.8M181.7 169.3h-1.8" stroke="#000" stroke-width="0.45" fill="none"/>
<text x="233.85" y="166" font-size="7" text-anchor="middle">py</text>
<text x="234.25" y="250.6" font-size="5.5" text-anchor="middle">max(γ − 1)</text>
<clipPath id="s3"><rect x="307.6" y="168.4" width="104.3" height="68.6"/></clipPath>
<g clip-path="url(#s3)">
<path d="M342.0 189.2h0M340.8 188.9h0M337.1 189.1h0M316.1 212.0h0M315.5 224.3h0M348.1 184.5h0M330.9 199.1h0M314.3 233.1h0M342.6 183.7h0M353.6 177.4h0M318.9 211.8h0M337.5 189.2h0M316.8 224.2h0M324.8 205.9h0M337.9 189.3h0M321.4 205.4h0M324.4 200.3h0M318.5 222.3h0M337.2 188.8h0M324.4 201.6h0M320.1 214.7h0M335.4 190.6h0M351.9 178.3h0M327.5 201.4h0M332.9 191.5h0M358.1 178.8h0M314.2 228.5h0M331.2 200.9h0M350.3 181.3h0M316.3 221.6h0M315.3 214.0h0M327.4 200.3h0M340.0 198.7h0M328.4 201.4h0M327.9 201.0h0M313.5 226.2h0M334.8 193.1h0M323.5 212.1h0M315.8 224.7h0M348.9 182.1h0M333.1 197.5h0M323.6 203.7h0M336.6 195.2h0M326.7 204.8h0M315.7 220.8h0M330.8 199.8h0M335.1 192.8h0M334.1 192.1h0M326.1 198.3h0M346.3 185.8h0M346.8 182.5h0M340.7 186.4h0M319.3 206.4h0M318.3 212.6h0M327.3 201.9h0M332.8 197.7h0M315.6 218.4h0M329.6 202.4h0M323.7 205.0h0M314.6 233.5h0M324.2 206.6h0M323.6 207.4h0M352.1 186.3h0M313.6 225.9h0M345.2 184.1h0M342.6 184.0h0M331.2 200.8h0M317.0 217.1h0M338.4 192.1h0M319.0 219.5h0M321.2 210.8h0M330.7 195.4h0M323.6 205.8h0M323.2 203.1h0M320.4 211.4h0M313.5 227.6h0M323.3 209.6h0M338.3 188.9h0M337.4 187.4h0M315.9 224.1h0M329.5 202.7h0M319.1 207.4h0M324.1 207.7h0M355.6 178.9h0M339.2 191.7h0M328.0 203.9h0M326.6 202.8h0M344.8 185.8h0M320.5 207.0h0M335.9 190.7h0M334.7 193.7h0M336.0 194.3h0M324.4 204.5h0M333.9 196.3h0M339.5 189.3h0M322.3 212.8h0M336.2 192.5h0M326.3 204.2h0M327.9 202.1h0M324.0 203.5h0M324.4 209.4h0M336.1 193.2h0M323.4 207.7h0M318.3 218.0h0M338.2 192.2h0M321.0 205.7h0M328.7 199.4h0M353.9 180.0h0M331.7 197.4h0M326.1 201.2h0M322.2 213.5h0M332.9 193.9h0M349.6 182.8h0M332.6 193.8h0M335.5 191.3h0M322.1 211.4h0M319.0 210.1h0M319.8 207.6h0M325.3 203.6h0M344.0 188.6h0M324.9 204.1h0M320.0 218.9h0M325.0 199.5h0M318.6 213.3h0M333.5 199.4h0M322.7 210.6h0M347.9 182.5h0M324.7 205.9h0M328.6 198.9h0M330.4 201.1h0M322.9 206.0h0M352.1 179.4h0M314.4 227.2h0M337.5 195.1h0M316.0 211.7h0M316.0 225.8h0M320.8 218.9h0M335.6 192.9h0M343.2 184.9h0M334.9 190.2h0M317.7 211.3h0M324.7 201.9h0M313.8 220.6h0M324.9 207.1h0M322.7 215.3h0M314.1 228.3h0M319.3 211.7h0M345.6 184.8h0M328.9 203.2h0M322.4 214.2h0M317.8 222.3h0M345.4 189.9h0M314.0 222.8h0M316.1 228.0h0M319.2 222.9h0M333.1 190.5h0M346.4 184.7h0M315.4 222.8h0M331.5 197.9h0M334.3 198.9h0M325.2 200.3h0M314.9 232.8h0M333.2 195.3h0M326.5 207.8h0M345.6 184.0h0M360.5 176.1h0M328.6 196.0h0M315.2 221.3h0M319.8 210.3h0M331.2 198.3h0M343.4 190.2h0M321.6 204.6h0M321.5 208.5h0M330.3 199.0h0M340.5 188.5h0M319.4 217.5h0M329.1 198.5h0M330.6 198.6h0M323.6 202.4h0M320.6 207.9h0M347.7 183.2h0M338.4 190.0h0M316.9 219.1h0M314.1 233.8h0M320.5 214.3h0M321.4 204.3h0M319.3 219.5h0M321.5 209.9h0M335.3 197.6h0M335.6 193.7h0M338.6 190.1h0M338.3 190.1h0M324.0 212.2h0M326.9 201.2h0M337.8 195.9h0M330.2 198.4h0M328.0 198.5h0M338.7 190.8h0M346.9 182.7h0M343.7 187.4h0M321.7 214.1h0M316.0 221.3h0M322.6 213.4h0M336.0 189.0h0M321.6 211.2h0M335.3 193.2h0M330.5 200.5h0M358.0 178.2h0M319.0 222.4h0M339.3 189.9h0M314.3 226.8h0M330.0 196.8h0M329.2 203.1h0M320.3 215.0h0M318.4 213.0h0M323.8 208.3h0M325.3 203.2h0M318.6 219.6h0M324.0 205.1h0M315.7 223.5h0M326.7 203.4h0M329.3 203.2h0M324.8 208.9h0M330.1 206.6h0M328.8 200.4h0M327.2 202.3h0M316.3 217.3h0M319.4 216.1h0M321.7 214.4h0M365.1 175.6h0M329.0 205.1h0M335.6 196.0h0M317.8 216.5h0M326.6 201.9h0M322.9 204.4h0M320.2 217.4h0M320.9 216.8h0M321.2 215.7h0M335.2 193.5h0M336.0 193.8h0M341.5 188.4h0M324.7 212.0h0M326.9 202.2h0M334.0 193.4h0M328.1 200.1h0M340.1 187.3h0M314.3 229.5h0M332.8 194.8h0M315.3 220.2h0M325.4 201.2h0M323.3 207.6h0M325.1 205.2h0M336.6 192.4h0M315.2 223.2h0M315.8 226.8h0M347.3 185.3h0M324.9 202.8h0M321.9 205.5h0M314.9 218.7h0M326.8 203.2h0M331.9 196.2h0M341.9 185.2h0M321.4 206.6h0M319.0 221.6h0M337.2 193.8h0M322.1 212.2h0M333.2 193.7h0M337.1 190.1h0M350.0 182.5h0M317.5 218.4h0M317.6 212.6h0M324.1 208.4h0M337.4 188.6h0M321.9 203.7h0M325.7 206.9h0M339.6 189.1h0M319.0 222.3h0M318.0 222.8h0M317.0 223.6h0M325.2 201.4h0M320.3 217.0h0M321.2 208.4h0M325.3 202.7h0M328.7 203.1h0M319.9 205.5h0M319.7 221.2h0M338.9 190.5h0M339.7 186.2h0M328.2 200.0h0M322.6 213.4h0M364.7 175.0h0M314.2 220.7h0M341.7 186.7h0M330.9 198.2h0M316.8 212.4h0M329.8 199.8h0M328.6 201.5h0M314.0 231.3h0M324.1 203.5h0M333.3 188.9h0M335.2 200.7h0M314.2 220.0h0M321.0 217.3h0M331.8 194.1h0M314.5 228.9h0M332.9 195.2h0M327.1 201.3h0M321.9 207.3h0M322.4 205.3h0M328.3 206.1h0M314.1 222.1h0M345.8 185.3h0M324.2 206.5h0M332.2 196.7h0M315.3 222.2h0M342.1 187.7h0M334.0 195.6h0M319.6 214.1h0M344.2 187.2h0M342.1 187.8h0M325.5 204.9h0M321.5 213.5h0M338.1 188.7h0M314.1 232.5h0M347.9 182.7h0M349.5 181.6h0M315.1 223.9h0M347.2 183.9h0M317.4 211.2h0M336.2 187.8h0M342.0 189.2h0M316.4 217.5h0M321.9 209.9h0M348.0 181.1h0M336.0 190.5h0M333.7 195.0h0M318.9 215.0h0M335.9 194.6h0M316.2 227.9h0M320.9 214.1h0M320.3 214.7h0M314.3 225.8h0M325.9 204.7h0M315.2 228.3h0M354.5 179.5h0M325.2 202.9h0M335.8 191.3h0M326.0 200.7h0M317.6 221.6h0M325.7 205.7h0M314.3 231.8h0M320.0 211.5h0M332.6 198.8h0M317.8 217.9h0M344.6 185.5h0M331.7 198.2h0M314.8 229.2h0M324.7 206.4h0M342.9 186.4h0M319.0 213.6h0M314.2 220.7h0M319.5 212.6h0M326.8 204.5h0M324.3 208.2h0M317.5 213.8h0M324.6 203.9h0M324.0 202.2h0M332.0 194.1h0M361.7 177.3h0M331.1 197.9h0M316.6 224.4h0M316.4 219.3h0M318.1 210.6h0M347.7 185.3h0M316.3 225.6h0M333.5 198.4h0M321.1 205.5h0M318.6 214.1h0M332.9 198.6h0M338.1 194.6h0M334.9 190.6h0M315.8 214.7h0M321.0 218.2h0M315.7 216.5h0M317.9 215.2h0M318.6 216.0h0M327.5 202.5h0M318.4 209.6h0M334.7 202.2h0M350.5 179.7h0M336.1 190.0h0M317.5 223.9h0M347.4 183.8h0M321.4 206.8h0M316.2 217.5h0M320.2 214.9h0M316.5 226.4h0M317.9 211.6h0M327.5 206.0h0M319.2 223.4h0M350.3 181.6h0M325.5 207.2h0M326.9 200.8h0M319.1 209.9h0M342.9 185.0h0M339.3 186.8h0M325.2 203.3h0M313.9 233.7h0M329.8 195.3h0M323.2 211.2h0M318.9 220.9h0M324.5 204.0h0M332.9 192.2h0M332.3 196.9h0M316.3 223.0h0M344.4 185.9h0M324.0 202.4h0M344.2 186.6h0M321.7 204.8h0M343.1 185.0h0M340.5 189.9h0M315.5 228.0h0M342.6 187.3h0M334.7 197.2h0M329.8 200.6h0M314.2 233.1h0M330.5 197.6h0M330.9 197.2h0M341.2 188.1h0M320.3 205.7h0M317.9 226.0h0M335.2 193.6h0M322.8 208.9h0M319.6 209.4h0M333.9 197.2h0M314.2 227.4h0M314.7 228.5h0M351.6 180.1h0M341.9 188.4h0M335.1 188.2h0M323.9 202.2h0M324.4 208.6h0M320.9 218.7h0M314.9 228.4h0M336.2 189.8h0M321.4 214.9h0M335.3 192.7h0M314.8 225.7h0M318.1 213.9h0M322.9 205.0h0M321.0 207.2h0M319.8 217.0h0M337.2 192.2h0M315.9 224.9h0M331.3 199.7h0M330.2 202.8h0M326.3 201.6h0M319.4 218.3h0M330.6 196.5h0M335.2 195.0h0M328.7 200.4h0M330.7 201.8h0M328.6 202.1h0M322.2 204.1h0M330.4 201.8h0M327.3 202.8h0M317.5 211.1h0M339.7 188.4h0M323.4 210.9h0M316.3 222.8h0M331.2 198.5h0M339.7 187.3h0M318.4 222.6h0M314.9 228.8h0M319.4 209.9h0M318.6 212.5h0M319.5 220.0h0M320.9 213.2h0M323.1 205.5h0M315.9 214.3h0M326.8 201.2h0M322.3 206.0h0M322.7 207.1h0M314.7 221.5h0M335.2 192.2h0M330.5 198.3h0M331.0 204.5h0M321.1 211.3h0M361.3 176.4h0M334.2 193.1h0M338.9 189.0h0M328.4 200.8h0M331.5 199.4h0M331.6 194.3h0M321.0 213.1h0M317.3 212.9h0M335.3 191.3h0M322.0 211.5h0M313.6 228.6h0M328.7 207.5h0M340.2 187.3h0M323.5 205.8h0M328.5 200.5h0M342.9 185.5h0M314.4 218.6h0M316.2 217.1h0M313.1 229.8h0M321.0 208.5h0M316.4 220.8h0M329.5 200.9h0M321.7 210.3h0M318.2 224.1h0M333.4 192.8h0M339.7 196.1h0M342.0 183.1h0M324.9 211.0h0M327.4 200.8h0M331.8 198.0h0M341.1 186.8h0M347.5 184.0h0M320.2 209.3h0M317.5 215.5h0M319.9 212.9h0M321.6 214.5h0M336.3 191.6h0M329.4 197.2h0M318.8 222.2h0M328.9 196.7h0M330.4 195.5h0M327.5 204.4h0M334.6 193.2h0M314.2 224.6h0M334.8 196.6h0M316.4 226.2h0M343.1 191.7h0M327.2 201.4h0M340.0 189.3h0M315.7 219.4h0M320.1 217.4h0M338.7 188.5h0M313.1 222.7h0M322.3 211.3h0M336.5 191.2h0M340.2 188.1h0M318.4 220.7h0M316.7 225.6h0M332.6 199.4h0M317.3 215.1h0M322.5 212.9h0M314.5 226.2h0M322.1 209.2h0M338.6 190.6h0M328.2 199.0h0M314.2 228.5h0M314.7 224.4h0M342.3 186.3h0M331.8 198.5h0M319.6 218.7h0M330.8 198.7h0M337.5 190.8h0M338.2 188.8h0M332.0 197.6h0M318.3 220.6h0M340.4 189.1h0M333.6 197.0h0M337.8 188.5h0M332.4 209.6h0M340.1 186.4h0M336.5 189.3h0M319.6 209.2h0M319.9 220.3h0M330.5 198.2h0M316.7 215.8h0M323.0 210.4h0M320.1 216.0h0M324.5 208.5h0M322.5 209.6h0M334.0 195.3h0M330.6 199.4h0M315.1 217.6h0M333.8 198.5h0M334.8 191.9h0M324.9 205.1h0M315.0 228.1h0M336.5 190.2h0M334.6 194.2h0M315.7 225.5h0M320.7 213.3h0M334.6 191.2h0M329.6 196.8h0M316.4 219.7h0M319.5 208.4h0M315.3 227.2h0M343.2 187.5h0M338.3 192.6h0M322.0 215.6h0M325.6 207.7h0M335.4 193.2h0M327.0 201.5h0M317.1 223.1h0M337.5 192.1h0M335.9 195.8h0M315.4 230.0h0M339.9 187.4h0M327.0 205.1h0M329.6 200.2h0M332.6 195.9h0M342.9 187.7h0M326.1 203.0h0M320.8 214.8h0M321.6 205.8h0M342.0 188.2h0M331.8 198.5h0M329.4 203.0h0M326.1 198.6h0M327.8 205.0h0M346.9 185.7h0M348.2 183.9h0M321.6 209.8h0M314.4 232.5h0M320.4 220.0h0M318.0 213.4h0M325.8 208.1h0M332.1 195.6h0M330.4 195.2h0M324.7 203.2h0M345.1 184.8h0M317.1 222.6h0M326.0 208.2h0M337.0 189.2h0M331.5 195.0h0M328.8 202.4h0M333.5 195.5h0M315.1 232.0h0M336.0 196.1h0M327.0 202.6h0M341.0 189.9h0M317.7 218.1h0M323.5 207.4h0M351.7 181.2h0M319.8 210.5h0M337.4 198.8h0M344.0 184.1h0M328.5 202.3h0M326.6 202.4h0M327.9 203.0h0M316.9 212.9h0M325.8 201.7h0M333.5 193.7h0M325.0 202.1h0M319.8 209.8h0M323.8 207.7h0M318.3 223.9h0M313.7 232.6h0M346.9 186.4h0M321.5 207.4h0M334.1 193.7h0M330.5 195.2h0M321.1 213.7h0M322.2 212.2h0M334.1 199.0h0M324.8 202.1h0M331.9 197.1h0M329.2 200.3h0M327.8 206.2h0M332.7 199.2h0M325.9 205.9h0M316.2 225.8h0M327.4 202.0h0M347.7 183.5h0M335.3 193.3h0M322.5 214.6h0M327.6 203.6h0M316.4 222.7h0M332.2 195.8h0M324.0 209.0h0M329.9 200.3h0M351.7 181.8h0M331.4 200.2h0M338.8 191.9h0M314.1 232.5h0M320.7 210.7h0M331.3 202.6h0M317.6 217.2h0M329.3 202.8h0M322.0 210.0h0M327.6 206.1h0M316.3 223.9h0M335.0 194.9h0M317.6 212.9h0M318.3 208.5h0M315.4 218.2h0M318.7 213.9h0M318.2 220.2h0M357.2 178.6h0M337.4 189.5h0M335.4 192.6h0M313.7 223.3h0M321.1 214.9h0M343.6 183.6h0M343.2 187.2h0M318.5 218.2h0M330.7 200.9h0M331.7 195.7h0M326.4 208.3h0M322.2 210.8h0M318.2 213.4h0M333.4 194.1h0M320.0 209.9h0M334.4 194.2h0M316.0 229.7h0M329.1 203.2h0M342.7 188.0h0M315.9 220.8h0M314.7 232.9h0M334.1 193.5h0M315.7 216.5h0M329.5 201.8h0M313.2 231.7h0M326.6 203.6h0M322.4 205.7h0M314.6 230.2h0M321.2 212.5h0M324.2 204.3h0M329.2 204.2h0M318.6 209.5h0M333.5 198.1h0M336.1 193.5h0M314.0 221.5h0M344.8 186.5h0M322.0 209.0h0M329.0 197.4h0M344.3 184.7h0M334.1 196.3h0M324.6 206.5h0M335.8 192.6h0M321.9 210.8h0M314.8 228.8h0M332.5 196.1h0M321.2 206.5h0M340.8 189.5h0M315.3 228.7h0M334.6 194.5h0M324.1 204.6h0M314.0 227.9h0M326.1 208.7h0M338.6 191.1h0M343.5 188.7h0M332.2 198.5h0M335.1 195.4h0M342.6 187.6h0M345.4 182.5h0M327.8 203.3h0M314.5 228.2h0M332.9 197.8h0M314.5 226.7h0M315.1 225.2h0M326.2 202.7h0M331.2 199.9h0M314.0 222.5h0M332.3 197.8h0M335.3 193.4h0M345.5 185.7h0M323.2 203.9h0M349.6 180.7h0M321.7 217.8h0M328.2 199.5h0M317.1 214.1h0M324.3 210.0h0M317.0 213.0h0M356.2 179.4h0M347.3 182.2h0M329.2 200.6h0M313.8 224.1h0M317.8 215.6h0M317.6 218.6h0M322.1 212.8h0M327.0 207.3h0M321.7 206.8h0M323.8 204.5h0M340.0 192.9h0M323.6 205.8h0M326.2 201.6h0M329.1 206.6h0M319.9 214.1h0M330.8 201.0h0M319.5 219.1h0M315.9 222.1h0M330.7 202.1h0M331.7 194.0h0M315.1 222.0h0M325.0 202.0h0M314.5 220.9h0M321.4 209.7h0M332.3 197.2h0M332.5 196.7h0M324.3 206.6h0M338.9 189.2h0M339.8 187.5h0M320.2 217.2h0M345.7 182.7h0M317.8 214.0h0M343.9 184.9h0M328.6 197.4h0M345.8 181.5h0M323.6 211.5h0M340.0 189.5h0M323.4 210.9h0M334.6 195.9h0M333.2 191.2h0M338.6 189.3h0M332.8 199.6h0M323.9 205.3h0M313.6 234.0h0M334.4 194.1h0M331.7 203.7h0M318.3 222.7h0M331.3 193.8h0M321.7 207.3h0M331.8 196.8h0M323.3 203.8h0M338.0 191.2h0M332.8 192.4h0M341.7 186.4h0M341.4 186.2h0M313.5 233.8h0M330.2 198.4h0M354.2 181.1h0M314.6 229.5h0M334.3 191.0h0M321.5 213.6h0M328.5 200.9h0M318.2 224.6h0M333.7 198.6h0M339.5 187.5h0M334.3 192.0h0M333.5 194.3h0M342.9 187.6h0M330.1 202.4h0M320.9 216.8h0M327.6 202.2h0M338.4 189.8h0M318.8 210.1h0M322.0 205.4h0M343.0 195.9h0M314.7 225.9h0M316.6 226.7h0M321.2 209.3h0M340.4 189.1h0M316.1 221.6h0M327.1 200.1h0M332.6 196.2h0M316.2 226.6h0M339.6 188.6h0M337.3 191.6h0M315.1 229.2h0M323.9 203.3h0M321.7 204.9h0M335.3 193.1h0M315.3 229.1h0M324.6 211.5h0M316.9 227.0h0M326.2 202.1h0M315.3 224.8h0M338.6 191.5h0M319.9 209.7h0M314.6 233.3h0M321.8 212.5h0M326.3 200.5h0M320.8 217.4h0M315.4 219.8h0M335.5 191.0h0M328.7 200.3h0M315.2 228.5h0M336.9 198.1h0M317.8 224.5h0M337.0 190.7h0M337.9 188.4h0M317.7 211.8h0M314.3 231.5h0M330.4 204.4h0M327.7 199.7h0M322.6 211.4h0M320.7 206.1h0M313.7 228.9h0M346.8 181.6h0M316.4 223.1h0M322.9 203.5h0M320.2 214.5h0M328.9 197.0h0M317.3 214.8h0M315.8 226.2h0M328.6 204.5h0M320.0 214.5h0M331.4 196.7h0M322.8 213.4h0M343.2 186.9h0M327.9 198.8h0M325.8 202.8h0M325.7 204.1h0M326.9 197.9h0M328.0 201.4h0M328.7 203.3h0M320.4 218.1h0M337.6 193.0h0M324.9 209.3h0M321.2 215.9h0M330.8 199.5h0M332.2 198.5h0M321.9 208.6h0M331.1 192.9h0M316.2 216.1h0M314.5 227.5h0M319.4 216.4h0M336.4 193.3h0M314.7 220.9h0M333.2 198.4h0M328.7 200.6h0M327.1 197.2h0M321.8 210.7h0M322.0 205.7h0M340.0 191.4h0M324.9 208.6h0M314.8 225.9h0M324.3 204.0h0M317.9 225.9h0M317.3 219.8h0M318.5 215.0h0M325.7 202.3h0M328.1 201.9h0M324.2 207.3h0M316.0 227.6h0M317.8 221.5h0M329.3 199.7h0M314.6 231.7h0M335.6 191.5h0M328.3 197.6h0M326.1 198.4h0M342.3 185.3h0M317.3 221.3h0M331.6 200.9h0M320.8 205.0h0M338.1 193.8h0M331.6 201.1h0M328.4 200.4h0M322.6 205.8h0M342.2 187.1h0M330.0 202.9h0M318.7 215.9h0M317.2 223.2h0M348.3 184.3h0M346.0 188.8h0M330.5 195.3h0M336.2 190.9h0M349.5 181.8h0M334.6 193.4h0M319.6 210.2h0M335.2 192.9h0M336.8 205.0h0M321.9 217.9h0M328.8 200.8h0M349.5 183.6h0M348.8 183.0h0M321.7 208.5h0M342.9 181.6h0M320.6 215.8h0M323.2 210.4h0M316.6 216.3h0M323.7 210.9h0M346.9 183.1h0M320.3 218.5h0M317.6 216.2h0M318.9 209.8h0M341.1 188.8h0M319.9 211.8h0M322.7 208.7h0M327.2 205.1h0M340.1 192.3h0M321.9 208.9h0M333.4 193.3h0M337.1 189.2h0M314.3 230.9h0M342.3 188.3h0M322.5 212.4h0M326.6 202.6h0M315.3 230.1h0M344.1 185.0h0M315.3 223.8h0M346.5 183.9h0M325.3 201.6h0M336.1 196.0h0M332.6 196.6h0M316.2 229.3h0M333.9 196.8h0M319.6 216.3h0M317.0 224.0h0M344.6 185.7h0M319.2 215.2h0M340.4 187.1h0M316.3 214.1h0M332.8 192.3h0M336.5 190.5h0M319.2 207.8h0M324.1 203.5h0M342.5 187.1h0M318.3 216.3h0M313.5 227.8h0M337.0 191.6h0M345.1 187.9h0M324.4 208.8h0M320.6 217.9h0M317.4 215.1h0M325.9 202.1h0M350.3 182.0h0M337.6 191.3h0M338.3 191.3h0M322.2 207.8h0M320.6 211.9h0M334.8 197.6h0M346.0 184.9h0M335.0 198.7h0M353.2 180.3h0M323.3 204.3h0M319.2 209.0h0M315.9 226.0h0M319.8 214.1h0M333.5 193.2h0M335.6 191.3h0M320.2 216.1h0M320.4 208.8h0M316.3 222.2h0M325.6 206.9h0M320.8 206.4h0M345.6 184.9h0M337.0 190.6h0M344.3 185.8h0M318.4 221.7h0M319.7 210.6h0M340.2 187.3h0M316.8 213.9h0M320.8 209.3h0M315.7 222.6h0M315.1 230.4h0M329.8 198.2h0M323.6 208.9h0M324.5 211.4h0M325.6 208.6h0M336.2 190.8h0M317.9 223.7h0M315.3 228.6h0M314.9 224.1h0M316.6 225.9h0M331.4 196.0h0M328.3 204.2h0M315.7 223.6h0M321.0 208.5h0M314.0 224.3h0M326.8 200.4h0M334.9 192.2h0M315.9 219.6h0M341.3 188.1h0M340.2 193.3h0M361.9 180.2h0M328.1 203.7h0M328.1 202.0h0M315.4 230.5h0M342.9 185.0h0M336.5 190.4h0M332.1 198.4h0M334.5 190.5h0M321.1 216.8h0M338.3 191.2h0M333.9 195.1h0M319.2 216.8h0M337.4 194.6h0M328.2 201.5h0M334.1 194.4h0M316.1 219.2h0M338.6 187.8h0M323.8 208.8h0M338.4 186.8h0M358.4 179.2h0M315.9 227.8h0M332.0 197.3h0M314.1 229.7h0M319.6 210.5h0M357.8 176.2h0M331.2 196.1h0M335.4 194.5h0M326.7 205.7h0M324.7 211.1h0M318.7 221.9h0M329.9 196.7h0M352.5 180.4h0M326.4 204.5h0M327.2 205.4h0M333.8 190.6h0M314.8 224.2h0M334.2 199.1h0M345.1 185.2h0M318.4 221.3h0M354.9 181.6h0M338.2 190.5h0M344.8 186.3h0M319.4 223.1h0M327.4 203.0h0M336.5 193.0h0M334.8 189.5h0M316.5 214.3h0M353.1 180.3h0M314.5 220.7h0M334.9 195.5h0M344.5 183.7h0M338.3 188.2h0M343.4 187.0h0M323.9 204.0h0M343.9 188.7h0M344.6 187.7h0M328.6 196.7h0M332.8 197.8h0M314.0 224.7h0M318.6 211.5h0M357.9 178.2h0M332.6 196.4h0M348.2 184.4h0M337.6 190.3h0M331.8 195.8h0M322.0 207.4h0M328.1 200.1h0M318.1 212.7h0M317.1 215.2h0M327.2 202.0h0M328.2 204.0h0M336.7 191.6h0M334.1 193.9h0M323.3 208.6h0M320.8 214.5h0M333.5 197.4h0M318.8 216.9h0M321.0 211.4h0M326.4 202.3h0M333.8 190.1h0M323.9 207.1h0M320.0 207.7h0M333.8 195.5h0M333.5 192.9h0M330.4 200.4h0M337.6 192.6h0M324.5 205.7h0M347.3 183.5h0M334.3 199.6h0M321.4 214.6h0M316.4 213.7h0M334.2 194.7h0M315.6 226.0h0M328.0 201.9h0M333.3 195.8h0M323.2 205.3h0M346.6 186.2h0M340.2 189.5h0M328.6 201.3h0M327.5 204.5h0M331.4 196.6h0M332.9 192.7h0M340.7 189.0h0M322.4 211.3h0M320.6 208.0h0M328.0 200.0h0M334.7 192.9h0M332.5 198.9h0M351.4 181.5h0M327.5 202.5h0M325.0 206.4h0M334.1 196.8h0M358.9 177.7h0M331.1 194.8h0M328.8 200.2h0M329.4 199.9h0M316.2 228.3h0M315.4 227.9h0M326.7 198.5h0M321.1 216.1h0M335.3 191.9h0M331.2 203.6h0M338.5 191.1h0M336.5 193.9h0M326.9 205.2h0M336.8 187.6h0M318.0 207.5h0M339.8 190.1h0M328.2 200.0h0M345.2 186.8h0M329.1 200.8h0M321.2 210.2h0M341.6 187.6h0M335.7 191.0h0M338.5 188.4h0M329.5 201.3h0M342.3 189.8h0M320.6 218.5h0M326.8 204.0h0M318.2 222.3h0M339.0 196.7h0M321.5 213.9h0M323.4 205.0h0M326.5 206.5h0M321.4 206.6h0M323.7 204.7h0M330.4 199.6h0M318.9 210.9h0M319.4 207.1h0M314.1 218.5h0M316.2 217.0h0M318.6 222.1h0M320.2 207.6h0M316.4 221.1h0M317.3 216.1h0M344.7 184.4h0M332.5 202.1h0M334.5 195.6h0M338.7 189.1h0M314.4 218.0h0M323.0 210.3h0M323.2 203.1h0M343.0 187.7h0M330.7 196.7h0M337.7 191.8h0M329.2 202.3h0M322.9 211.2h0M327.0 200.8h0M321.7 214.0h0M335.3 192.7h0M331.2 196.8h0M318.7 210.0h0M332.2 198.4h0M320.8 218.2h0M338.7 190.6h0M318.3 219.0h0M326.3 201.9h0M325.6 208.3h0M314.4 223.1h0M333.6 208.0h0M313.5 230.4h0M314.4 228.8h0M321.7 213.6h0M342.8 186.0h0M314.1 228.7h0M317.7 219.0h0M317.3 212.6h0M331.6 194.6h0M332.0 200.2h0M344.0 186.7h0M328.1 206.3h0M324.3 207.8h0M345.9 184.9h0M325.2 206.5h0M315.2 215.0h0M315.3 217.8h0M315.9 217.0h0M326.1 199.1h0M325.4 209.0h0M316.5 227.1h0M325.0 207.9h0M314.8 227.9h0M333.2 193.7h0M334.1 198.3h0M341.4 198.5h0M344.2 187.6h0M333.9 196.4h0M318.1 224.7h0M316.6 221.2h0M338.0 191.1h0M323.9 205.6h0M344.9 185.3h0M313.9 225.2h0M340.2 187.2h0M315.9 227.3h0M335.3 191.2h0M322.2 213.2h0M331.8 195.7h0M315.1 229.8h0M318.8 217.3h0M332.9 195.4h0M322.7 214.4h0M315.7 222.9h0M325.5 207.4h0M333.5 194.1h0M327.0 205.4h0M314.0 225.7h0M354.0 181.3h0M315.4 228.6h0M328.7 198.4h0M325.8 205.3h0M328.7 199.2h0M337.6 187.5h0M328.0 205.7h0M314.3 223.9h0M333.5 195.8h0M316.5 213.1h0M324.5 204.3h0M316.2 219.4h0M318.0 219.2h0M324.0 205.8h0M319.8 211.8h0M319.9 214.0h0M346.6 185.1h0M330.6 198.4h0M318.2 219.8h0M315.3 227.8h0M314.1 226.2h0M319.4 215.0h0M336.4 193.7h0M337.2 192.6h0M329.0 200.6h0M322.4 210.5h0M338.0 187.6h0M330.8 194.9h0M323.5 202.9h0M328.7 199.4h0M343.0 186.8h0M324.2 207.5h0M338.9 189.3h0M342.2 186.7h0M315.2 229.4h0M320.7 204.1h0M336.2 191.6h0M321.5 209.2h0M317.4 221.7h0M331.3 199.7h0M341.6 186.9h0M321.8 212.5h0M336.3 195.3h0M343.4 188.3h0M325.1 201.2h0M336.8 190.7h0M325.9 202.3h0M325.8 205.1h0M329.1 199.6h0M322.8 206.6h0M336.0 190.4h0M331.1 198.0h0M331.3 198.6h0M335.8 191.8h0M322.9 208.9h0M328.7 200.2h0M334.0 191.9h0M336.9 188.0h0M333.1 197.5h0M319.7 220.0h0M327.7 205.2h0M317.0 225.6h0M317.9 214.0h0M320.2 221.9h0M315.8 224.7h0M315.4 218.6h0M317.0 221.7h0M333.0 193.1h0M323.5 205.7h0M321.0 210.0h0M316.6 216.6h0M333.6 194.8h0M323.0 209.9h0M329.9 199.2h0M319.0 215.7h0M314.4 224.1h0M333.3 193.8h0M334.9 196.5h0M332.3 194.1h0M335.6 189.6h0M324.9 206.1h0M315.4 214.0h0M342.6 187.1h0M324.3 205.1h0M338.1 187.7h0M318.3 224.5h0M314.9 229.6h0M317.8 222.0h0M345.2 185.7h0M332.0 196.1h0M333.8 196.6h0M338.4 190.2h0M352.1 182.9h0M322.9 204.3h0M316.2 222.5h0M335.8 194.5h0M338.5 189.7h0M331.4 194.2h0M317.9 217.4h0M333.5 194.4h0M327.1 201.3h0M334.9 192.9h0M333.6 197.9h0M345.3 186.7h0M320.5 214.6h0M321.3 208.1h0M314.3 227.9h0M333.3 199.0h0M325.9 207.5h0M343.3 188.5h0M315.2 219.2h0M331.1 199.3h0M345.7 192.4h0M324.8 203.4h0M330.3 198.7h0M347.7 183.5h0M339.0 185.7h0M314.4 231.2h0M329.3 199.2h0M321.7 210.1h0M332.4 210.8h0M317.8 213.3h0M352.4 180.8h0M329.4 195.9h0M323.0 209.0h0M332.3 196.4h0M315.0 218.6h0M340.4 188.4h0M341.6 187.1h0M334.1 197.6h0M315.0 218.4h0M334.5 196.9h0M314.1 233.7h0M316.0 223.4h0M324.0 204.5h0M321.3 217.8h0M329.9 196.2h0M334.6 196.8h0M325.8 202.3h0M316.5 216.2h0M353.0 179.5h0M337.1 192.0h0M346.3 185.9h0M318.4 222.1h0M317.4 225.8h0M314.8 228.2h0M331.8 199.0h0M339.8 188.9h0M324.9 209.4h0M355.5 178.3h0M335.0 192.0h0M316.8 213.2h0M336.3 193.3h0M322.4 205.9h0M316.1 220.2h0M314.1 234.0h0M317.4 224.0h0M317.5 218.3h0M333.4 197.5h0M320.2 211.6h0M318.7 217.3h0M325.4 205.5h0M313.9 225.6h0M331.8 201.2h0M318.2 213.9h0M328.5 201.1h0M326.4 200.7h0M335.7 190.0h0M320.0 211.5h0M338.4 190.6h0M316.1 226.7h0M355.4 180.4h0M319.6 212.4h0M313.5 230.1h0M321.0 210.2h0M336.8 192.4h0M316.1 216.5h0M317.6 220.3h0M335.5 190.5h0M335.2 195.4h0M322.5 205.6h0M339.5 188.2h0M334.9 194.1h0M315.5 227.0h0M318.1 213.3h0M327.0 200.4h0M322.9 211.6h0M318.4 213.3h0M321.8 206.0h0M317.6 214.9h0M352.8 180.3h0M338.5 187.7h0M328.1 201.8h0M346.0 185.6h0M321.2 208.1h0M333.2 194.6h0M326.9 203.0h0M321.6 217.5h0M321.4 209.0h0M326.2 206.9h0M314.6 229.4h0M328.8 203.6h0M317.9 217.9h0M337.4 190.6h0M314.0 224.6h0M327.8 200.7h0M319.6 207.8h0M341.6 187.3h0M321.8 212.6h0M336.3 191.0h0M315.8 229.1h0M319.4 213.5h0M314.7 222.6h0M314.5 216.8h0M327.5 199.4h0M341.7 188.1h0M314.3 233.6h0M317.6 214.8h0M336.0 193.9h0M320.6 209.2h0M315.0 231.1h0M330.0 202.6h0M321.9 210.3h0M355.6 183.6h0M318.8 220.2h0M332.5 197.5h0M330.5 204.2h0M348.1 183.0h0M341.7 185.1h0M327.9 200.6h0M320.3 216.6h0M334.0 198.3h0M315.6 229.6h0M324.9 204.8h0M330.5 200.2h0M321.8 205.3h0M331.4 194.8h0M316.6 214.2h0M333.7 197.7h0M319.1 211.5h0M348.1 184.5h0M329.2 199.9h0M320.6 210.8h0M322.1 206.8h0M316.7 226.6h0M326.9 205.6h0M316.6 224.7h0M320.7 215.8h0M323.6 203.7h0M340.6 186.6h0M317.9 216.1h0M343.8 185.7h0M322.2 205.8h0M314.7 222.1h0M332.5 194.1h0M317.7 222.4h0M320.3 217.3h0M355.0 179.5h0M325.8 205.8h0M337.9 192.0h0M329.1 197.1h0M318.1 213.2h0M321.3 210.3h0M315.4 223.1h0M314.7 229.2h0M319.7 215.6h0M314.3 229.2h0M332.4 192.6h0M344.0 187.3h0M331.7 195.8h0M324.3 205.6h0M327.5 204.3h0M332.8 197.0h0M322.1 214.8h0M329.4 202.0h0M345.3 188.0h0M334.1 193.7h0M315.7 215.3h0M334.0 194.9h0M317.5 213.2h0M333.3 197.2h0M313.6 223.2h0M340.5 189.7h0M330.1 197.0h0M332.8 196.8h0M335.2 196.6h0M324.6 211.7h0M317.2 225.0h0M337.7 192.2h0M337.9 193.6h0M322.3 210.6h0M338.1 191.0h0M331.4 211.8h0M323.1 204.2h0M324.9 202.2h0M322.1 207.5h0M323.6 207.9h0M344.7 186.3h0M314.0 227.3h0M325.7 210.5h0M330.4 196.9h0M337.9 198.3h0M321.5 214.3h0M327.3 200.6h0M319.6 208.3h0M336.7 190.8h0M334.8 195.8h0M315.5 230.2h0M322.2 208.7h0M338.8 187.5h0M333.8 197.7h0M347.8 183.0h0M336.1 195.5h0M315.3 217.7h0M316.0 218.3h0M351.1 182.8h0M317.5 224.0h0M320.2 215.8h0M328.4 203.3h0M325.9 207.5h0M315.0 214.7h0M331.1 196.0h0M336.7 192.0h0M334.2 197.1h0M358.0 178.9h0M333.4 207.9h0M313.7 227.5h0M336.1 192.5h0M330.4 199.9h0M317.5 217.2h0M325.7 203.3h0M314.0 231.4h0M326.1 207.9h0M325.4 205.2h0M342.9 189.4h0M320.3 218.3h0M317.3 218.7h0M317.6 224.8h0M341.6 187.8h0M320.7 206.1h0M331.2 197.4h0M343.7 187.1h0M337.0 192.4h0M316.4 221.9h0M323.5 210.9h0M317.6 221.5h0M314.0 230.6h0M316.4 224.7h0M322.6 207.9h0M338.3 189.9h0M316.2 217.5h0M317.5 223.8h0M328.5 203.4h0M320.8 218.7h0M325.4 206.4h0M314.9 214.6h0M323.3 207.7h0M329.8 198.5h0M344.4 184.6h0M334.7 193.5h0M314.6 218.8h0M320.4 209.1h0M319.6 209.2h0M322.4 211.1h0M328.9 200.9h0M358.0 178.9h0M333.6 194.8h0M340.7 189.1h0M316.2 225.8h0M347.4 184.5h0M319.5 217.0h0M328.8 201.7h0M322.5 204.8h0M341.6 189.1h0M338.0 191.8h0M321.8 208.4h0M314.3 230.6h0M339.1 193.2h0M332.7 200.9h0M340.3 186.9h0M319.9 208.5h0M342.9 185.3h0M333.4 195.6h0M345.3 185.9h0M324.2 211.2h0M324.5 204.4h0M332.7 200.3h0M330.7 201.7h0M330.8 197.7h0M322.2 213.2h0M316.2 227.3h0M315.8 220.1h0M338.5 186.4h0M315.4 221.5h0M338.8 189.3h0M341.9 187.3h0M314.3 229.8h0M316.1 214.9h0M325.1 202.1h0M339.5 191.5h0M327.6 201.4h0M317.8 218.0h0M318.1 222.5h0M320.8 214.2h0M322.1 207.7h0M348.5 182.9h0M322.8 207.0h0M333.2 198.1h0M345.3 184.9h0M319.1 210.0h0M316.3 216.9h0M314.2 232.1h0M331.5 199.0h0M335.9 193.5h0M327.9 205.0h0M326.0 208.2h0M313.7 226.2h0M324.1 204.0h0M335.9 192.3h0M320.0 208.9h0M348.2 185.1h0M314.0 223.3h0M325.4 200.9h0M334.9 195.9h0M314.8 224.1h0M336.9 192.1h0M323.8 205.9h0M321.8 208.5h0M326.5 203.3h0M339.3 187.4h0M331.0 198.0h0M331.4 202.9h0M345.7 182.9h0M320.8 210.3h0M328.2 202.0h0M323.6 208.5h0M326.9 204.7h0M338.9 187.6h0M314.6 218.9h0M347.4 183.2h0M337.5 192.1h0M318.0 219.9h0M317.9 211.8h0M322.5 208.6h0M314.5 220.6h0M317.7 210.0h0M333.4 197.0h0M323.3 211.0h0M324.9 209.3h0M329.1 199.5h0M338.2 189.6h0M331.1 202.2h0M316.8 225.7h0M327.0 205.6h0M316.2 225.6h0M316.9 222.3h0M319.9 212.7h0M314.8 223.2h0M322.7 215.3h0M319.5 211.8h0M316.8 218.1h0M341.0 190.6h0M331.7 196.3h0M314.5 218.7h0M335.4 190.6h0M314.9 220.1h0M313.4 224.6h0M338.1 193.0h0M322.2 215.2h0M316.1 223.3h0M319.3 214.4h0M329.6 202.7h0M336.9 191.8h0M335.0 191.4h0M346.1 184.5h0M337.1 187.9h0M343.2 184.9h0M323.3 210.1h0M330.8 197.7h0M315.5 222.4h0M321.0 209.5h0M325.2 206.8h0M343.1 188.3h0M347.3 182.9h0M329.3 197.6h0M326.9 203.7h0M333.6 194.2h0M333.4 194.6h0M320.9 208.5h0M345.6 184.3h0M328.1 199.6h0M336.3 189.2h0M320.3 206.6h0M332.0 196.6h0M324.3 204.4h0M329.6 197.0h0M337.8 191.3h0M314.1 229.2h0M315.1 223.7h0M319.2 216.4h0M334.0 192.4h0M324.5 208.3h0M351.7 183.5h0M320.8 214.8h0M317.2 218.8h0M321.9 207.5h0M328.4 202.7h0M340.1 188.7h0M356.4 178.7h0M320.8 214.7h0M318.5 221.7h0M333.6 197.3h0M331.7 198.7h0M346.7 186.6h0M316.9 220.8h0M343.8 186.5h0M332.4 193.7h0M328.4 204.0h0M338.9 190.5h0M331.9 196.2h0M340.1 190.4h0M324.9 201.5h0M318.6 219.2h0M328.7 201.7h0M318.1 218.5h0M333.8 191.7h0M338.5 187.3h0M337.3 191.1h0M319.8 213.7h0M342.2 190.7h0M320.7 216.1h0M326.3 203.8h0M332.3 203.0h0M342.6 185.5h0M332.7 198.3h0M323.2 204.5h0M314.6 233.2h0M313.7 231.1h0M343.8 187.3h0M342.6 186.9h0M331.2 196.7h0M335.3 195.8h0M320.6 207.3h0M329.6 203.4h0M340.2 186.0h0M315.3 224.7h0M321.6 205.9h0M342.0 189.2h0M331.0 197.5h0M333.5 198.6h0M315.1 224.2h0M322.4 205.1h0M320.2 211.5h0M317.1 216.6h0M329.0 201.8h0M317.3 218.7h0M339.0 187.7h0M324.0 207.1h0M331.5 198.4h0M318.9 213.3h0M316.3 218.0h0M346.8 182.6h0M324.2 209.1h0M335.9 196.7h0M325.0 209.1h0M335.9 195.4h0M350.0 183.1h0M329.8 199.9h0M325.0 203.3h0M319.9 210.3h0M316.5 228.2h0M330.7 198.7h0M319.3 213.5h0M314.4 222.7h0M346.0 184.1h0M351.2 179.3h0M320.5 217.9h0M336.3 194.1h0M338.4 190.4h0M319.7 211.3h0M334.2 195.8h0M316.0 228.9h0M320.0 218.7h0M329.6 203.2h0M325.4 207.0h0M314.6 220.4h0M323.4 202.8h0M334.8 197.3h0M318.3 214.1h0M314.7 219.0h0M316.2 228.3h0M333.8 193.6h0M321.5 216.2h0M324.2 201.4h0M320.8 210.0h0M325.3 204.3h0M351.9 180.3h0M341.5 188.7h0M331.5 195.2h0M324.1 204.7h0M324.1 208.3h0M353.4 182.3h0M314.7 230.9h0M334.4 195.6h0M340.6 187.3h0M324.4 206.4h0M320.0 219.2h0M316.1 223.4h0M341.9 187.1h0M323.4 202.4h0M325.2 203.0h0M342.1 189.5h0M334.8 193.6h0M315.7 224.3h0M315.8 218.5h0M344.0 184.8h0M334.8 192.7h0M332.2 199.3h0M337.0 190.4h0M339.5 188.9h0M314.9 225.5h0M321.2 217.8h0M341.0 187.6h0M321.7 212.7h0M332.2 195.3h0M319.9 219.0h0M320.2 215.5h0M320.8 212.8h0M345.1 184.2h0M338.3 191.9h0M326.2 206.7h0M331.3 201.3h0M316.0 215.3h0M316.3 220.7h0M331.4 211.3h0M325.3 203.6h0M354.3 179.6h0M321.5 210.8h0M336.2 188.9h0M332.3 197.2h0M317.0 217.1h0M321.5 207.3h0M321.0 213.7h0M328.2 197.2h0M315.6 230.3h0M329.0 203.2h0M340.8 187.7h0M330.1 199.0h0M319.9 210.2h0M331.7 197.1h0M321.5 209.1h0M331.7 200.0h0M347.9 186.8h0M325.4 205.9h0M339.0 188.4h0M319.8 207.7h0M343.7 183.7h0M320.7 211.9h0M353.8 181.4h0M318.7 218.5h0M317.5 215.2h0M330.4 199.7h0M325.2 208.2h0M313.7 221.5h0M322.9 212.4h0M320.6 217.6h0M314.6 227.8h0M316.6 218.6h0M347.0 183.2h0M328.0 202.3h0M335.4 198.6h0M315.8 227.4h0M321.5 208.6h0M329.7 203.1h0M329.3 200.0h0M345.7 184.8h0M330.8 195.9h0M345.2 182.9h0M333.0 199.1h0M322.1 215.1h0M315.1 224.8h0M347.3 183.0h0M315.5 225.5h0M323.3 212.1h0M324.1 205.7h0M328.8 202.5h0M337.4 191.6h0M323.2 201.2h0M342.8 186.1h0M326.0 204.9h0M325.0 204.2h0M348.6 184.0h0M342.1 190.1h0M323.9 208.5h0M327.1 203.7h0M335.1 193.3h0M318.2 211.9h0M332.4 200.8h0M321.2 217.9h0M335.5 193.2h0M343.2 185.5h0M324.2 209.2h0M313.7 230.8h0M324.5 201.9h0M343.9 184.4h0M348.7 181.9h0M331.7 197.4h0M338.3 186.5h0M329.0 201.5h0M318.1 217.6h0M330.7 198.0h0M322.9 207.3h0M355.0 181.7h0M347.7 184.9h0M357.5 178.4h0M338.7 189.7h0M334.3 191.2h0M323.9 203.6h0M324.6 203.9h0M350.6 181.7h0M339.7 186.6h0M322.3 210.6h0M321.2 214.8h0M330.2 204.3h0M316.2 213.3h0M341.9 190.8h0M349.0 183.1h0M321.9 210.2h0M339.0 188.1h0M330.9 196.5h0M329.4 205.2h0M316.0 228.5h0M324.4 203.3h0M320.9 215.2h0M316.4 225.8h0M322.1 210.7h0M314.4 233.2h0M344.3 183.7h0M316.6 226.0h0M326.7 202.6h0M343.4 188.1h0M314.0 224.7h0M321.7 212.8h0M328.0 200.2h0M320.9 219.6h0M334.0 197.2h0M314.9 220.5h0M321.5 215.0h0M342.6 187.2h0M355.7 178.8h0M317.6 212.0h0M336.7 188.0h0M320.3 210.4h0M314.8 216.6h0M314.3 222.7h0M340.7 185.4h0M324.4 207.5h0M327.6 201.1h0M351.9 179.8h0M342.3 188.0h0M347.7 182.2h0M347.7 184.0h0M319.3 213.3h0M333.1 198.7h0M348.3 184.5h0M325.0 207.3h0M353.7 180.7h0M323.9 205.7h0M338.9 191.4h0M353.0 181.8h0M333.0 198.6h0M337.4 192.1h0M347.4 184.7h0M344.6 187.5h0M336.0 193.7h0M339.2 186.4h0M339.1 191.3h0M321.6 215.5h0M334.0 196.6h0M321.3 208.8h0M320.8 215.6h0M324.5 204.0h0M355.4 179.2h0M318.3 226.0h0M333.3 204.4h0M314.0 224.4h0M341.7 183.2h0M332.0 200.0h0M364.4 175.3h0M334.1 194.0h0M316.5 218.3h0M341.1 188.6h0M314.1 226.5h0M318.7 218.3h0M326.4 204.3h0M317.4 214.0h0M331.4 202.5h0M332.7 193.4h0M326.4 205.8h0M323.7 211.6h0M315.3 224.3h0M317.2 211.3h0M334.2 194.2h0M316.8 220.7h0M316.3 223.5h0M320.0 208.9h0M314.5 220.3h0M317.7 223.5h0M329.6 202.7h0M338.0 192.5h0M314.9 221.3h0M341.9 188.3h0M316.1 223.9h0M317.4 225.6h0M340.5 184.5h0M319.0 208.1h0M335.4 191.7h0M322.6 207.7h0M318.8 222.8h0M327.7 201.5h0M336.1 194.4h0M327.5 199.2h0M321.3 211.9h0M334.6 193.0h0M342.6 186.5h0M332.0 195.1h0M342.1 184.5h0M324.3 200.6h0M328.9 201.8h0M335.7 188.8h0M318.3 221.6h0M331.2 200.3h0M326.7 205.6h0M321.2 212.1h0M337.2 192.1h0M319.7 207.8h0M340.9 187.1h0M327.3 199.6h0M350.5 181.2h0M319.2 211.2h0M315.2 219.6h0M325.7 202.9h0M316.9 216.2h0M318.0 217.2h0M338.0 192.2h0M320.1 209.6h0M321.0 207.7h0M349.1 183.1h0M316.3 223.9h0M324.3 206.1h0M344.2 185.4h0M329.5 199.5h0M318.8 212.9h0M316.1 213.9h0M325.4 200.2h0M337.5 191.9h0M342.3 184.2h0M320.6 212.9h0M336.0 193.7h0M314.5 222.8h0M331.4 199.5h0M317.6 224.0h0M330.8 197.9h0M337.6 194.1h0M314.8 225.4h0M334.6 190.4h0M319.0 209.9h0M338.9 192.2h0M329.4 204.0h0M320.3 218.9h0M315.2 223.1h0M318.4 223.7h0M337.1 195.4h0M324.7 208.2h0M325.0 199.6h0M320.2 214.7h0M317.0 224.1h0M322.8 211.0h0M346.5 187.3h0M318.8 211.5h0M319.7 215.0h0M334.3 190.1h0M319.1 215.0h0M320.1 210.1h0M320.1 208.4h0M350.8 181.9h0M320.8 220.0h0M315.0 227.1h0M319.2 213.1h0M327.3 205.7h0M319.4 207.9h0M341.2 188.7h0M356.8 179.8h0M316.2 222.8h0M337.2 188.8h0M315.3 215.9h0M333.0 196.9h0M322.5 207.5h0M321.8 217.8h0M329.6 199.6h0M329.6 203.4h0M341.4 186.3h0M315.3 224.5h0M338.0 188.5h0M339.8 188.4h0M334.9 194.5h0M329.5 200.9h0M314.4 231.6h0M318.3 214.0h0M331.4 194.3h0M326.2 205.6h0M330.9 199.5h0M321.0 203.9h0M330.6 199.2h0M331.4 195.0h0M328.6 204.2h0M331.3 198.3h0M340.5 185.9h0M340.0 188.9h0M335.4 195.1h0M327.6 198.0h0M319.0 220.0h0M328.3 204.2h0M328.5 201.3h0M329.6 201.6h0M326.7 200.1h0M324.1 210.6h0M314.4 232.9h0M328.8 201.2h0M349.6 180.9h0M331.9 199.8h0M313.5 227.1h0M316.9 219.1h0M317.7 213.5h0M315.4 225.6h0M315.8 218.0h0M320.4 217.1h0M321.4 208.0h0M316.3 217.7h0M331.7 202.1h0M348.5 182.0h0M339.8 186.7h0M316.5 223.1h0M317.7 221.2h0M321.0 210.9h0M326.1 206.4h0M355.7 179.0h0M348.3 181.7h0M323.3 203.9h0M315.2 216.1h0M323.9 203.5h0M324.7 206.0h0M318.3 212.8h0M347.9 184.3h0M327.9 200.1h0M329.8 194.9h0M340.0 188.1h0M315.2 223.7h0M323.9 205.1h0M335.6 195.7h0M327.7 205.1h0M337.9 188.4h0M323.9 210.9h0M331.0 194.4h0M346.5 184.2h0M338.7 189.9h0M323.1 208.9h0M336.3 193.9h0M328.3 199.8h0M329.7 203.7h0M341.4 185.5h0M342.7 187.0h0M335.0 192.3h0M318.1 210.3h0M329.0 202.6h0M339.6 189.6h0M314.4 228.2h0M317.5 217.4h0M333.3 207.9h0M313.4 228.3h0M314.6 225.2h0M322.6 208.2h0M333.9 192.3h0M329.8 202.7h0M328.2 199.5h0M324.5 203.0h0M332.8 194.2h0M316.5 220.8h0M315.5 220.4h0M339.1 188.0h0M319.8 219.1h0M319.3 210.2h0M326.4 199.5h0M319.0 215.8h0M316.0 225.1h0M347.5 184.1h0M317.4 219.0h0M337.8 190.2h0M339.5 190.5h0M327.2 196.8h0M341.8 184.9h0M314.4 222.1h0M344.6 183.8h0M332.3 200.6h0M318.8 219.4h0M315.0 219.6h0M344.7 182.2h0M321.6 217.5h0M317.3 222.6h0M332.8 200.0h0M333.2 198.4h0M317.7 224.7h0M347.0 185.0h0M332.6 199.7h0M315.5 216.8h0M317.0 223.6h0M325.9 206.3h0M325.9 204.0h0M331.4 199.6h0M341.7 190.7h0M339.3 187.4h0M325.1 203.3h0M330.6 195.6h0M328.4 202.2h0M319.7 215.2h0M321.7 212.6h0M342.5 186.4h0M332.0 195.3h0M338.9 189.6h0M323.5 211.2h0M324.6 204.4h0M333.1 194.2h0M340.9 186.9h0M314.1 227.0h0M319.9 206.7h0M323.2 213.0h0M341.5 185.9h0M316.6 213.2h0M330.8 199.9h0M346.4 184.6h0M338.0 189.0h0M330.6 199.8h0M315.2 226.4h0M330.1 202.0h0M315.0 217.3h0M332.7 198.1h0M325.7 207.5h0M315.7 221.5h0M319.3 216.2h0M345.1 185.1h0M339.1 189.4h0M339.4 190.6h0M323.9 203.2h0M321.3 208.9h0M330.5 197.8h0M346.1 183.8h0M321.1 219.0h0M318.6 213.5h0M320.8 214.8h0M314.0 232.2h0M317.4 224.2h0M334.4 196.5h0M329.6 202.0h0M334.0 192.6h0M327.0 202.4h0M346.1 184.3h0M320.7 207.0h0M320.7 210.2h0M330.5 193.8h0M323.3 203.6h0M314.9 221.6h0M329.5 200.5h0M329.5 202.0h0M315.2 229.1h0M317.6 212.5h0M317.1 222.2h0M322.2 206.1h0M349.3 184.7h0M336.9 200.1h0M317.2 215.6h0M330.7 197.1h0M322.7 209.7h0M315.2 217.7h0M333.2 197.0h0M326.4 207.2h0M328.2 201.9h0M314.1 226.7h0M315.2 229.4h0M341.6 187.2h0M315.6 228.0h0M319.4 216.8h0M317.4 219.1h0M319.4 213.5h0M330.1 202.2h0M321.0 210.4h0M319.2 219.6h0M319.5 217.4h0M332.4 194.2h0M318.9 217.4h0M333.6 191.9h0M321.6 209.4h0M323.8 205.4h0M312.9 224.3h0M320.9 211.1h0M325.5 207.3h0M315.7 229.7h0M325.6 202.8h0M321.5 205.8h0M334.0 192.0h0M332.8 198.6h0M327.1 202.7h0M341.9 186.8h0M318.2 212.1h0M333.1 199.0h0M334.7 192.1h0M329.1 204.4h0M335.8 194.6h0M330.0 202.2h0M326.7 199.6h0M328.1 203.0h0M355.6 180.3h0M315.4 227.9h0M340.2 191.0h0M325.3 202.8h0M315.8 218.8h0M322.6 208.9h0M342.7 187.0h0M323.1 207.4h0M319.0 209.9h0M322.9 211.6h0M358.2 176.6h0M346.9 183.2h0M328.6 197.8h0M314.4 232.7h0M321.7 217.6h0M326.3 200.7h0M313.5 230.6h0M317.5 225.7h0M337.9 187.8h0M327.9 202.5h0M335.8 195.2h0M336.0 193.9h0M321.8 207.5h0M317.8 213.4h0M338.6 189.0h0M322.6 202.2h0M335.0 192.8h0M331.5 196.1h0M330.2 196.4h0M326.6 206.0h0M359.6 176.4h0M313.9 223.0h0M322.9 204.8h0M332.4 196.1h0M314.7 219.3h0M327.1 205.5h0M327.7 206.0h0M332.4 200.0h0M335.1 189.7h0M320.8 215.2h0M341.0 185.8h0M317.2 223.3h0M347.6 186.2h0M327.6 201.3h0M324.2 211.2h0M315.8 227.9h0M330.9 195.0h0M314.2 233.0h0M334.2 196.0h0M320.8 209.9h0M331.0 195.8h0M324.7 200.3h0M336.1 192.5h0M321.0 211.4h0M319.5 213.9h0M318.3 219.2h0M317.4 212.7h0M346.4 185.4h0M346.2 187.8h0M318.5 207.1h0M336.8 186.5h0M340.7 188.5h0M332.8 197.3h0M330.3 198.7h0M331.4 195.9h0M319.9 218.9h0M325.5 202.9h0M322.4 207.3h0M314.5 226.7h0M345.3 184.0h0M323.9 207.0h0M317.7 221.4h0M323.2 210.3h0M325.0 205.2h0M315.6 214.6h0M318.0 210.0h0M326.0 204.9h0M319.9 220.3h0M350.1 181.7h0M315.5 225.9h0M322.2 208.6h0M317.5 220.6h0M361.8 176.8h0M343.4 185.1h0M321.4 209.3h0M314.9 221.0h0M319.8 217.8h0M320.4 212.8h0M331.4 202.3h0M316.9 223.4h0M330.9 199.8h0M318.6 212.8h0M332.3 194.7h0M348.0 183.5h0M318.2 217.6h0M316.0 222.1h0M325.1 204.1h0M324.1 206.6h0M315.0 233.5h0M314.2 228.5h0M315.8 228.0h0M335.8 191.6h0M316.7 222.7h0M314.2 228.4h0M347.5 184.1h0M314.7 223.2h0M342.2 190.6h0M319.0 223.5h0M338.9 188.1h0M338.4 188.1h0M336.3 196.5h0M335.7 191.0h0M315.7 214.4h0M348.0 183.4h0M344.1 185.9h0M337.0 191.8h0M318.5 217.8h0M334.2 195.6h0M337.7 190.3h0M333.6 195.4h0M316.7 211.7h0M314.0 231.4h0M316.8 225.1h0M347.6 182.3h0M315.7 231.1h0M331.2 196.1h0M339.3 186.8h0M365.1 175.1h0M323.6 205.2h0M335.0 193.8h0M358.1 180.0h0M332.3 194.9h0M313.6 224.8h0M322.0 204.4h0M322.0 208.1h0M320.3 207.6h0M315.5 228.4h0M321.1 208.9h0M317.2 214.4h0M328.8 201.1h0M337.5 191.3h0M320.0 212.6h0M334.5 196.0h0M316.5 213.9h0M341.0 186.5h0M319.0 210.1h0M321.3 210.6h0M333.3 191.4h0M339.2 189.2h0M314.0 221.0h0M336.5 187.2h0M333.1 193.8h0M324.3 201.7h0M331.7 194.5h0M321.8 205.9h0M314.2 228.7h0M330.5 198.3h0M316.0 221.7h0M342.0 189.9h0M316.7 216.9h0M333.7 197.8h0M317.6 224.5h0M341.2 186.9h0M348.8 181.7h0M334.9 194.4h0M313.9 223.1h0M314.2 219.5h0M318.4 217.8h0M350.9 180.6h0M320.2 216.7h0M319.0 217.2h0M317.4 215.3h0M323.2 203.3h0M316.9 229.4h0M324.7 209.0h0M349.5 188.5h0M330.6 202.0h0M316.6 220.2h0M320.7 214.3h0M327.5 199.6h0M342.7 185.7h0M339.5 189.4h0M317.2 220.1h0M340.6 199.4h0M323.0 212.2h0M328.5 202.3h0M325.9 208.3h0M315.2 222.0h0M334.6 191.3h0M325.6 206.6h0M324.1 202.4h0M317.1 215.8h0M330.1 197.4h0M333.0 200.4h0M332.8 195.2h0M317.5 225.3h0M331.0 197.9h0M315.0 230.7h0M326.9 205.8h0M327.8 200.3h0M330.2 202.4h0M323.0 214.2h0M349.8 182.2h0M348.4 182.4h0M347.2 183.9h0M321.2 209.9h0M319.8 219.2h0M314.1 220.4h0M321.0 209.9h0M321.8 215.4h0M324.6 202.5h0M340.2 191.5h0M338.4 194.5h0M339.1 186.2h0M343.6 185.8h0M352.9 180.5h0M342.8 186.9h0M322.0 209.9h0M316.3 228.1h0M329.1 203.2h0M327.8 199.9h0M323.4 206.5h0M327.6 204.8h0M314.8 216.9h0M317.6 212.9h0M332.8 195.1h0M329.4 197.6h0M318.8 217.3h0M324.4 208.6h0M337.3 198.9h0M338.8 189.4h0M315.8 225.0h0M319.8 213.9h0M319.5 214.4h0M332.6 197.7h0M333.6 194.3h0M317.6 223.6h0M338.2 187.0h0M341.0 187.9h0M317.7 225.0h0M334.0 191.9h0M321.5 215.4h0M323.9 203.8h0M314.3 226.8h0M325.1 199.0h0M331.1 201.8h0M320.2 216.7h0M319.7 209.0h0M315.1 225.2h0M332.6 194.7h0M326.4 202.7h0M351.0 181.5h0M321.2 214.9h0M342.4 185.7h0M328.3 196.9h0M345.2 184.9h0M342.8 189.0h0M323.3 202.8h0M320.5 217.0h0M340.8 186.2h0M318.7 210.5h0M331.5 196.9h0M335.8 190.3h0M314.2 232.5h0M325.0 204.2h0M326.9 207.1h0M315.8 218.7h0M331.1 198.6h0M323.7 202.3h0M317.7 211.4h0M335.2 193.9h0M325.5 207.7h0M321.5 208.9h0M331.1 205.3h0M332.6 199.8h0M323.6 204.3h0M349.7 182.1h0M315.1 230.2h0M330.8 203.0h0M317.5 219.9h0M332.0 197.3h0M314.5 219.3h0M337.2 188.1h0M352.9 180.4h0M331.7 195.4h0M332.5 193.7h0M319.2 209.6h0M326.7 203.3h0M338.2 190.2h0M322.1 211.5h0M333.9 198.3h0M340.1 185.1h0M335.9 190.7h0M322.9 204.7h0M325.6 204.4h0M343.9 185.0h0M324.7 203.9h0M314.8 213.8h0M316.6 221.5h0M324.8 206.7h0M321.9 207.3h0M342.7 187.6h0M321.0 204.5h0M329.7 198.3h0M335.2 190.8h0M329.8 197.8h0M336.1 204.9h0M327.7 202.3h0M330.7 201.8h0M334.6 190.6h0M318.7 215.1h0M342.3 184.3h0M319.0 222.8h0M326.6 204.3h0M322.6 207.1h0M328.7 202.0h0M325.1 203.3h0M336.7 191.2h0M331.0 210.2h0M314.2 228.9h0M316.5 225.3h0M354.7 180.1h0M337.7 192.8h0M317.2 217.9h0M327.6 202.2h0M317.7 224.4h0M321.6 212.3h0M323.7 203.5h0M334.7 195.0h0M316.6 216.4h0M319.9 215.5h0M335.6 191.6h0M326.9 208.4h0M316.6 216.7h0M320.6 214.5h0M314.3 218.8h0M339.8 190.2h0M331.9 195.9h0M350.2 180.8h0M329.6 200.5h0M326.4 202.1h0M333.1 195.1h0M314.5 229.3h0M314.8 222.5h0M328.0 204.2h0M333.8 192.8h0M314.4 226.5h0M344.3 188.0h0M330.5 199.1h0M324.8 207.0h0M325.3 202.6h0M320.5 210.1h0M317.3 219.4h0M322.6 204.2h0M319.5 214.5h0M329.0 198.8h0M326.8 202.8h0M320.0 216.8h0M323.7 204.2h0M345.0 187.0h0M342.3 188.4h0M334.2 191.1h0M346.5 182.8h0M335.1 192.3h0M324.5 203.0h0M320.1 218.8h0M333.2 196.2h0M331.8 195.0h0M320.7 214.9h0M332.2 191.0h0M335.8 192.8h0M329.4 203.5h0M326.2 202.8h0M337.4 192.0h0M316.6 227.0h0M315.4 222.2h0M345.9 182.9h0M328.0 200.9h0M336.7 189.4h0M314.8 230.9h0M342.3 190.5h0M340.7 187.9h0M334.4 199.1h0M322.9 210.2h0M324.1 207.1h0M322.7 215.0h0M316.9 216.9h0M347.7 183.4h0M345.1 187.5h0M347.0 184.6h0M315.0 224.9h0M325.8 199.3h0M324.4 206.2h0M327.6 203.6h0M345.9 188.6h0M345.2 183.3h0M318.2 224.0h0M337.8 191.7h0M344.3 184.0h0M337.8 191.9h0M343.3 187.6h0M321.9 206.6h0M318.4 222.2h0M342.1 188.2h0M334.9 195.5h0M340.5 184.0h0M344.4 186.6h0M318.5 214.3h0M345.9 181.6h0M341.8 187.2h0M319.1 216.2h0M339.6 198.7h0M347.9 183.9h0M324.4 201.9h0M319.4 211.5h0M317.6 214.4h0M324.8 206.0h0M333.5 197.2h0M322.9 211.2h0M314.7 226.9h0M321.8 215.6h0M345.4 185.5h0M343.7 185.9h0M342.0 188.4h0M329.9 200.8h0M315.7 222.9h0M357.1 179.8h0M344.5 189.1h0M329.0 202.3h0M317.5 212.2h0M322.7 209.1h0M316.8 216.6h0M341.5 188.0h0M330.1 200.1h0M326.0 205.1h0M330.0 200.9h0M335.4 193.9h0M325.9 201.4h0M325.5 208.2h0M338.5 190.5h0M338.0 189.1h0M322.1 209.9h0M331.4 196.6h0M314.5 231.9h0M319.0 211.8h0M326.7 203.5h0M318.1 211.6h0M322.8 212.8h0M345.0 184.2h0M330.7 195.5h0M343.5 187.5h0M323.7 207.1h0M331.3 197.4h0M329.2 200.2h0M335.3 192.7h0M316.9 216.2h0M321.7 205.4h0M325.8 202.2h0M316.0 221.2h0M317.4 212.6h0M324.3 204.1h0M322.8 214.9h0M319.6 209.5h0M332.6 206.8h0M343.6 183.9h0M332.9 195.1h0M340.1 191.0h0M322.2 206.3h0M336.3 191.7h0M314.9 219.1h0M344.1 187.6h0M318.1 213.0h0M313.7 221.0h0M341.1 188.3h0M316.7 226.0h0M315.5 225.8h0M314.2 223.6h0M341.2 187.2h0M314.0 228.8h0M321.1 217.0h0M347.0 186.0h0M320.8 205.5h0M337.3 190.8h0M321.5 202.7h0M321.2 208.2h0M341.8 185.2h0M318.4 219.7h0M342.8 187.0h0M346.5 183.3h0M337.5 190.7h0M317.4 222.9h0M351.1 181.3h0M319.6 207.0h0M353.7 179.8h0M336.3 188.5h0M345.0 185.5h0M330.4 200.9h0M318.8 219.8h0M317.4 219.7h0M336.0 191.5h0M323.2 206.2h0M335.8 191.7h0M329.3 197.1h0M314.6 229.7h0M332.4 200.4h0M317.1 223.9h0M342.2 186.1h0M323.4 207.2h0M314.1 222.1h0M330.5 197.2h0M321.1 217.7h0M315.4 227.5h0M334.9 194.0h0M329.7 202.3h0M319.0 208.7h0M329.8 195.9h0M319.5 221.8h0M313.4 233.3h0M329.0 200.5h0M322.9 211.5h0M322.2 206.7h0M314.5 228.3h0M315.4 219.1h0M315.6 227.2h0M341.0 188.6h0M329.3 205.3h0M314.5 226.3h0M336.8 192.0h0M336.3 190.6h0M320.6 216.0h0M349.6 181.6h0M335.0 192.1h0M317.4 215.1h0M333.5 195.2h0M335.8 189.7h0M321.1 211.4h0M319.3 216.9h0M342.0 192.3h0M319.9 214.3h0M324.7 204.0h0M319.5 210.5h0M326.8 203.6h0M340.2 187.1h0M313.8 224.8h0M316.7 220.9h0M335.9 191.7h0M341.0 188.4h0M323.0 210.5h0M329.8 202.5h0M340.8 189.5h0M322.1 211.5h0M338.6 193.0h0M332.5 197.5h0M323.9 201.7h0M333.1 194.4h0M337.7 189.2h0M317.5 213.4h0M314.5 220.6h0M317.7 216.5h0M356.3 178.6h0M326.4 203.4h0M323.1 206.2h0M322.4 208.8h0M340.5 189.8h0M323.5 204.7h0M329.1 203.4h0M314.7 222.0h0M320.7 210.4h0M329.2 202.5h0M320.2 211.5h0M321.3 211.2h0M315.2 216.7h0M330.9 196.8h0M358.3 178.2h0M320.2 211.9h0M333.0 198.2h0M340.9 187.1h0M335.7 192.9h0M339.6 191.6h0M325.1 201.4h0M331.2 200.5h0M316.6 222.8h0M327.1 204.7h0M336.2 188.1h0M335.0 192.6h0M317.3 211.8h0M338.8 191.2h0M318.8 207.5h0M336.9 187.7h0M313.9 229.9h0M321.1 208.5h0M315.1 216.2h0M326.8 202.8h0M317.0 215.7h0M324.5 201.0h0M316.3 212.7h0M325.0 205.5h0M319.6 218.2h0M327.4 203.6h0M321.7 211.9h0M327.9 204.4h0M354.7 179.4h0M328.6 198.6h0M339.1 192.7h0M342.1 189.1h0M313.6 229.9h0M345.6 184.7h0M334.8 195.9h0M328.9 200.1h0M337.4 190.0h0M324.9 204.9h0M316.8 221.7h0M314.2 230.3h0M321.9 211.6h0M323.4 208.1h0M326.8 205.1h0M339.0 189.9h0M321.4 214.9h0M337.8 192.5h0M325.0 202.9h0M324.1 208.0h0M332.5 193.0h0M341.9 187.1h0M325.3 207.4h0M322.5 216.0h0M320.6 208.8h0M334.9 193.3h0M338.5 191.5h0M332.7 197.4h0M344.3 187.0h0M320.9 218.9h0M350.0 182.9h0M336.9 190.9h0M337.1 194.8h0M320.5 215.7h0M324.7 206.4h0M313.9 224.3h0M329.9 196.0h0M316.7 222.4h0M345.2 182.9h0M337.4 189.5h0M346.2 185.3h0M326.8 202.1h0M333.3 196.4h0M323.8 205.9h0M318.3 217.0h0M339.1 188.3h0M343.5 187.1h0M345.5 184.9h0M316.1 224.3h0M330.7 208.0h0M328.2 198.0h0M316.1 217.3h0M320.4 206.1h0M316.5 226.1h0M344.0 187.4h0M322.9 204.2h0M316.7 217.1h0M336.7 193.7h0M352.2 180.1h0M341.6 184.3h0M325.0 206.0h0M322.9 204.9h0M347.7 183.6h0M317.3 214.5h0M325.5 202.1h0M319.1 211.7h0M323.0 209.3h0M324.5 202.9h0M313.6 224.5h0M356.2 178.8h0M327.7 205.6h0M322.0 204.7h0M330.5 196.5h0M337.0 191.0h0M343.3 188.9h0M327.1 202.0h0M323.7 202.0h0M336.7 194.0h0M358.0 177.0h0M329.0 203.0h0M319.5 211.3h0M348.4 182.5h0M330.2 203.5h0M343.1 187.8h0M333.4 195.3h0M318.5 223.0h0M356.5 179.3h0M334.6 190.9h0M322.9 205.0h0M328.0 200.1h0M319.8 219.4h0M331.9 196.7h0M318.9 210.9h0M317.8 219.5h0M327.4 201.3h0M314.8 216.2h0M326.1 204.1h0M323.6 205.2h0M326.1 201.8h0M332.4 198.5h0M325.2 204.7h0M319.6 206.8h0M322.6 209.2h0M335.7 189.1h0M335.1 188.7h0M321.4 214.2h0M326.5 208.6h0M325.0 204.0h0M317.4 210.6h0M338.0 189.3h0M319.4 214.9h0M318.1 219.2h0M315.1 222.1h0M315.1 221.8h0M325.0 204.0h0M334.2 193.2h0M323.9 207.8h0M330.8 199.3h0M316.2 220.4h0M317.3 213.3h0M316.7 225.8h0M334.4 193.8h0M328.8 201.2h0M323.3 208.3h0M364.6 175.3h0M326.4 200.0h0M332.7 195.9h0M328.2 201.5h0M329.1 202.6h0M332.7 198.9h0M324.9 201.2h0M319.2 209.6h0M328.2 200.3h0M335.5 195.8h0M326.6 197.4h0M327.7 199.5h0M314.3 222.6h0M351.8 180.5h0M318.7 216.3h0M321.9 211.7h0M335.0 193.5h0M327.4 207.7h0M324.4 206.7h0M335.4 195.2h0M334.8 190.0h0M341.4 190.3h0M320.9 209.1h0M366.1 174.7h0M320.0 215.9h0M335.6 197.1h0M341.2 189.1h0M314.4 227.4h0M322.0 206.3h0M325.2 206.6h0M319.6 209.0h0M338.6 190.8h0M331.4 193.7h0M316.8 218.7h0M337.0 191.4h0M319.1 219.3h0M317.4 220.1h0M331.9 198.7h0M320.1 212.3h0M326.4 206.9h0M314.8 231.5h0M351.6 182.9h0M314.9 230.1h0M319.5 211.2h0M314.5 224.4h0M337.0 189.6h0M330.0 196.9h0M314.0 228.2h0M342.5 188.0h0M320.9 218.6h0M322.5 205.8h0M325.8 203.4h0M319.7 211.1h0M316.8 220.9h0M322.0 201.7h0M327.0 200.4h0M328.4 198.5h0M316.8 223.3h0M316.3 218.4h0M329.2 203.2h0M336.8 194.4h0M329.9 203.6h0M321.0 208.6h0M330.9 198.8h0M319.4 212.4h0M325.4 206.4h0M330.9 200.0h0M335.4 190.3h0M343.2 190.3h0M331.0 197.5h0M328.2 200.1h0M327.1 205.0h0M323.7 209.7h0M348.5 184.7h0M314.3 231.5h0M344.7 185.5h0M332.7 193.1h0M315.4 218.5h0M318.2 225.6h0M355.7 177.3h0M332.0 197.8h0M318.4 209.6h0M342.0 187.4h0M314.4 228.6h0M319.4 222.0h0M338.7 189.8h0M326.5 204.3h0M339.9 193.4h0M319.8 210.2h0M330.7 197.4h0M321.7 213.0h0M327.8 202.6h0M336.3 193.2h0M313.5 232.5h0M339.8 192.7h0M327.2 205.6h0M336.3 195.6h0M328.8 202.5h0M323.3 213.6h0M322.4 212.0h0M320.0 212.7h0M331.5 200.7h0M314.7 230.6h0M313.4 223.3h0M321.3 213.8h0M357.1 178.9h0M342.0 188.1h0M325.3 198.1h0M335.0 194.1h0M340.5 187.4h0M328.4 200.0h0M351.6 178.7h0M330.3 197.3h0M351.0 181.3h0M321.8 209.9h0M338.5 194.0h0M359.5 177.5h0M335.1 193.6h0M340.7 187.2h0M324.9 201.4h0M330.6 202.9h0M336.6 190.9h0M319.9 214.4h0M320.5 215.7h0M342.4 186.7h0M320.0 216.0h0M328.8 202.4h0M351.3 182.8h0M347.8 183.9h0M353.0 180.7h0M332.0 200.1h0M354.3 179.4h0M322.6 207.1h0M329.8 204.8h0M325.3 205.1h0M350.7 183.3h0M342.8 186.0h0M340.4 189.8h0M317.0 221.9h0M345.6 188.7h0M318.5 219.6h0M322.1 214.2h0M328.8 199.1h0M329.8 200.6h0M321.9 208.3h0M317.6 212.9h0M323.8 202.9h0M318.7 209.2h0M334.4 192.4h0M319.8 214.3h0M343.6 187.0h0M327.5 200.9h0M316.2 221.4h0M338.9 188.4h0M337.0 190.7h0M333.5 196.5h0M326.9 204.2h0M323.0 209.3h0M332.5 197.1h0M326.4 199.4h0M332.6 197.3h0M350.6 180.1h0M330.5 200.4h0M333.3 197.4h0M339.6 188.8h0M317.7 225.3h0M313.9 234.2h0M332.2 198.6h0M331.3 198.5h0M331.4 200.0h0M321.6 205.2h0M333.8 193.0h0M334.6 196.0h0M342.3 186.8h0M331.7 197.0h0M347.5 181.7h0M320.2 207.3h0M314.2 228.7h0M329.2 201.5h0M339.9 188.7h0M322.5 209.6h0M315.7 223.9h0M353.9 181.3h0M339.3 188.7h0M327.6 202.3h0M314.3 222.5h0M332.9 195.7h0M333.4 195.1h0M321.0 208.1h0M321.2 209.0h0M320.4 217.2h0M342.4 187.9h0M334.5 189.3h0M334.4 192.1h0M336.6 191.1h0M353.0 180.9h0M315.5 218.4h0M342.7 189.9h0M321.1 207.8h0M320.4 210.0h0M347.1 190.7h0M329.7 192.1h0M337.2 188.2h0M341.2 189.7h0M322.9 208.3h0M322.8 206.9h0M336.0 197.5h0M320.3 218.1h0M320.7 215.6h0M326.3 201.2h0M329.4 203.9h0M329.7 198.7h0M314.4 222.0h0M332.8 194.3h0M317.5 214.8h0M327.3 198.3h0M320.3 209.5h0M314.5 232.1h0M328.3 202.4h0M337.5 188.5h0M320.4 209.0h0M318.1 225.5h0M324.1 204.2h0M323.6 206.5h0M331.6 190.6h0M323.4 212.9h0M333.2 198.7h0M321.9 206.5h0M330.7 196.0h0M323.0 211.8h0M335.5 197.5h0M348.6 185.1h0M324.4 201.7h0M315.2 232.6h0M342.4 186.7h0M327.3 205.2h0M340.8 188.6h0M314.2 225.5h0M314.6 231.5h0M341.9 187.6h0M346.1 186.6h0M340.2 199.1h0M328.4 200.2h0M322.3 211.0h0M344.5 185.9h0M342.2 188.1h0M329.7 202.7h0M331.3 196.3h0M335.6 195.3h0M327.5 203.1h0M341.3 187.4h0M330.7 200.3h0M348.0 183.8h0M345.1 185.9h0M334.4 191.9h0M352.2 179.9h0M323.8 208.7h0M347.1 185.8h0M332.2 195.2h0M318.8 219.4h0M328.1 201.3h0M343.7 188.5h0M336.4 192.6h0M346.3 183.8h0M331.6 196.0h0M322.3 208.9h0M338.4 187.5h0M323.0 207.2h0M336.3 189.5h0M339.6 188.1h0M318.1 224.5h0M340.1 190.7h0M330.7 194.2h0M321.7 211.2h0M325.9 204.1h0M347.8 182.6h0M322.2 207.3h0M317.1 212.7h0M356.6 180.4h0M313.6 231.0h0M323.4 201.6h0M323.1 211.3h0M319.7 211.5h0M335.7 190.8h0M318.5 213.6h0M341.6 187.7h0M324.8 204.9h0M333.7 199.0h0M323.3 208.9h0M317.3 215.9h0M351.5 181.8h0M318.3 213.1h0M328.5 196.4h0M321.8 207.1h0M322.8 211.1h0M332.3 197.5h0M334.6 193.4h0M314.8 224.6h0M332.6 199.0h0M314.1 232.7h0M333.0 198.7h0M348.7 181.6h0M342.5 188.3h0M347.2 181.7h0M316.9 222.2h0M321.9 212.2h0M340.6 184.1h0M332.1 197.8h0M315.2 221.2h0M315.8 223.7h0M320.4 214.3h0M324.9 202.9h0M338.5 188.1h0M334.4 193.4h0M346.8 186.0h0M339.9 190.3h0M354.9 181.9h0M317.4 211.7h0M325.1 203.7h0M348.9 181.9h0M340.3 188.5h0M349.9 182.0h0M327.0 200.4h0M326.9 198.8h0M357.3 177.8h0M328.3 199.4h0M316.1 226.6h0M336.8 195.4h0M316.8 215.6h0M320.0 217.9h0M333.4 195.3h0M346.4 184.2h0M330.2 197.4h0M323.6 206.6h0M337.4 189.7h0M339.4 185.7h0M340.3 195.6h0M333.7 193.2h0M320.6 217.2h0M320.3 216.6h0M330.0 203.2h0M322.3 203.4h0M325.9 200.4h0M338.7 192.2h0M342.5 188.2h0M322.1 205.4h0M313.7 223.9h0M317.2 213.0h0M322.7 204.5h0M332.7 197.4h0M332.6 194.8h0M338.5 189.5h0M322.2 212.5h0M320.4 215.2h0M326.1 202.0h0M331.0 199.9h0M325.8 201.1h0M317.3 213.9h0M334.8 192.8h0M337.1 192.3h0M331.0 200.1h0M331.6 197.6h0M352.1 180.9h0M323.5 209.9h0M346.6 184.7h0M314.0 229.8h0M322.6 212.5h0M344.3 186.8h0M325.8 205.9h0M319.1 220.4h0M336.0 191.3h0M336.9 191.8h0M323.2 213.9h0M317.4 220.3h0M335.7 191.3h0M338.9 188.8h0M326.0 203.3h0M314.7 227.3h0M315.1 223.9h0M330.8 201.3h0M333.7 199.3h0M338.1 195.2h0M343.0 196.1h0M344.3 184.9h0M329.3 200.8h0M314.2 232.5h0M316.7 213.8h0M320.2 215.9h0M342.4 188.9h0M335.5 191.7h0M343.2 186.8h0M323.9 202.7h0M337.8 187.9h0M322.2 208.1h0M319.4 218.3h0M323.5 201.2h0M353.1 180.6h0M320.0 216.4h0M343.2 187.5h0M318.3 220.1h0M334.9 192.3h0M326.6 203.8h0M357.0 180.4h0M326.0 204.1h0M321.5 212.6h0M334.1 196.3h0M317.1 215.7h0M356.1 177.5h0M336.0 194.5h0M318.3 222.9h0M316.1 214.9h0M321.2 210.3h0M341.4 185.3h0M323.5 205.4h0M314.9 226.8h0M325.0 209.0h0M339.8 191.2h0M316.1 224.7h0M318.1 221.6h0M319.8 210.8h0M320.6 219.1h0M322.4 209.2h0M332.8 199.0h0M338.2 192.8h0M328.2 200.9h0M342.2 187.2h0M337.5 189.0h0M327.3 199.4h0M315.8 216.0h0M319.0 213.7h0M328.4 198.8h0M333.8 194.0h0M333.5 196.9h0M324.5 200.4h0M317.1 221.3h0M315.5 224.0h0M346.0 183.9h0M347.5 182.1h0M325.5 203.5h0M337.1 189.3h0M326.8 203.3h0M339.7 195.0h0M344.7 184.7h0M338.5 189.1h0M333.0 192.1h0M328.6 200.5h0M316.9 215.9h0M339.2 189.3h0M341.9 188.4h0M321.5 209.1h0M357.2 179.2h0M317.1 222.0h0M319.7 215.6h0M317.8 217.6h0M315.9 227.2h0M329.8 198.7h0M331.5 197.8h0M322.0 212.2h0M335.2 192.0h0M323.1 211.6h0M327.1 200.1h0M337.7 189.4h0M322.7 207.2h0M335.3 192.9h0M328.5 201.2h0M333.8 192.7h0M322.3 210.2h0M322.1 212.6h0M350.3 181.4h0M315.2 228.7h0M335.0 188.5h0M314.4 231.5h0M331.2 200.0h0M329.8 194.4h0M331.4 195.0h0M316.3 221.0h0M313.7 227.3h0M349.1 180.9h0M314.7 227.7h0M349.9 182.5h0M321.2 212.2h0M345.4 187.5h0M331.9 195.6h0M335.7 189.9h0M325.2 203.4h0M319.0 220.6h0M318.6 214.1h0M331.2 199.9h0M320.8 217.1h0M328.1 199.5h0M318.2 213.4h0M342.4 188.3h0M333.2 193.6h0M315.5 223.4h0M327.6 201.9h0M318.6 222.5h0M333.2 192.4h0M324.5 201.5h0M332.9 192.2h0M338.1 190.3h0M318.7 216.4h0M333.5 196.7h0M319.9 207.8h0M326.8 203.2h0M314.4 227.9h0M323.6 204.4h0M325.7 204.6h0M327.4 198.1h0M333.9 193.7h0M332.6 192.8h0M315.2 216.0h0M335.7 191.4h0M341.0 186.5h0M315.0 226.0h0M358.9 179.8h0M320.7 214.0h0M315.6 223.2h0M352.8 180.1h0M340.4 193.1h0M328.1 201.2h0M325.4 206.3h0M328.6 201.0h0M338.4 189.8h0M350.4 182.0h0M330.3 196.0h0M327.6 199.1h0M321.6 208.7h0M340.8 190.0h0M337.7 190.2h0M328.2 198.7h0M320.1 209.4h0M323.5 202.2h0M345.2 186.1h0M338.0 188.7h0M321.9 213.9h0M327.0 202.6h0M338.9 190.9h0M344.3 185.3h0M319.6 210.4h0M319.3 218.2h0M339.1 188.2h0M314.3 231.6h0M334.6 194.4h0M325.2 208.3h0M328.5 201.1h0M317.1 222.4h0M333.7 195.4h0M314.7 226.8h0M321.5 209.2h0M324.7 202.2h0M331.3 200.5h0M337.6 188.6h0M346.2 183.9h0M315.9 223.0h0M316.6 227.8h0M318.2 224.9h0M316.6 222.0h0M317.1 218.1h0M336.0 195.5h0M347.6 182.9h0M330.5 199.0h0M320.2 218.0h0M322.4 210.3h0M328.8 199.7h0M354.1 180.6h0M324.7 202.2h0M314.9 215.5h0M314.1 232.6h0M331.3 193.3h0M332.3 203.3h0M319.1 215.3h0M325.1 203.5h0M331.9 196.2h0M348.4 181.9h0M327.1 199.5h0M324.0 204.7h0M320.7 211.8h0M318.5 220.8h0M315.0 225.2h0M332.1 207.1h0M344.7 186.0h0M330.1 201.7h0M337.2 191.3h0M330.6 201.1h0M314.0 231.1h0M315.2 222.4h0M320.9 217.0h0M327.6 201.8h0M340.2 190.4h0M336.6 193.1h0M317.2 219.0h0M321.2 216.5h0M335.1 195.9h0M354.3 180.7h0M350.7 181.0h0M334.6 190.1h0M335.3 193.9h0M317.2 214.4h0M313.9 227.9h0M322.1 209.2h0M344.7 183.8h0M318.9 209.4h0M328.3 198.1h0M326.0 200.8h0M323.4 202.2h0M350.0 184.2h0M342.0 186.8h0M318.9 212.6h0M340.3 189.4h0M330.6 198.2h0M316.1 220.4h0M331.0 198.6h0M319.1 214.6h0M342.0 188.0h0M333.6 197.2h0M316.3 224.6h0M316.3 220.7h0M316.4 221.6h0M320.6 217.9h0M338.6 198.1h0M317.1 221.7h0M320.9 208.5h0M315.6 215.3h0M341.2 188.2h0M318.1 214.5h0M337.9 192.2h0M333.9 193.1h0M347.5 182.6h0M338.0 187.8h0M314.7 223.2h0M316.1 214.4h0M324.9 204.1h0M348.4 181.6h0M334.4 196.4h0M329.4 200.4h0M337.6 195.1h0M340.5 189.0h0M341.9 190.3h0M321.7 209.1h0M325.6 210.6h0M348.9 182.4h0M320.4 205.1h0M338.4 189.4h0M332.1 199.0h0M327.8 202.1h0M346.1 184.3h0M319.2 220.9h0M313.9 231.8h0M334.6 190.9h0M338.7 188.3h0M317.5 223.8h0M325.4 203.0h0M319.6 213.2h0M346.3 187.3h0M317.4 224.5h0M337.5 194.5h0M318.3 208.7h0M342.9 184.3h0M330.7 202.8h0M317.0 211.8h0M331.0 202.6h0M324.6 203.9h0M322.1 210.7h0M340.0 188.2h0M329.2 201.0h0M319.7 210.2h0M315.4 223.3h0M331.9 207.2h0M315.6 228.4h0M330.0 202.1h0M316.3 221.2h0M331.2 193.4h0M343.2 186.9h0M344.2 186.3h0M330.5 199.7h0M323.3 205.3h0M316.5 214.8h0M320.8 212.0h0M316.4 224.7h0M327.8 201.0h0M321.2 213.1h0M344.8 185.7h0M331.2 199.7h0M327.5 200.2h0M317.3 212.3h0M320.6 211.5h0M330.8 202.4h0M335.8 194.9h0M356.2 178.7h0M338.2 190.9h0M332.6 208.8h0M316.6 225.2h0M328.5 203.6h0M315.2 226.9h0M323.3 205.7h0M317.6 219.3h0M315.0 228.2h0M334.6 190.9h0M329.2 203.2h0M336.7 191.7h0M328.6 201.5h0M317.9 211.0h0M323.7 199.5h0M325.1 204.8h0M330.9 194.6h0M324.2 207.8h0M333.7 191.8h0M327.9 201.5h0M328.7 198.7h0M335.3 204.6h0M319.9 217.1h0M322.5 211.0h0M334.7 193.7h0M321.9 205.6h0M314.5 226.2h0M341.2 187.1h0M322.9 212.1h0M316.4 226.9h0M321.9 209.3h0M335.8 193.4h0M333.2 195.0h0M318.0 211.4h0M315.0 217.9h0M313.9 225.8h0M334.7 193.5h0M331.0 199.3h0M315.8 223.9h0M315.6 216.1h0M324.1 207.2h0M331.4 199.6h0M326.5 204.5h0M342.8 187.3h0M322.2 210.8h0M347.3 182.8h0M342.4 187.1h0M333.7 199.5h0M321.4 213.8h0M334.2 193.3h0M323.5 211.1h0M342.0 186.0h0M320.1 216.0h0M333.1 194.6h0M331.1 195.4h0M330.6 198.0h0M321.9 202.6h0M334.4 198.0h0M333.0 193.2h0M342.8 187.3h0M322.1 216.4h0M337.5 199.9h0M342.3 184.8h0M313.4 225.7h0M314.8 226.8h0M318.1 219.5h0M316.9 216.9h0M327.7 200.2h0M338.3 191.4h0M344.6 187.4h0M329.7 202.8h0M332.7 198.5h0M319.6 211.2h0M319.6 214.4h0M328.7 198.4h0M352.2 179.2h0M334.3 196.3h0M316.6 218.0h0M319.6 214.4h0M346.0 184.4h0M326.5 206.2h0M321.8 214.0h0M331.9 196.2h0M314.0 224.0h0M355.2 177.9h0M336.3 190.4h0M315.4 231.4h0M316.0 216.3h0M330.3 199.3h0M333.4 196.8h0M326.1 200.0h0M338.4 189.6h0M325.8 207.3h0M340.9 189.1h0M331.4 198.0h0M320.2 206.7h0M319.0 218.1h0M324.4 201.1h0M328.0 199.1h0M337.1 190.0h0M331.8 197.4h0M332.6 197.6h0M314.6 232.2h0M319.3 214.9h0M337.2 190.5h0M329.0 199.9h0M320.7 207.8h0M337.5 189.1h0M317.0 216.4h0M318.4 219.7h0M322.1 204.1h0M332.3 199.3h0M315.5 225.5h0M338.0 189.6h0M320.0 209.5h0M338.1 189.0h0M340.2 187.3h0M324.7 207.3h0M322.9 209.0h0M322.7 203.5h0M324.1 209.4h0M330.6 201.0h0M336.2 194.6h0M339.9 188.2h0M316.7 220.5h0M322.1 213.0h0M316.1 223.3h0M313.6 225.4h0M319.4 214.7h0M343.8 184.4h0M316.0 219.5h0M347.7 183.6h0M325.5 201.9h0M320.4 207.6h0M333.5 194.4h0M331.0 199.0h0M319.8 216.2h0M339.6 188.3h0M337.0 193.6h0M320.9 210.1h0M339.0 189.0h0M323.0 208.5h0M336.3 193.9h0M331.8 198.1h0M315.6 225.8h0M320.0 212.9h0M329.4 198.7h0M343.5 186.6h0M336.1 191.7h0M336.6 192.3h0M320.0 210.4h0M318.0 224.0h0M325.2 202.6h0M323.9 203.7h0M342.7 184.2h0M319.2 212.9h0M319.2 210.6h0M328.7 199.4h0M324.6 201.3h0M348.6 183.7h0M328.0 202.1h0M314.6 228.0h0M328.2 202.4h0M323.7 208.5h0M337.3 194.0h0M334.1 190.1h0M324.7 207.4h0M330.5 198.2h0M313.9 224.6h0M331.3 211.7h0M319.6 219.7h0M316.8 222.8h0M323.6 211.1h0M317.2 216.5h0M334.9 195.9h0M315.4 221.2h0M317.2 218.2h0M338.8 190.3h0M382.3 171.5h0M399.0 171.0h0M407.0 174.0h0M356.1 188.9h0M361.1 187.4h0" stroke="#2ca02c" stroke-width="1.25" stroke-linecap="round" fill="none"/>
<line x1="327.2" x2="327.2" y1="168.4" y2="237" stroke="#000" stroke-width="0.7" stroke-dasharray="1.3 0.9"/>
<line x1="307.6" x2="411.9" y1="204.5" y2="204.5" stroke="#000" stroke-width="0.7" stroke-dasharray="1.3 0.9"/>
</g>
<rect x="307.6" y="168.4" width="104.3" height="68.6" fill="none" stroke="#000" stroke-width="0.45"/>
<text x="309.6" y="243.8" font-size="5.7" text-anchor="middle">0.0</text>
<text x="327.55" y="243.8" font-size="5.7" text-anchor="middle">0.1</text>
<text x="345.5" y="243.8" font-size="5.7" text-anchor="middle">0.2</text>
<text x="363.45" y="243.8" font-size="5.7" text-anchor="middle">0.3</text>
<text x="381.4" y="243.8" font-size="5.7" text-anchor="middle">0.4</text>
<text x="399.35" y="243.8" font-size="5.7" text-anchor="middle">0.5</text>
<text transform="translate(305 225.8) scale(0.84 1)" font-size="6.2" text-anchor="end">10<tspan dy="-2.4" font-size="4.3">−6</tspan></text>
<text transform="translate(305 198.7) scale(0.84 1)" font-size="6.2" text-anchor="end">10<tspan dy="-2.4" font-size="4.3">−4</tspan></text>
<text transform="translate(305 171.5) scale(0.84 1)" font-size="6.2" text-anchor="end">10<tspan dy="-2.4" font-size="4.3">−2</tspan></text>
<path d="M309.6 237v1.8M327.55 237v1.8M345.5 237v1.8M363.45 237v1.8M381.4 237v1.8M399.35 237v1.8M307.6 223.6h-1.8M307.6 196.5h-1.8M307.6 169.3h-1.8" stroke="#000" stroke-width="0.45" fill="none"/>
<text x="359.75" y="166" font-size="7" text-anchor="middle">pz</text>
</svg></body></html>
